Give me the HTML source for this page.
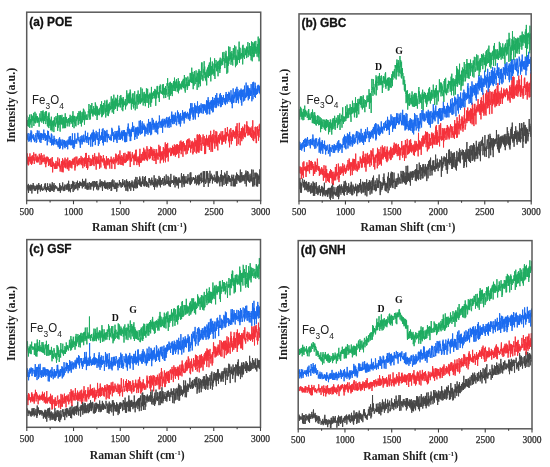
<!DOCTYPE html>
<html><head><meta charset="utf-8"><style>
html,body{margin:0;padding:0;background:#fff;}
body{width:550px;height:467px;overflow:hidden;}
svg{display:block;will-change:transform;}
.cv{filter:blur(0.3px);}
.tk{font-family:"Liberation Serif",serif;font-size:9.5px;fill:#2a2a2a;stroke:#2a2a2a;stroke-width:0.25px;text-anchor:middle;}
.xl{font-family:"Liberation Serif",serif;font-size:11.7px;font-weight:bold;fill:#222;text-anchor:middle;}
.yl{font-family:"Liberation Serif",serif;font-size:12px;font-weight:bold;fill:#222;text-anchor:middle;}
.pl{font-family:"Liberation Sans",sans-serif;font-size:11.9px;font-weight:bold;fill:#111;stroke:#111;stroke-width:0.3px;}
.fe{font-family:"Liberation Sans",sans-serif;font-size:12.1px;fill:#222;}
.dg{font-family:"Liberation Serif",serif;font-size:9.8px;font-weight:bold;fill:#111;}
</style></head><body>
<svg width="550" height="467" viewBox="0 0 550 467">
<clipPath id="cpa"><rect x="26.7" y="12.2" width="234.0" height="188.3"/></clipPath>
<g class="cv"><g clip-path="url(#cpa)" fill="none" stroke-width="1.0" stroke-linejoin="bevel"><path stroke="#474747" d="M26.70 185.0l.18 5.6 .18-4.4 .18 1.3 .18 .3 .18-1.4 .18-1.3 .18 4.3 .18-.6 .18-4.9 .18 9.0 .18-2.9 .18-3.6 .18 3.5 .18-2.9 .18 .9 .18-.3 .18-2.3 .18 3.9 .18 1.8 .18-.2 .18-3.4 .18 2.5 .18-5.3 .18 3.1 .18 1.3 .18-3.8 .18 2.6 .18 3.9 .18 1.8 .18-3.9 .18 .2 .18-3.8 .18-.6 .18-.4 .18 4.2 .18-6.2 .18 3.6 .18-1.2 .18 3.1 .18 .2 .18-1.0 .18 3.0 .18-2.9 .18 .1 .18-2.3 .18 2.7 .18 2.6 .18-2.8 .18 .1 .18 2.3 .18-4.5 .18 3.1 .18 .1 .18 .1 .18-3.0 .18 2.3 .18-4.0 .18 4.0 .18-3.3 .18 2.5 .18 5.8 .18-6.5 .18 .5 .18 0 .18-1.4 .18 3.3 .18-6.5 .18 6.4 .18-4.4 .18 1.0 .18-.4 .18 2.4 .18 1.2 .18-3.5 .18 1.9 .18 3.9 .18-4.2 .18-1.1 .18-.8 .18 2.1 .18-1.0 .18-2.4 .18 5.7 .18-3.0 .18 1.2 .18 .8 .18 2.0 .18-1.2 .18 .5 .18-1.8 .18 .7 .18 .9 .18 .3 .18-1.5 .18 0 .18-1.5 .18-.8 .18-.5 .18 2.9 .18-1.3 .18-3.9 .18 4.1 .18 2.6 .18-4.7 .18-2.2 .18 4.3 .18 2.0 .18-1.3 .18-1.3 .18 5.0 .18-4.7 .18 .4 .18 2.0 .18-.9 .18 .8 .18-6.4 .18 6.5 .18-1.6 .18-1.6 .18-.4 .18 3.1 .18 1.3 .18-1.9 .18-.6 .18 .5 .18-.5 .18 1.1 .18 2.7 .18-8.3 .18 3.5 .18-1.6 .18 6.1 .18-4.0 .18-.2 .18-2.8 .18 4.0 .18-2.0 .18 3.9 .18-.6 .18-3.6 .18 2.6 .18-6.7 .18 4.3 .18 4.3 .18-1.6 .18-.8 .18-1.7 .18-1.9 .18 .2 .18 3.5 .18 3.4 .18-8.8 .18 6.3 .18-.1 .18 .8 .18-4.0 .18 .7 .18 1.3 .18-2.4 .18-.5 .18 .8 .18 1.8 .18 1.0 .18-.9 .18 .3 .18-1.7 .18-.1 .18 .5 .18 1.0 .18-.1 .18 2.3 .18 .7 .18 0 .18-1.9 .18-1.1 .18 .8 .18-.3 .18 2.8 .18-2.5 .18 .8 .18-1.6 .18 3.2 .18-7.8 .18 5.5 .18 .9 .18-4.4 .18 7.5 .18-5.2 .18-.1 .18 .7 .18 1.7 .18-1.5 .18-1.9 .18 1.8 .18 1.1 .18 1.2 .18-2.3 .18-2.7 .18 .9 .18-4.0 .18 3.5 .18 3.4 .18-.7 .18-1.3 .18-.2 .18 4.0 .18-4.6 .18 3.0 .18-1.2 .18-2.4 .18 5.1 .18-6.5 .18 .1 .18 1.7 .18-.7 .18 .4 .18-.1 .18 3.6 .18-2.2 .18 .7 .18-.3 .18-2.5 .18 4.4 .18-5.3 .18 5.4 .18-6.0 .18 4.0 .18-2.7 .18 2.4 .18-3.8 .18 2.7 .18 4.4 .18-9.9 .18 10.7 .18-5.8 .18-1.7 .18 2.9 .18-1.1 .18 5.0 .18-2.1 .18 .7 .18-1.3 .18 4.2 .18-3.9 .18-.6 .18-3.2 .18-.2 .18 2.5 .18 1.8 .18 .3 .18-4.8 .18 3.4 .18-.8 .18-3.1 .18 3.8 .18-6.6 .18 5.9 .18 5.2 .18-8.2 .18 2.4 .18-4.5 .18 2.6 .18-2.0 .18 8.0 .18-4.4 .18-.8 .18 0 .18 1.3 .18 .6 .18 1.8 .18-1.0 .18-3.3 .18 4.6 .18-.4 .18-6.6 .18 5.2 .18 .3 .18 .4 .18-1.1 .18-.2 .18-1.7 .18-4.3 .18 4.5 .18 5.1 .18-3.2 .18 .4 .18-3.2 .18-1.2 .18 4.0 .18-1.4 .18-2.2 .18 .4 .18 4.2 .18-6.6 .18 .7 .18 1.9 .18-1.3 .18 2.2 .18-3.1 .18 3.8 .18-.8 .18 1.2 .18-3.5 .18 3.2 .18-.1 .18-2.1 .18 1.0 .18-.8 .18 4.6 .18-9.5 .18 2.7 .18-.6 .18 3.2 .18-.7 .18 .6 .18 2.7 .18-5.7 .18 1.9 .18 1.5 .18-2.4 .18 3.8 .18-.1 .18-2.5 .18-2.5 .18 8.0 .18-2.7 .18-.1 .18-7.3 .18 6.3 .18 2.0 .18-2.0 .18 2.5 .18-.8 .18 2.8 .18-6.4 .18-.3 .18 5.0 .18-1.3 .18 3.3 .18-6.1 .18-.5 .18 2.8 .18 2.3 .18-1.9 .18-.4 .18 3.6 .18-6.4 .18-1.2 .18 1.2 .18 1.0 .18 2.4 .18 .9 .18-1.5 .18 2.7 .18-5.7 .18 6.6 .18-6.6 .18 3.2 .18-3.5 .18 3.1 .18-.7 .18 1.2 .18 .5 .18-2.3 .18 .3 .18 .8 .18-3.8 .18 1.4 .18-2.2 .18 3.3 .18 6.1 .18-3.6 .18-3.9 .18 .4 .18 4.1 .18-3.6 .18-2.7 .18 1.4 .18-.1 .18 .1 .18 4.2 .18-1.5 .18-3.4 .18 1.9 .18-1.5 .18-.2 .18-.7 .18 8.0 .18-5.1 .18-3.2 .18 6.1 .18-3.0 .18 2.2 .18 0 .18-.8 .18 4.8 .18-4.6 .18 .5 .18 .4 .18 2.8 .18-1.9 .18-3.7 .18-.9 .18-.2 .18 .7 .18 2.6 .18 1.1 .18-7.7 .18 5.6 .18-2.5 .18 4.2 .18 .6 .18-4.2 .18 .8 .18-1.3 .18 3.4 .18-5.0 .18 1.2 .18 1.1 .18 4.8 .18 2.9 .18-6.0 .18-3.1 .18 3.3 .18-2.4 .18 3.3 .18-3.9 .18 1.9 .18 .9 .18 1.3 .18-4.0 .18 5.9 .18-2.9 .18-4.8 .18 5.9 .18-2.1 .18-1.0 .18 5.5 .18-6.3 .18 2.7 .18-2.0 .18 5.2 .18-4.3 .18 1.5 .18-2.6 .18 5.6 .18-6.3 .18 5.0 .18-.8 .18 1.6 .18 1.5 .18-7.5 .18 3.9 .18-.7 .18 .8 .18 1.7 .18-2.5 .18-2.4 .18 1.9 .18 4.1 .18-6.9 .18 3.2 .18-2.7 .18 5.3 .18-5.4 .18 1.7 .18 .6 .18 .6 .18 5.7 .18-2.1 .18-6.5 .18 8.1 .18-8.5 .18-1.7 .18 .9 .18 4.3 .18 .9 .18-7.0 .18 6.7 .18-1.8 .18 2.5 .18-2.8 .18 2.4 .18 0 .18-6.0 .18 8.3 .18-3.2 .18 1.4 .18 1.3 .18 .9 .18-4.3 .18-1.9 .18-.3 .18 6.2 .18-2.9 .18 2.5 .18 .1 .18-3.6 .18-2.0 .18 8.8 .18-1.2 .18-5.8 .18-2.1 .18 1.3 .18 1.8 .18 2.2 .18-.4 .18-3.8 .18 .6 .18 1.1 .18-1.2 .18 .9 .18-.4 .18-.4 .18-4.2 .18 4.0 .18 .1 .18-2.2 .18 4.5 .18-4.3 .18 1.0 .18 1.0 .18 .1 .18-.9 .18 4.3 .18-2.3 .18 .3 .18-.2 .18-2.4 .18-.5 .18 4.4 .18-3.1 .18-3.7 .18-1.1 .18 6.3 .18-2.5 .18 1.7 .18-1.2 .18 .3 .18 .6 .18-2.8 .18 3.2 .18 2.6 .18-.8 .18-6.3 .18 1.0 .18 0 .18 2.8 .18 2.9 .18-1.4 .18 5.3 .18-6.0 .18 1.9 .18-3.3 .18-4.0 .18 3.5 .18 4.7 .18 3.1 .18-9.5 .18 2.5 .18 2.3 .18 5.3 .18-7.6 .18 2.3 .18-.8 .18-1.9 .18-1.1 .18 .8 .18 4.2 .18-6.1 .18 7.4 .18-7.1 .18 1.8 .18 3.4 .18-3.4 .18 1.0 .18-.8 .18 7.4 .18-2.0 .18-1.8 .18-3.5 .18 3.1 .18-4.4 .18 1.4 .18-3.2 .18 .7 .18 .7 .18 5.6 .18-2.7 .18 .8 .18-1.0 .18 .5 .18 .2 .18 5.6 .18-6.4 .18-2.8 .18 .3 .18 5.3 .18 .5 .18-2.3 .18-5.9 .18 8.6 .18-3.4 .18-1.0 .18 .2 .18-7.0 .18 11.6 .18-.2 .18-7.4 .18 2.4 .18 1.3 .18 2.5 .18-9.9 .18 9.0 .18 1.9 .18-5.3 .18 .7 .18-.4 .18 1.5 .18-4.6 .18 .4 .18 .4 .18-1.1 .18 3.8 .18-1.4 .18 1.5 .18 1.8 .18-8.9 .18 7.5 .18-5.6 .18 6.6 .18-1.9 .18 3.4 .18-4.4 .18 2.1 .18-1.2 .18 .2 .18 3.5 .18-5.2 .18 2.2 .18 .1 .18-1.6 .18-4.9 .18 6.8 .18-7.9 .18 2.9 .18 2.8 .18 2.4 .18 1.2 .18-.1 .18-.7 .18-5.5 .18 7.2 .18-4.1 .18 3.8 .18-9.1 .18 3.4 .18 1.1 .18-2.5 .18-3.0 .18 9.2 .18 .5 .18-.6 .18-3.6 .18 5.4 .18-5.5 .18 4.0 .18-2.7 .18 .1 .18-.4 .18 .4 .18 3.1 .18 .9 .18-.1 .18-1.4 .18-.7 .18-.6 .18 3.6 .18-9.4 .18 2.8 .18 1.9 .18-4.7 .18 3.9 .18 .4 .18-2.6 .18 1.2 .18 3.5 .18-2.6 .18 .9 .18 2.6 .18-4.6 .18-1.4 .18 3.0 .18 1.2 .18-6.1 .18 6.9 .18-2.8 .18-.3 .18-1.2 .18 1.8 .18 3.2 .18-1.3 .18 .8 .18-2.7 .18 4.9 .18-.9 .18-3.6 .18-7.1 .18 7.3 .18 7.0 .18-7.4 .18-2.6 .18 7.5 .18-6.4 .18 3.0 .18 .8 .18-6.2 .18 4.4 .18 2.9 .18-4.2 .18 2.7 .18-1.9 .18 2.9 .18 2.3 .18-8.2 .18 2.2 .18 4.8 .18-5.7 .18 .4 .18 .3 .18 .2 .18-1.1 .18 2.8 .18 1.3 .18-8.5 .18 8.1 .18 1.4 .18-7.1 .18 3.5 .18 .8 .18 .9 .18-6.0 .18 9.8 .18-7.8 .18 3.3 .18 1.3 .18 .9 .18-4.9 .18 .4 .18 2.5 .18 .6 .18 .9 .18-2.7 .18-1.8 .18-1.8 .18 3.1 .18-3.3 .18 5.8 .18-1.2 .18 1.4 .18 .5 .18 1.1 .18-4.0 .18 1.3 .18-6.6 .18 5.6 .18-2.7 .18 2.1 .18 3.9 .18-3.2 .18 2.8 .18-4.1 .18-.8 .18 .6 .18-6.0 .18 6.3 .18 .1 .18 3.2 .18-2.5 .18-.3 .18 1.7 .18 .4 .18-2.9 .18 3.5 .18-8.1 .18 4.8 .18 .4 .18 4.1 .18-5.2 .18-2.7 .18 4.7 .18 4.3 .18-5.4 .18 .3 .18-.3 .18 .7 .18 3.5 .18 1.9 .18-4.3 .18-1.6 .18-7.2 .18 9.9 .18-2.3 .18-1.2 .18 .1 .18 1.6 .18-1.5 .18 2.0 .18-.9 .18 1.3 .18-2.7 .18 .5 .18 1.2 .18-.5 .18 .1 .18 3.1 .18-6.5 .18-2.5 .18 7.6 .18-2.7 .18-.3 .18 .7 .18-3.1 .18 9.6 .18-5.2 .18-5.4 .18 2.1 .18 3.8 .18-3.6 .18 3.1 .18 2.2 .18-7.4 .18 3.0 .18 2.4 .18 3.3 .18-2.1 .18-4.0 .18 5.5 .18-5.2 .18 .5 .18 1.6 .18-4.3 .18 10.7 .18-4.1 .18-2.8 .18-2.3 .18-1.7 .18 4.4 .18 .9 .18-3.2 .18 .6 .18 2.2 .18-1.8 .18 2.0 .18 0 .18-1.2 .18 1.4 .18-4.3 .18-4.0 .18-1.4 .18 9.2 .18 4.3 .18 .8 .18-5.9 .18-5.2 .18 3.3 .18 2.2 .18 0 .18-1.0 .18 3.6 .18-6.5 .18-3.7 .18 3.7 .18-.8 .18 9.8 .18-7.0 .18-3.6 .18 6.0 .18 1.0 .18-2.8 .18 .4 .18 2.4 .18-1.5 .18-3.5 .18-2.1 .18 6.8 .18-1.7 .18 1.5 .18-.8 .18 1.4 .18-3.6 .18 2.2 .18-3.4 .18 5.0 .18 .2 .18-9.6 .18 5.7 .18-2.0 .18 .4 .18 2.2 .18-.9 .18 2.1 .18-.7 .18 .1 .18-3.4 .18 1.3 .18 5.3 .18-11.6 .18 12.4 .18-6.8 .18 5.1 .18-11.1 .18 11.6 .18-1.5 .18-2.0 .18 2.5 .18-5.6 .18 .9 .18-.3 .18 3.5 .18-.2 .18-1.7 .18-.5 .18-.1 .18 1.1 .18-3.0 .18 2.6 .18-.3 .18-1.2 .18-.1 .18 1.0 .18-1.1 .18 3.0 .18 2.8 .18-1.8 .18-2.2 .18 3.0 .18-7.3 .18 .6 .18 2.4 .18 .5 .18 .4 .18 5.9 .18-.6 .18-5.2 .18 .9 .18-3.5 .18 3.7 .18-5.0 .18 8.2 .18-6.9 .18 4.3 .18-5.5 .18 8.0 .18-2.3 .18 4.0 .18-5.7 .18-5.0 .18 2.4 .18-1.4 .18 8.5 .18-6.6 .18-.4 .18 4.0 .18-1.0 .18 .7 .18-3.0 .18-4.5 .18 1.9 .18-2.5 .18 10.4 .18-1.1 .18-3.9 .18 3.0 .18 .1 .18-.1 .18-.3 .18 1.0 .18-2.4 .18-6.9 .18-1.2 .18 11.7 .18-2.1 .18-9.4 .18 15.5 .18-10.6 .18 1.0 .18-6.2 .18 10.2 .18-2.6 .18 2.7 .18 .8 .18 .6 .18 1.1 .18-4.1 .18-.2 .18-2.6 .18-6.0 .18 7.2 .18-2.9 .18 7.2 .18-1.5 .18-10.1 .18 2.3 .18 6.1 .18-4.6 .18-1.5 .18 6.2 .18 7.3 .18-5.0 .18 1.2 .18-5.0 .18 2.8 .18-1.2 .18 1.7 .18-.7 .18 2.6 .18-12.4 .18 6.6 .18 3.7 .18-5.8 .18 4.5 .18-.4 .18-2.5 .18-3.2 .18 4.8 .18-1.3 .18 1.5 .18-1.8 .18 2.1 .18-3.4 .18 7.9 .18-5.5 .18 2.3 .18 .7 .18-2.8 .18 1.8 .18-2.1 .18-.6 .18 .6 .18 2.2 .18-5.4 .18 1.1 .18 .3 .18 .7 .18 5.3 .18-3.6 .18-.9 .18 1.4 .18 2.8 .18-.2 .18 .1 .18-10.4 .18 4.5 .18 7.3 .18 .2 .18-4.2 .18-2.8 .18 4.7 .18-9.6 .18 11.9 .18-1.2 .18-1.3 .18-5.0 .18 5.7 .18-3.8 .18 0 .18-.6 .18 1.0 .18 1.9 .18 1.1 .18 0 .18 5.2 .18-8.9 .18 2.5 .18-3.5 .18-1.8 .18 4.4 .18 3.2 .18-3.0 .18-.4 .18-8.7 .18 11.2 .18-4.5 .18 2.8 .18 6.7 .18-8.4 .18 8.4 .18-11.1 .18 5.7 .18-2.3 .18-2.6 .18-.2 .18 3.5 .18-3.2 .18 8.8 .18-7.2 .18 .1 .18 .2 .18-5.4 .18 1.2 .18 3.4 .18 1.0 .18-3.8 .18 9.2 .18-3.9 .18 2.7 .18-.4 .18-4.4 .18 8.4 .18-7.3 .18-6.3 .18-1.5 .18 7.4 .18 2.7 .18-2.5 .18 5.2 .18-6.4 .18 2.8 .18 .5 .18-5.6 .18 4.2 .18 .2 .18 2.3 .18 .4 .18-.7 .18-5.5 .18 4.7 .18 1.0 .18-3.2 .18 2.2 .18 .1 .18 1.3 .18-3.5 .18 1.3 .18 6.4 .18-7.7 .18-2.2 .18 .9 .18-2.5 .18 3.5 .18 2.2 .18-2.8 .18 3.0 .18-2.7 .18-.7 .18 9.1 .18-5.6 .18-1.2 .18-4.7 .18 11.5 .18-5.7 .18-1.6 .18 .1 .18 7.2 .18-6.3 .18-1.4 .18 2.0 .18 5.7 .18-8.6 .18-.6 .18-1.5 .18 2.5 .18-.5 .18 1.0 .18-6.0 .18 11.3 .18-5.9 .18 2.0 .18-5.1 .18-.8 .18 4.2 .18-1.1 .18 3.1 .18-5.0 .18-.2 .18 4.2 .18 1.2 .18 .7 .18-3.0 .18 .9 .18-3.4 .18 6.8 .18-.6 .18-.1 .18-8.7 .18-3.5 .18 6.3 .18 6.6 .18-2.9 .18 2.5 .18-4.5 .18-.5 .18-2.1 .18-2.9 .18 8.0 .18-4.8 .18 5.1 .18-3.4 .18-.6 .18 4.9 .18-.3 .18-6.0 .18 2.7 .18 .5 .18 2.1 .18-4.5 .18 1.0 .18 1.0 .18 2.6 .18 .7 .18-6.6 .18 9.3 .18-4.3 .18-6.2 .18-.1 .18 3.4 .18-6.1 .18 8.3 .18 7.6 .18-4.1 .18-2.5 .18-7.2 .18 4.7 .18 3.1 .18-9.3 .18 4.4 .18 4.7 .18-1.9 .18-6.6 .18 4.8 .18 1.7 .18 3.4 .18-4.9 .18-1.5 .18 3.8 .18 .2 .18 .8 .18 2.8 .18-4.8 .18-4.3 .18 4.6 .18-.1 .18 3.1 .18-.4 .18-5.1 .18 4.9 .18 .7 .18-3.8 .18-8.1 .18 9.2 .18 .1 .18-1.1 .18 3.1 .18 5.7 .18-7.6 .18-4.5 .18-4.7 .18 6.6 .18 2.9 .18-1.5 .18 8.8 .18-5.9 .18-1.5 .18 6.0 .18-7.6 .18 7.4 .18-12.2 .18 6.0 .18-5.6 .18 .1 .18 .3 .18 3.7 .18 .4 .18-5.0 .18 13.7 .18-2.8 .18 .1 .18-8.1 .18-2.2 .18 5.6 .18-.1 .18 7.8 .18-12.3 .18 9.3 .18-7.8 .18 3.4 .18 .8 .18-4.3 .18 1.3 .18 3.0 .18 3.9 .18-7.7 .18 2.4 .18-9.2 .18 5.5 .18 4.7 .18-1.5 .18-.6 .18 6.0"/><path stroke="#f5323c" d="M26.70 160.0l.18 1.8 .18 .4 .18-8.8 .18 5.2 .18 4.9 .18-2.9 .18 3.9 .18-7.3 .18 8.2 .18-2.5 .18 2.1 .18-8.3 .18 4.6 .18-2.4 .18 2.5 .18-2.4 .18-2.7 .18-2.9 .18 4.2 .18 6.1 .18-6.5 .18 3.8 .18-4.2 .18 .5 .18 2.6 .18-2.4 .18 7.4 .18-1.9 .18-7.2 .18 4.8 .18 2.9 .18-8.1 .18 2.4 .18 .3 .18-1.6 .18 4.3 .18-2.2 .18 .8 .18-7.0 .18 6.2 .18-1.4 .18 6.8 .18-3.3 .18-1.6 .18-.4 .18 2.1 .18-6.8 .18 1.7 .18 .2 .18 .4 .18-2.5 .18 6.4 .18-3.0 .18 5.1 .18-4.0 .18-.8 .18 2.4 .18-4.2 .18 2.0 .18 2.6 .18 2.0 .18-5.1 .18 5.2 .18-4.4 .18 3.1 .18-2.7 .18-1.0 .18 2.1 .18-4.3 .18-1.4 .18 4.6 .18-.6 .18-2.6 .18 9.7 .18-6.2 .18-2.9 .18 4.3 .18 .1 .18-2.7 .18-.4 .18-4.0 .18 6.3 .18 5.0 .18-2.1 .18-.3 .18-6.7 .18 6.9 .18-.5 .18-1.7 .18-1.0 .18-.7 .18 3.9 .18-.9 .18-3.2 .18 1.1 .18-4.6 .18 1.6 .18 5.4 .18-.6 .18-3.6 .18 3.6 .18 3.1 .18-6.3 .18 1.7 .18 .3 .18 7.4 .18-3.3 .18-2.2 .18-5.0 .18 6.8 .18-.5 .18-2.2 .18-1.6 .18 1.0 .18-3.5 .18 4.0 .18-.1 .18-1.3 .18 2.6 .18-4.4 .18 8.4 .18-3.9 .18-3.0 .18 6.1 .18-.5 .18-3.2 .18-2.3 .18 3.9 .18 1.7 .18 .6 .18 1.0 .18-.1 .18-7.0 .18 4.9 .18-5.9 .18 8.7 .18-1.6 .18 1.7 .18-2.7 .18 0 .18-1.6 .18-5.7 .18 6.9 .18 8.5 .18-3.8 .18-4.6 .18-2.2 .18 4.4 .18-3.1 .18 1.8 .18 1.1 .18-2.6 .18 3.0 .18 2.4 .18-1.2 .18-1.7 .18-1.4 .18 2.8 .18-3.9 .18-.3 .18 5.9 .18-5.1 .18-3.0 .18 6.8 .18-.4 .18 1.2 .18-3.8 .18 3.9 .18-4.0 .18-2.7 .18 2.6 .18 1.3 .18-8.4 .18 7.0 .18 1.4 .18-2.1 .18 1.5 .18-.3 .18-2.5 .18 3.6 .18 .7 .18-8.0 .18 4.1 .18 4.6 .18-1.1 .18 5.3 .18-6.0 .18 3.6 .18-1.7 .18-.3 .18-2.8 .18 .6 .18-3.8 .18 3.6 .18 7.1 .18-.1 .18-10.0 .18 4.5 .18-8.0 .18 13.4 .18-5.2 .18 5.9 .18-9.0 .18-1.7 .18 3.2 .18-.3 .18-5.0 .18 7.9 .18-4.2 .18-2.3 .18 3.9 .18 1.7 .18-8.9 .18 4.5 .18 5.4 .18-4.7 .18 1.9 .18 3.6 .18-8.1 .18-.9 .18 2.0 .18 .8 .18 1.9 .18 2.9 .18-4.4 .18 6.6 .18-4.6 .18-7.0 .18 6.1 .18 2.4 .18 1.2 .18-5.8 .18 1.9 .18 7.3 .18-6.6 .18-3.4 .18 5.7 .18-4.2 .18 2.5 .18-4.7 .18 7.8 .18-6.7 .18 3.7 .18 .7 .18-2.0 .18-.9 .18 4.8 .18-6.0 .18 4.1 .18-3.9 .18 6.8 .18-5.2 .18 0 .18-3.9 .18 3.5 .18 1.7 .18-2.2 .18-3.8 .18 4.7 .18-1.9 .18 3.5 .18-.4 .18-4.9 .18 2.4 .18-4.4 .18 5.7 .18 2.3 .18 5.0 .18-6.8 .18 2.4 .18 1.3 .18-2.4 .18-8.3 .18 4.5 .18 2.5 .18-.1 .18-.6 .18-3.3 .18-3.1 .18 7.1 .18 2.5 .18-5.3 .18 3.3 .18-3.5 .18 1.2 .18-1.4 .18 4.5 .18-5.6 .18 2.5 .18 3.3 .18-3.0 .18-3.9 .18 5.2 .18-1.9 .18-3.6 .18 3.6 .18-.4 .18 1.1 .18-1.8 .18 1.9 .18 1.6 .18-8.1 .18 9.3 .18-3.2 .18-3.3 .18 3.7 .18 .9 .18-3.6 .18-2.3 .18 5.8 .18 3.7 .18 1.3 .18-6.3 .18-3.2 .18 0 .18 2.0 .18-2.2 .18 4.6 .18 2.7 .18-7.6 .18 8.3 .18-7.8 .18 7.4 .18-8.9 .18 6.8 .18-2.7 .18 .4 .18-8.7 .18 6.6 .18 2.9 .18-9.6 .18 15.0 .18-5.4 .18 2.5 .18-4.5 .18 4.0 .18 1.2 .18 4.1 .18-11.7 .18 10.2 .18-10.3 .18 4.0 .18-1.8 .18 .7 .18-5.7 .18 5.3 .18-2.9 .18 3.2 .18 1.5 .18-.6 .18-.6 .18 5.0 .18-3.5 .18 .8 .18 2.5 .18-7.5 .18 3.4 .18 1.9 .18-3.1 .18 5.0 .18-6.3 .18 1.4 .18 .2 .18-.6 .18 1.0 .18-1.5 .18-4.9 .18 10.2 .18-5.2 .18 3.8 .18-6.0 .18 1.8 .18-2.5 .18 9.1 .18-5.3 .18-1.1 .18-6.5 .18 .4 .18 5.9 .18-.5 .18 0 .18 .3 .18 4.9 .18-4.5 .18-3.5 .18 13.5 .18-12.3 .18 4.8 .18-2.7 .18 .2 .18 2.2 .18-.8 .18 2.4 .18-.1 .18-6.8 .18 1.7 .18 5.8 .18-4.5 .18 3.4 .18-5.1 .18-5.2 .18 .8 .18 5.0 .18 .9 .18 9.3 .18-5.3 .18-.2 .18 .8 .18-8.5 .18 5.6 .18-.6 .18 7.0 .18-9.0 .18-2.5 .18 5.1 .18-.9 .18 1.0 .18 .5 .18-.3 .18-2.7 .18 .6 .18 2.1 .18-2.6 .18 3.8 .18-5.1 .18-2.4 .18 4.7 .18 1.8 .18 3.8 .18-.8 .18-2.8 .18-3.3 .18 9.1 .18-6.3 .18 7.1 .18-4.9 .18 .8 .18-1.0 .18-.5 .18-2.3 .18 8.7 .18-7.0 .18-6.1 .18 6.2 .18-3.3 .18 5.6 .18-3.9 .18 4.6 .18-3.7 .18-3.0 .18 1.5 .18 3.5 .18-4.5 .18-.8 .18 2.2 .18 1.7 .18 3.1 .18-2.7 .18 1.4 .18-3.5 .18 6.9 .18 1.2 .18-9.4 .18 2.7 .18-1.3 .18 1.5 .18-2.1 .18 1.4 .18-4.8 .18 2.6 .18 1.8 .18 3.5 .18 4.3 .18-9.3 .18-.8 .18 3.8 .18-2.4 .18 1.1 .18 1.7 .18 .5 .18-.7 .18 1.4 .18-4.3 .18-2.5 .18 1.2 .18 3.7 .18-2.6 .18-.3 .18 2.2 .18 7.6 .18-8.2 .18-1.5 .18 1.2 .18-.9 .18-6.1 .18 9.7 .18-9.0 .18 4.1 .18 .4 .18 3.0 .18-2.3 .18-.9 .18-.8 .18 3.1 .18-2.0 .18-1.4 .18-2.2 .18 9.7 .18-4.6 .18-6.0 .18 5.9 .18-.2 .18 3.7 .18-6.5 .18-1.0 .18 3.0 .18-1.0 .18-7.8 .18 14.1 .18-.2 .18-4.4 .18-3.4 .18 3.2 .18-1.4 .18 6.6 .18-3.2 .18-3.5 .18-3.2 .18 1.2 .18 1.6 .18-.8 .18 7.8 .18-4.4 .18-3.9 .18 2.3 .18 6.7 .18-7.5 .18 3.2 .18-8.2 .18 4.1 .18 1.3 .18 3.2 .18-2.6 .18 1.2 .18 2.8 .18-10.3 .18 6.4 .18 2.2 .18-1.7 .18 3.2 .18-4.7 .18-.9 .18-1.4 .18 6.1 .18-7.8 .18 3.0 .18 1.4 .18 2.3 .18-3.3 .18-2.3 .18 5.4 .18-6.2 .18 1.5 .18-4.6 .18 7.7 .18-1.0 .18-5.9 .18 7.5 .18 .6 .18-4.4 .18-3.6 .18 5.6 .18 .1 .18-6.5 .18 15.5 .18-9.2 .18 3.5 .18-7.0 .18 7.0 .18-2.2 .18 1.6 .18-2.5 .18 3.2 .18-4.1 .18-1.0 .18-2.2 .18-1.9 .18 5.8 .18-1.5 .18 .9 .18-.7 .18 2.2 .18-1.1 .18-2.3 .18 4.8 .18 4.8 .18-10.7 .18 1.6 .18 3.5 .18-4.6 .18 6.2 .18-6.1 .18-1.9 .18 .9 .18 7.2 .18-11.1 .18 7.7 .18-8.2 .18 10.4 .18-1.2 .18 .9 .18 5.4 .18-8.0 .18 4.5 .18-2.0 .18 1.6 .18-2.1 .18 2.4 .18-5.2 .18 6.5 .18-1.9 .18-3.2 .18 1.9 .18 5.2 .18-6.5 .18 8.3 .18-12.1 .18 5.1 .18-10.8 .18 7.7 .18 .8 .18 2.6 .18 3.1 .18-4.7 .18-.4 .18-3.9 .18 7.0 .18 1.4 .18-5.5 .18-3.0 .18 1.1 .18 2.2 .18 .4 .18 2.8 .18-8.5 .18 5.5 .18 3.0 .18-2.1 .18 1.2 .18-11.7 .18 6.0 .18 1.5 .18-1.3 .18-3.2 .18 9.8 .18-3.0 .18-8.1 .18 5.3 .18 1.8 .18-3.9 .18 6.2 .18-7.1 .18 2.1 .18 3.2 .18 2.8 .18-5.3 .18-.8 .18-7.6 .18 10.4 .18 4.5 .18-3.3 .18 1.9 .18-11.0 .18 2.2 .18-.7 .18 3.1 .18 3.8 .18-2.4 .18 2.8 .18-4.7 .18 6.4 .18-.5 .18-9.7 .18 2.4 .18 1.7 .18 5.3 .18-.2 .18-11.5 .18 2.9 .18 6.4 .18-4.8 .18 2.8 .18 .5 .18-7.3 .18 8.9 .18-2.8 .18-3.2 .18 10.1 .18-8.0 .18 3.4 .18-3.5 .18-3.3 .18 4.1 .18 2.9 .18-5.0 .18 5.6 .18 4.6 .18-2.3 .18-5.4 .18-1.9 .18 6.5 .18-8.8 .18 1.3 .18 10.5 .18-5.1 .18 .4 .18-3.0 .18 10.8 .18 0 .18-10.2 .18 3.7 .18-8.3 .18 6.9 .18 3.3 .18-.2 .18-5.5 .18 2.1 .18-1.9 .18-1.3 .18 7.1 .18-3.3 .18-2.7 .18 2.2 .18-11.1 .18 2.8 .18 2.2 .18 .7 .18 6.2 .18-9.3 .18 8.2 .18-9.4 .18 17.1 .18-11.8 .18 2.8 .18 6.1 .18-7.6 .18 1.1 .18 .2 .18 1.6 .18-4.2 .18 8.7 .18-2.4 .18-3.9 .18 5.0 .18-6.0 .18-1.7 .18 1.6 .18 2.2 .18-7.9 .18 15.4 .18-6.1 .18 4.4 .18-6.6 .18-5.6 .18 5.0 .18-1.1 .18 1.6 .18 2.4 .18-11.6 .18-2.5 .18 19.9 .18-15.5 .18-1.5 .18 .6 .18 11.9 .18-13.7 .18 11.6 .18-7.9 .18 8.4 .18-7.0 .18 7.8 .18-5.2 .18-8.9 .18 8.7 .18-3.1 .18 13.0 .18-6.6 .18-4.3 .18 0 .18-2.2 .18 .3 .18 2.7 .18 1.0 .18-2.6 .18 .6 .18 1.0 .18-3.8 .18 2.8 .18 1.0 .18 4.7 .18-2.2 .18-.8 .18 1.7 .18-6.8 .18 7.5 .18-6.0 .18 .9 .18-1.1 .18 4.2 .18-7.8 .18 7.4 .18-3.8 .18-.6 .18 3.5 .18-5.1 .18 8.2 .18 .1 .18-6.9 .18 6.6 .18-10.7 .18 9.5 .18-3.4 .18 0 .18 .4 .18-4.4 .18 10.1 .18-4.4 .18 .4 .18-7.7 .18 10.1 .18-3.9 .18-5.1 .18 8.2 .18-9.9 .18 3.5 .18 5.8 .18-9.3 .18 8.9 .18-1.4 .18-3.8 .18 .3 .18-3.3 .18 4.9 .18-3.0 .18 11.2 .18-10.6 .18 3.0 .18 2.4 .18-8.6 .18 6.6 .18-6.4 .18-3.1 .18 4.7 .18 2.9 .18-.5 .18 1.7 .18-9.7 .18 13.7 .18-2.3 .18-.7 .18-9.1 .18 8.2 .18-3.9 .18 .9 .18 1.1 .18-6.5 .18 10.7 .18 4.2 .18-5.4 .18-6.0 .18-4.1 .18 5.6 .18-.2 .18-3.6 .18 8.2 .18-4.5 .18-3.1 .18 6.5 .18-2.0 .18 .3 .18-.2 .18 2.3 .18-5.3 .18 .8 .18 8.3 .18-6.7 .18-.1 .18-7.1 .18 8.9 .18 .6 .18-1.5 .18 5.2 .18-14.3 .18 .9 .18 .4 .18 2.3 .18-3.9 .18 11.3 .18-3.9 .18-1.3 .18 1.8 .18-8.6 .18 5.9 .18 3.2 .18-3.3 .18 2.1 .18-6.1 .18 7.0 .18-2.0 .18 2.1 .18 5.3 .18-6.0 .18 1.9 .18-.7 .18-6.2 .18 6.8 .18-2.4 .18 0 .18 1.9 .18-7.1 .18 4.9 .18-.9 .18 9.6 .18-2.9 .18 1.5 .18-10.3 .18 3.4 .18 3.7 .18-7.1 .18-1.1 .18 10.1 .18-4.5 .18 0 .18-9.0 .18 5.2 .18-.2 .18-1.0 .18 4.1 .18-5.1 .18-1.1 .18 12.7 .18-6.0 .18-6.2 .18 12.9 .18-6.4 .18-.9 .18-11.6 .18 16.2 .18-5.4 .18-10.9 .18 17.2 .18-12.3 .18 12.9 .18-4.2 .18-3.0 .18-9.9 .18 17.5 .18-6.8 .18 1.2 .18-13.1 .18 13.0 .18 1.8 .18 1.7 .18-10.0 .18-5.1 .18 6.3 .18-1.6 .18 5.1 .18-1.8 .18 1.5 .18 4.3 .18 1.7 .18-2.8 .18-10.8 .18 6.4 .18-.8 .18 .4 .18-.3 .18 .4 .18-9.0 .18 11.3 .18-.3 .18-.7 .18-2.0 .18 1.2 .18-7.8 .18 6.5 .18 2.7 .18 8.8 .18-11.8 .18 10.1 .18-10.4 .18-3.0 .18 14.8 .18-9.8 .18-5.8 .18 4.3 .18-1.8 .18-5.8 .18 10.5 .18-.1 .18-2.8 .18 .6 .18 2.2 .18-6.4 .18 3.8 .18-4.5 .18 8.8 .18-4.7 .18-5.7 .18 3.2 .18 5.0 .18-1.9 .18-8.0 .18 15.0 .18-7.4 .18 .6 .18-2.9 .18-2.1 .18 .6 .18 3.3 .18-11.2 .18 9.4 .18 11.7 .18-9.4 .18-5.6 .18 2.5 .18 6.2 .18-10.3 .18 14.4 .18-11.1 .18 12.8 .18 .5 .18-17.8 .18 8.4 .18-1.5 .18-3.3 .18 3.0 .18 0 .18-10.9 .18 13.6 .18-1.5 .18-1.0 .18 2.3 .18 5.5 .18-13.7 .18 8.4 .18-4.7 .18-2.9 .18 1.1 .18-5.8 .18 4.5 .18 10.7 .18-11.0 .18 8.3 .18-11.9 .18 8.8 .18-2.3 .18 5.3 .18-3.2 .18 8.5 .18 1.6 .18-13.5 .18 5.1 .18-6.9 .18-.1 .18 3.7 .18 3.9 .18-1.0 .18-3.5 .18 5.4 .18-9.7 .18 1.1 .18-1.3 .18 5.3 .18-3.8 .18 2.8 .18-.9 .18 3.2 .18-8.9 .18 6.5 .18 2.9 .18-3.2 .18-.9 .18 8.2 .18-6.7 .18 5.6 .18-5.8 .18-6.8 .18 9.9 .18-2.9 .18-2.8 .18 6.3 .18 .2 .18-5.9 .18 4.6 .18 1.1 .18-7.0 .18 4.0 .18-1.0 .18 2.3 .18-3.7 .18-8.0 .18 7.3 .18 8.0 .18-8.7 .18 1.3 .18 4.3 .18-4.5 .18-3.7 .18 4.4 .18-.7 .18-2.9 .18 3.0 .18-9.0 .18 2.9 .18 1.8 .18 3.9 .18 .8 .18-2.6 .18 7.2 .18-2.2 .18-2.3 .18 4.6 .18 1.4 .18-3.3 .18 8.1 .18-17.7 .18 11.5 .18-3.3 .18-2.3 .18 1.6 .18 .3 .18-9.3 .18 6.4 .18 1.5 .18 8.3 .18-8.2 .18-3.8 .18 6.9 .18-3.2 .18 5.0 .18-7.3 .18-.1 .18-1.0 .18-2.6 .18 7.2 .18-7.3 .18 6.2 .18-1.2 .18-3.8 .18 3.1 .18-2.4 .18 1.6 .18 2.3 .18 2.3 .18 .8 .18-6.7 .18 5.7 .18-5.6 .18-2.4 .18 .8 .18-4.3 .18 8.6 .18-8.2 .18 8.7 .18 10.5 .18-15.4 .18-7.3 .18 13.3 .18-6.6 .18 4.3 .18 .1 .18 1.0 .18 8.9 .18-8.6 .18-.2 .18-1.6 .18-2.8 .18 .4 .18-8.6 .18 15.1 .18-4.5 .18 3.6 .18 1.7 .18 6.6 .18-11.7 .18 3.1 .18-5.4 .18 7.7 .18-5.9 .18 1.0 .18-6.1 .18 8.3 .18 4.9 .18-11.0 .18 .5 .18 7.0 .18-7.0 .18-4.1 .18 1.7 .18 10.9 .18-6.9 .18-4.0 .18 6.9 .18-.1 .18-2.9 .18 3.5 .18-3.8 .18-7.4 .18 12.4 .18-3.8 .18 1.9 .18 2.3 .18-4.5 .18 2.8 .18-2.9 .18-.9 .18-7.1 .18 2.9 .18 .9 .18 4.7 .18-11.9 .18 7.4 .18 2.1 .18-5.5 .18 5.7 .18 .6 .18 4.1 .18-9.3 .18 8.4 .18-1.2 .18-2.5 .18-4.2 .18 .8 .18 3.8 .18 3.4 .18-3.1 .18-2.9 .18 4.6 .18-5.9 .18 8.1 .18-4.0 .18-2.1 .18 7.2 .18-9.0 .18 4.7 .18 2.0 .18 3.0 .18-4.1 .18 4.7 .18-11.7 .18 4.7 .18 .9 .18 .4 .18-12.1 .18 19.9 .18-10.0 .18 6.2 .18-2.6 .18 7.3 .18-10.2 .18 4.2 .18-.7 .18-2.3 .18 1.6 .18-1.5 .18 6.5 .18-11.7 .18 3.9 .18 6.4 .18-10.6 .18 1.5 .18 6.2 .18 8.7 .18-5.3 .18 5.3 .18-10.4 .18-5.7 .18 1.8 .18 2.9 .18 1.7 .18-7.1 .18 9.0 .18 .5 .18-6.1 .18-.5 .18 11.5 .18-9.8 .18 5.1 .18 1.3 .18-12.7 .18 6.1 .18-1.4 .18 1.1 .18-6.7 .18 5.4 .18 5.9 .18-2.2 .18 2.5"/><path stroke="#1c6cf0" d="M26.70 138.1l.18-2.6 .18 1.7 .18 1.3 .18-4.1 .18 1.7 .18 3.6 .18 .4 .18-7.1 .18 7.2 .18 1.3 .18-1.2 .18-1.2 .18-.9 .18 .7 .18-2.4 .18 4.8 .18-3.6 .18-4.1 .18 5.5 .18 1.0 .18-1.4 .18-5.8 .18 6.4 .18-9.0 .18 11.9 .18-3.2 .18-6.7 .18-.7 .18 7.0 .18-.6 .18-2.7 .18 2.9 .18-1.6 .18 .1 .18 1.4 .18-.1 .18-3.8 .18 3.8 .18 2.2 .18-3.5 .18 3.1 .18-1.2 .18 3.1 .18 .4 .18-3.5 .18 2.4 .18-6.0 .18 .7 .18 1.7 .18-.7 .18-.2 .18-3.5 .18 9.8 .18-4.3 .18 2.2 .18 1.2 .18-5.0 .18 .1 .18-6.7 .18 5.6 .18-.5 .18 1.4 .18-3.2 .18 5.8 .18-6.1 .18 4.3 .18 1.0 .18-7.9 .18 4.1 .18 3.2 .18-3.0 .18 6.4 .18 .8 .18-4.3 .18-5.0 .18 5.5 .18-4.5 .18 5.0 .18 4.1 .18-6.3 .18 2.8 .18-6.3 .18 6.5 .18-1.3 .18-2.1 .18-.3 .18-2.3 .18 2.6 .18 1.6 .18-3.8 .18 .1 .18 5.7 .18-3.8 .18-2.0 .18-4.5 .18 5.9 .18-.5 .18 3.2 .18-4.0 .18-1.2 .18 4.5 .18-.4 .18 3.8 .18-7.2 .18 2.1 .18 4.7 .18-.7 .18-3.8 .18-.7 .18 4.4 .18-2.0 .18-2.2 .18 1.1 .18 8.7 .18-4.3 .18-10.3 .18 5.8 .18 5.2 .18-8.3 .18 4.1 .18-6.5 .18 3.7 .18 2.3 .18-.9 .18 3.1 .18-2.3 .18-1.1 .18 3.4 .18 .4 .18 2.8 .18-4.4 .18 .8 .18-1.1 .18 5.1 .18 .2 .18-5.8 .18-3.7 .18 11.9 .18-11.0 .18 .4 .18 3.6 .18 6.4 .18-1.4 .18-3.9 .18 2.8 .18-2.4 .18 3.8 .18-4.5 .18 6.1 .18-2.9 .18-3.3 .18-3.3 .18 8.5 .18-1.8 .18-4.3 .18 .2 .18 1.3 .18 .5 .18 .5 .18 .6 .18 .1 .18-1.6 .18 4.8 .18-3.9 .18-1.0 .18 3.6 .18-4.2 .18 3.9 .18-.8 .18 2.7 .18-3.1 .18 1.9 .18 1.7 .18-3.9 .18 5.7 .18-3.0 .18-3.4 .18 2.4 .18-4.5 .18 .6 .18 2.9 .18 6.7 .18-11.6 .18 7.2 .18-.7 .18 1.6 .18 2.9 .18-8.7 .18 .8 .18 .5 .18 4.5 .18-2.9 .18 1.5 .18 .9 .18 .7 .18-6.0 .18-.1 .18 3.9 .18 .5 .18 5.4 .18-5.8 .18-3.7 .18 1.7 .18 .5 .18 1.0 .18 1.4 .18-3.0 .18 5.9 .18-7.3 .18 4.6 .18-.4 .18-3.3 .18 7.3 .18-5.8 .18-.6 .18 4.3 .18-2.3 .18-.7 .18-2.3 .18 3.2 .18 1.7 .18 1.3 .18-2.7 .18-.2 .18-3.6 .18 3.8 .18 2.2 .18 2.8 .18-7.5 .18-2.3 .18 .3 .18 3.9 .18 .9 .18-4.2 .18-1.4 .18-2.2 .18 7.7 .18-6.7 .18 6.1 .18-2.3 .18-5.4 .18 2.4 .18 6.3 .18-8.8 .18 5.1 .18 4.3 .18-5.8 .18 2.4 .18 2.9 .18-3.1 .18 3.0 .18-4.9 .18 4.9 .18-11.6 .18 6.7 .18 2.9 .18 5.1 .18-6.3 .18 3.4 .18-.9 .18-4.1 .18 9.0 .18-6.3 .18-1.2 .18 .1 .18 5.4 .18-13.8 .18 6.0 .18 4.5 .18-3.1 .18 1.4 .18-.2 .18-1.6 .18 .7 .18-2.4 .18 2.2 .18 2.3 .18 .7 .18-1.5 .18-2.3 .18-.5 .18 .6 .18-.1 .18-7.2 .18 5.6 .18 1.0 .18 1.2 .18 .2 .18-.4 .18-3.5 .18 2.0 .18 3.4 .18-2.4 .18 1.5 .18-1.1 .18 4.4 .18 .4 .18 2.8 .18-8.9 .18 5.6 .18-8.4 .18 6.0 .18-.8 .18-2.6 .18 2.5 .18-.8 .18-5.2 .18 9.1 .18-4.2 .18 2.1 .18-4.4 .18-.4 .18-1.4 .18 .4 .18 5.4 .18-.5 .18-6.7 .18 0 .18 5.0 .18 1.0 .18-.3 .18-.8 .18 2.7 .18-3.9 .18 1.4 .18-9.0 .18 6.9 .18 1.4 .18-2.1 .18 1.2 .18-2.2 .18 5.4 .18-2.0 .18-1.7 .18 5.3 .18-7.1 .18 2.6 .18-3.8 .18-2.0 .18 7.1 .18-.5 .18-1.8 .18 0 .18 7.4 .18-3.8 .18-2.7 .18-.7 .18-.4 .18 2.1 .18-1.9 .18 1.1 .18-1.7 .18 3.7 .18-1.6 .18-4.3 .18 12.0 .18-7.6 .18-2.3 .18-2.4 .18 4.0 .18-2.1 .18-3.5 .18 6.9 .18-3.5 .18-3.6 .18 13.9 .18-13.7 .18 6.7 .18-1.1 .18-8.7 .18 12.3 .18-10.0 .18 3.1 .18 5.9 .18-8.5 .18 5.0 .18 1.2 .18 1.7 .18-1.8 .18-3.9 .18 10.4 .18-8.2 .18 .2 .18-3.4 .18 5.9 .18-8.8 .18 6.3 .18 .3 .18-3.9 .18 4.7 .18-3.5 .18-.1 .18 5.4 .18-2.1 .18-2.0 .18-3.8 .18 5.3 .18 8.5 .18-7.5 .18 3.0 .18-.2 .18 2.9 .18-4.9 .18-10.4 .18 9.6 .18 .5 .18-.1 .18 2.1 .18-5.1 .18 2.6 .18-.1 .18-1.3 .18-1.6 .18 4.5 .18-3.9 .18-3.7 .18 7.2 .18-6.9 .18 7.1 .18-10.6 .18 8.1 .18 5.8 .18-3.2 .18-11.5 .18 7.5 .18 9.6 .18-9.3 .18 4.0 .18 1.1 .18 .4 .18-1.7 .18-3.0 .18-6.5 .18 4.0 .18 7.4 .18-10.2 .18 6.8 .18 3.3 .18-10.5 .18 6.6 .18-2.4 .18-1.9 .18 2.7 .18-.3 .18-2.4 .18-3.6 .18 12.4 .18-8.7 .18 1.9 .18-.4 .18 .3 .18-1.5 .18 4.2 .18-1.9 .18-1.6 .18-.3 .18 3.6 .18-1.5 .18 1.5 .18 1.5 .18 .3 .18-1.7 .18 2.0 .18-1.5 .18-1.5 .18 1.1 .18 1.4 .18-4.9 .18 6.3 .18-1.6 .18 .6 .18-2.7 .18-9.4 .18 6.7 .18-.1 .18-3.0 .18-1.9 .18 6.5 .18-3.7 .18 1.2 .18-1.0 .18 2.3 .18 7.3 .18-3.8 .18-1.0 .18-3.0 .18 .6 .18 2.5 .18 2.2 .18-4.5 .18-4.1 .18 5.3 .18 1.1 .18-3.7 .18 5.6 .18-5.7 .18 1.6 .18 1.2 .18 4.1 .18-9.4 .18 5.8 .18 6.1 .18-8.6 .18 4.0 .18-5.7 .18-1.8 .18-.3 .18 1.9 .18-1.4 .18 5.4 .18-1.7 .18-9.2 .18 14.4 .18-4.6 .18-6.4 .18-.8 .18 6.5 .18 4.4 .18-5.7 .18 4.3 .18 2.2 .18-3.1 .18-2.6 .18 1.3 .18-3.5 .18 6.7 .18-4.5 .18-3.5 .18 2.0 .18 .7 .18 4.5 .18-5.9 .18 8.4 .18-5.7 .18 .4 .18-5.1 .18 5.2 .18-.5 .18 1.5 .18-5.0 .18 3.2 .18-1.1 .18-3.2 .18 11.5 .18-9.8 .18 10.4 .18-8.4 .18-1.1 .18 9.4 .18-8.6 .18 2.1 .18-3.4 .18 4.9 .18-3.9 .18 8.7 .18-.8 .18-6.6 .18 .9 .18-6.5 .18 2.0 .18-.9 .18-3.2 .18 6.9 .18-10.2 .18 4.5 .18 .5 .18 4.9 .18-1.0 .18 3.6 .18 .5 .18-3.7 .18-4.0 .18 5.9 .18-5.2 .18 11.6 .18-9.0 .18 5.1 .18 3.8 .18-4.7 .18-6.0 .18 4.9 .18 1.2 .18-7.6 .18 2.4 .18-1.8 .18-2.2 .18 4.8 .18-9.6 .18 6.5 .18 2.8 .18-4.5 .18 3.7 .18 1.1 .18-2.3 .18-3.8 .18 2.7 .18 4.0 .18 2.0 .18-.1 .18 5.4 .18-2.7 .18-7.7 .18 5.5 .18-6.9 .18 8.9 .18-2.7 .18-7.1 .18 6.0 .18 1.0 .18-6.4 .18 4.0 .18 1.8 .18 5.2 .18-10.3 .18 3.9 .18-5.6 .18 .6 .18 7.6 .18-2.1 .18-5.4 .18 8.1 .18-4.4 .18-.5 .18-1.7 .18-8.2 .18 9.1 .18 3.3 .18-3.6 .18 2.7 .18-3.0 .18 5.3 .18-14.4 .18 11.1 .18-8.3 .18 7.2 .18 1.6 .18 1.7 .18-1.3 .18 1.4 .18-8.0 .18 4.1 .18-8.4 .18 11.8 .18-4.3 .18-1.7 .18 2.5 .18-1.8 .18-1.3 .18 2.9 .18-2.9 .18-3.0 .18 6.5 .18-4.6 .18 4.8 .18-5.2 .18 11.3 .18 0 .18-5.9 .18 2.2 .18-6.0 .18 2.8 .18-1.4 .18 6.0 .18-3.6 .18-2.1 .18-.6 .18 .3 .18 3.6 .18-3.7 .18-4.2 .18 8.9 .18-1.4 .18-.7 .18 4.2 .18-7.5 .18-3.8 .18-4.4 .18 8.1 .18 1.1 .18 2.6 .18-8.8 .18 10.6 .18-6.3 .18-.3 .18-4.1 .18 4.4 .18 3.1 .18-7.5 .18 13.3 .18-5.9 .18-5.6 .18 2.1 .18-.5 .18 9.0 .18-8.9 .18-.2 .18-7.3 .18 7.0 .18-1.2 .18 2.1 .18 3.9 .18 0 .18-8.8 .18-1.1 .18 7.6 .18-2.8 .18-.6 .18 5.5 .18-2.3 .18-3.6 .18 4.1 .18-1.6 .18-3.4 .18 9.5 .18-7.8 .18 2.9 .18-3.1 .18-.2 .18-3.0 .18-.2 .18 8.9 .18 2.9 .18-9.5 .18 3.9 .18-4.2 .18 1.8 .18 5.8 .18 3.9 .18-7.0 .18-1.1 .18 2.5 .18-5.7 .18-1.3 .18 1.2 .18 .5 .18-.5 .18-7.4 .18 2.1 .18 9.6 .18 .5 .18-.6 .18-3.9 .18-1.7 .18 2.3 .18 1.3 .18-3.1 .18 5.9 .18-3.3 .18-3.9 .18 5.5 .18 .7 .18-7.5 .18 .8 .18 .4 .18 12.2 .18-7.9 .18-6.2 .18 7.1 .18-1.7 .18 2.2 .18-4.2 .18-1.4 .18 3.3 .18 .3 .18 .2 .18-5.6 .18 3.7 .18-.8 .18 5.7 .18-4.4 .18-1.7 .18 1.8 .18-3.4 .18 4.4 .18-6.0 .18 2.3 .18 2.5 .18-6.0 .18 0 .18 2.1 .18 8.4 .18-7.2 .18 1.9 .18 3.5 .18-.6 .18-5.6 .18-2.0 .18 8.7 .18-7.1 .18 4.9 .18 4.0 .18-6.9 .18-4.5 .18 7.3 .18 .3 .18 .5 .18-.5 .18-5.2 .18 3.6 .18 .7 .18 3.9 .18-4.0 .18-1.3 .18-7.2 .18 5.1 .18-8.2 .18 10.8 .18-1.4 .18 1.6 .18-7.4 .18 8.8 .18-6.8 .18 7.0 .18-9.6 .18 3.1 .18 3.3 .18-1.1 .18-1.8 .18-1.8 .18 5.8 .18 1.6 .18-7.5 .18-1.3 .18 5.9 .18-1.8 .18-6.4 .18 2.8 .18 6.4 .18-5.7 .18-.1 .18 8.9 .18-1.7 .18 2.2 .18-6.5 .18-.6 .18-1.1 .18-4.2 .18-2.5 .18 7.7 .18-2.7 .18 5.4 .18 1.2 .18-9.7 .18 .5 .18 6.2 .18 4.5 .18 .6 .18-8.8 .18 2.8 .18 5.3 .18-8.5 .18-1.0 .18 .3 .18 12.2 .18-13.5 .18 10.7 .18-7.9 .18 .1 .18 3.8 .18 0 .18 .7 .18-2.2 .18 .6 .18 0 .18-.6 .18-7.9 .18 7.8 .18 2.6 .18-6.8 .18 3.3 .18 1.9 .18-6.4 .18 3.7 .18 1.9 .18 5.2 .18-11.5 .18 8.5 .18-1.7 .18-4.4 .18 .2 .18-3.0 .18 6.1 .18-4.7 .18 1.3 .18 1.2 .18-1.7 .18 2.9 .18-3.2 .18 5.1 .18-.2 .18-2.4 .18-.3 .18-3.8 .18 .3 .18 4.2 .18-.6 .18-2.0 .18 5.5 .18-4.1 .18-.3 .18-1.0 .18 4.7 .18-5.1 .18 2.0 .18-6.2 .18 11.5 .18-12.2 .18 10.0 .18-9.3 .18-1.6 .18-4.5 .18 10.9 .18 .4 .18-2.7 .18-.5 .18-3.6 .18 5.0 .18-9.6 .18 3.7 .18 3.9 .18 .5 .18-3.2 .18 8.7 .18-9.6 .18 12.7 .18-3.2 .18-6.4 .18 8.2 .18-2.0 .18 .3 .18-4.2 .18-4.7 .18-4.5 .18 9.4 .18-1.7 .18-1.9 .18 10.4 .18-12.6 .18-1.6 .18 5.3 .18 2.5 .18-7.0 .18 5.7 .18-2.3 .18 3.4 .18-.6 .18 1.0 .18-5.8 .18-6.1 .18 6.7 .18 .9 .18 1.7 .18-4.5 .18 10.9 .18-4.3 .18-3.5 .18 .9 .18-3.7 .18 7.0 .18-7.2 .18 4.3 .18-5.6 .18 5.2 .18 2.3 .18-4.5 .18 2.0 .18 .2 .18-3.3 .18-3.5 .18 9.8 .18-4.0 .18-1.6 .18-.2 .18-2.0 .18 1.1 .18-.8 .18-1.4 .18 3.5 .18-2.0 .18 8.0 .18-8.3 .18 7.5 .18-8.6 .18 2.2 .18 1.4 .18-3.7 .18 6.1 .18-5.1 .18-.3 .18 5.3 .18-5.8 .18 5.4 .18 1.7 .18-1.2 .18 2.4 .18-7.3 .18 6.5 .18-7.1 .18-4.6 .18 5.8 .18 8.5 .18-11.9 .18 11.0 .18-12.9 .18 9.3 .18-4.9 .18-.7 .18-7.3 .18 11.7 .18-.2 .18-8.6 .18 8.1 .18-5.6 .18 11.2 .18-4.4 .18-6.8 .18 11.8 .18-8.8 .18 1.7 .18 1.5 .18-6.9 .18-.2 .18 2.8 .18-4.0 .18 4.4 .18 5.6 .18-10.2 .18 4.9 .18-2.7 .18 5.5 .18-8.1 .18 .1 .18-3.0 .18 15.4 .18-12.1 .18 11.5 .18-11.8 .18 6.8 .18 .8 .18-4.1 .18 1.2 .18-6.8 .18 7.2 .18-2.3 .18-2.0 .18 6.5 .18 .2 .18-6.3 .18 2.8 .18-8.9 .18 3.5 .18 9.5 .18-10.0 .18 .8 .18 8.2 .18-14.0 .18 10.7 .18 1.6 .18-5.0 .18-1.8 .18-.8 .18 5.1 .18-4.8 .18 5.0 .18-1.9 .18 .6 .18 4.4 .18-6.5 .18-2.0 .18 3.8 .18 1.0 .18-1.8 .18-6.3 .18 9.6 .18-9.9 .18-1.1 .18 11.9 .18 2.3 .18-7.4 .18-2.3 .18 9.0 .18-11.1 .18 5.2 .18-2.3 .18 3.8 .18-.3 .18-4.5 .18 7.7 .18-1.6 .18-3.0 .18-1.3 .18 .8 .18-4.9 .18 4.2 .18-.2 .18 3.3 .18-3.2 .18-.9 .18 2.6 .18 2.9 .18-1.7 .18-2.9 .18-1.3 .18 7.3 .18-5.6 .18-5.1 .18 3.5 .18-5.9 .18 5.0 .18 4.8 .18-3.4 .18-.7 .18 4.3 .18 1.7 .18-8.8 .18-.8 .18 1.7 .18-1.8 .18 6.6 .18 1.0 .18-3.5 .18-4.1 .18-2.2 .18 5.8 .18-2.6 .18 5.0 .18-7.2 .18 2.9 .18 4.1 .18 2.4 .18-1.1 .18-1.3 .18-1.2 .18 1.9 .18-10.3 .18 11.1 .18-4.8 .18 7.2 .18-2.5 .18 1.2 .18-7.8 .18 13.6 .18-8.4 .18-1.3 .18-3.6 .18 3.8 .18-10.3 .18 14.3 .18-3.6 .18-2.3 .18 5.9 .18-3.5 .18-.4 .18-4.0 .18 3.4 .18-6.3 .18 .2 .18 5.2 .18-3.2 .18-3.1 .18 4.7 .18-6.9 .18 14.1 .18-1.7 .18-8.6 .18 10.1 .18-10.2 .18-5.7 .18 9.2 .18-1.2 .18 5.4 .18-4.6 .18-6.6 .18 7.2 .18-1.6 .18 6.3 .18 2.4 .18-11.7 .18 1.0 .18 2.9 .18-1.9 .18 2.6 .18 .2 .18-6.1 .18 5.8 .18 2.5 .18-8.5 .18 10.0 .18-1.9 .18-.9 .18-8.7 .18 13.7 .18 .6 .18-12.5 .18 15.2 .18-13.7 .18 4.4 .18-6.4 .18 5.1 .18 1.9 .18-3.4 .18 2.1 .18-6.1 .18 12.0 .18-1.1 .18-7.9 .18-1.4 .18-1.3 .18 2.4 .18-6.6 .18 15.0 .18-5.1 .18-2.9 .18 1.1 .18 4.4 .18-.8 .18-2.4 .18 2.5 .18-14.8 .18 14.5 .18-4.7 .18-2.3 .18-1.2 .18 4.6 .18-7.7 .18 8.7 .18-4.8 .18 6.4 .18-10.7 .18 9.1 .18 5.8 .18-12.6 .18 10.3 .18-.7 .18-8.8 .18 2.7 .18 7.5 .18-9.0 .18-.1 .18-1.4 .18 .7 .18 5.7 .18 1.4 .18-5.6 .18 3.9 .18 .1 .18-10.3 .18 9.6 .18-2.7 .18 5.3 .18 5.0 .18-4.0 .18-7.6 .18 .2 .18-4.2 .18-3.4 .18 17.0 .18-6.1 .18-8.8 .18 10.6 .18-13.2 .18 8.1 .18 1.4 .18-3.4 .18 .5 .18 5.6 .18 3.0 .18-1.5 .18-12.8 .18 5.9 .18 9.3 .18-12.0 .18 3.5 .18 1.0 .18 0 .18-1.3 .18 5.6 .18-2.2 .18-1.5 .18-2.7 .18 2.6 .18 3.1 .18-8.0 .18 2.0 .18-3.1 .18 4.9 .18 .7 .18-3.2 .18-2.4 .18 1.4 .18 6.3 .18-5.5 .18 6.2 .18-6.4 .18-.7 .18 6.8 .18-7.0 .18 8.5 .18-12.2 .18 7.1"/><path stroke="#20ad62" d="M26.70 116.8l.18-1.1 .18 6.6 .18-1.2 .18 4.9 .18-5.9 .18 1.1 .18 1.3 .18-2.2 .18 6.3 .18-4.1 .18-3.8 .18 2.9 .18-4.6 .18 9.4 .18-9.2 .18-2.5 .18 13.2 .18-7.2 .18 3.9 .18-4.2 .18-1.3 .18 3.4 .18-1.5 .18-2.5 .18-4.3 .18 7.4 .18-6.1 .18 8.4 .18 3.8 .18-2.5 .18-9.5 .18 3.0 .18 1.9 .18-.1 .18-3.0 .18 1.7 .18 1.5 .18-.1 .18-7.7 .18 13.1 .18-5.4 .18-2.9 .18 4.9 .18-2.6 .18-2.7 .18-5.5 .18 8.7 .18 1.6 .18 1.2 .18-6.9 .18 3.0 .18-5.8 .18 6.4 .18 .3 .18-3.9 .18 4.6 .18 1.6 .18 .1 .18-6.7 .18 3.1 .18 3.4 .18-4.2 .18-.8 .18 3.4 .18 .9 .18-3.9 .18 4.4 .18-1.5 .18 5.9 .18-6.7 .18 .1 .18-.6 .18-6.0 .18 1.3 .18 5.2 .18-1.8 .18 3.1 .18-2.7 .18 1.8 .18-9.4 .18 8.2 .18 .9 .18-1.0 .18 3.5 .18-4.9 .18 2.5 .18-9.0 .18 9.4 .18-8.3 .18 2.6 .18-4.5 .18 4.2 .18 3.3 .18 5.9 .18-9.7 .18 5.7 .18 .7 .18 .6 .18-4.9 .18 4.8 .18-7.0 .18-1.9 .18 6.6 .18-2.6 .18-4.7 .18 12.7 .18-1.8 .18-.4 .18-5.2 .18-5.4 .18 3.4 .18 5.6 .18-1.1 .18 1.4 .18 5.5 .18-6.8 .18 1.3 .18-4.5 .18 11.0 .18-1.0 .18-12.4 .18 .4 .18 14.0 .18-15.7 .18 12.6 .18-5.7 .18-1.2 .18 5.0 .18 2.9 .18-3.1 .18-3.2 .18 3.0 .18-2.5 .18 10.1 .18-8.2 .18-1.1 .18-4.3 .18 13.1 .18-6.9 .18 2.7 .18 5.8 .18-.8 .18-6.9 .18-2.3 .18 3.9 .18-4.7 .18 4.0 .18 .3 .18 1.6 .18-6.2 .18 11.8 .18-7.8 .18-5.1 .18-1.8 .18 6.3 .18 1.4 .18 .6 .18-3.1 .18 .5 .18 1.8 .18 1.9 .18-10.0 .18-.8 .18 4.2 .18-2.3 .18 4.1 .18 1.4 .18-3.7 .18 4.9 .18-7.3 .18-4.1 .18 17.6 .18-14.9 .18 8.0 .18 3.9 .18-6.7 .18 3.5 .18 .5 .18-5.9 .18-4.2 .18 6.7 .18-3.9 .18 7.0 .18-8.5 .18 14.2 .18 1.1 .18-11.8 .18-4.8 .18 8.8 .18-3.2 .18 1.5 .18-5.5 .18 .4 .18 7.4 .18-7.0 .18-2.6 .18 9.5 .18 .3 .18-3.5 .18-2.8 .18 10.1 .18-7.5 .18 3.8 .18-7.6 .18 6.6 .18-.8 .18 5.0 .18-10.6 .18 10.9 .18-7.7 .18 6.8 .18-5.5 .18 3.9 .18-12.4 .18 11.3 .18 3.5 .18-11.3 .18 6.1 .18-1.7 .18-4.1 .18 5.1 .18 .4 .18-2.4 .18-1.2 .18 7.4 .18-3.8 .18-1.4 .18 1.3 .18-2.9 .18 2.7 .18 .9 .18-5.1 .18 4.0 .18-1.1 .18 .8 .18 4.7 .18-5.4 .18-1.9 .18-1.6 .18 6.7 .18-9.5 .18 3.0 .18 4.3 .18-4.7 .18-.3 .18 .2 .18-1.3 .18 .2 .18 6.3 .18-3.3 .18 4.6 .18-1.5 .18-.4 .18-6.7 .18 11.8 .18-7.6 .18-8.2 .18 7.8 .18-.4 .18 3.5 .18-6.2 .18 4.4 .18 7.9 .18-3.8 .18-5.9 .18-2.6 .18 7.5 .18-7.1 .18 4.3 .18-1.2 .18 6.2 .18-4.0 .18 3.6 .18 1.2 .18-9.4 .18 1.9 .18 .6 .18 1.7 .18-4.9 .18 1.6 .18-.6 .18 2.1 .18-4.0 .18 1.4 .18-3.8 .18 12.1 .18-4.8 .18 2.8 .18-7.8 .18-4.2 .18 .4 .18 5.7 .18 2.5 .18 1.1 .18-5.4 .18-3.0 .18 11.5 .18-13.1 .18 11.8 .18-6.7 .18 .4 .18-.1 .18 1.9 .18 8.3 .18-5.4 .18-3.3 .18-5.5 .18 10.0 .18 .2 .18-8.6 .18 4.4 .18-5.6 .18-.9 .18 8.4 .18-11.4 .18 9.4 .18 1.8 .18-10.3 .18 5.2 .18 6.4 .18 3.5 .18-9.3 .18 4.8 .18-8.6 .18 .6 .18 4.4 .18 1.2 .18-2.3 .18 3.8 .18-1.3 .18 2.0 .18-2.2 .18-2.9 .18 .4 .18-1.0 .18 .9 .18 3.8 .18-.4 .18 1.3 .18-1.7 .18-.2 .18-7.0 .18 1.8 .18-.6 .18-1.2 .18-7.0 .18 12.6 .18-7.3 .18 1.2 .18 5.6 .18 3.6 .18-4.7 .18 4.2 .18-6.2 .18 3.2 .18-11.0 .18 7.1 .18 1.1 .18-7.6 .18 2.5 .18 4.6 .18-9.9 .18 10.3 .18-.4 .18-3.5 .18 5.8 .18-1.3 .18 2.6 .18-5.1 .18 2.9 .18-1.3 .18-6.9 .18 5.3 .18-.5 .18 .8 .18-.3 .18 3.1 .18-3.6 .18-2.8 .18 5.1 .18-10.8 .18 2.6 .18 10.6 .18-10.9 .18 7.0 .18-5.6 .18 7.0 .18-1.4 .18 2.7 .18-2.0 .18 7.6 .18-13.6 .18 9.8 .18-8.0 .18 3.4 .18-2.5 .18 5.3 .18-2.9 .18 3.1 .18-2.5 .18-2.6 .18 .1 .18 5.7 .18-3.5 .18-1.9 .18-2.1 .18 6.4 .18-1.9 .18-3.4 .18-4.5 .18 2.2 .18 1.7 .18 2.1 .18 .9 .18 1.4 .18-11.4 .18 15.9 .18-6.2 .18-.4 .18-5.4 .18 11.0 .18-10.8 .18 8.4 .18-4.6 .18 5.6 .18-4.4 .18-5.7 .18-1.7 .18 10.6 .18-2.3 .18-.8 .18-.3 .18 0 .18-9.8 .18 7.7 .18 3.8 .18-3.6 .18 2.6 .18 6.6 .18-11.4 .18-1.4 .18 2.6 .18 4.6 .18-10.7 .18 10.1 .18-11.5 .18 15.8 .18-8.8 .18 1.2 .18-2.5 .18 5.7 .18-6.8 .18 8.5 .18 3.2 .18-6.4 .18-6.0 .18 9.8 .18-9.4 .18 1.6 .18 2.1 .18 3.5 .18-9.0 .18 7.4 .18-.9 .18-2.6 .18 3.3 .18-2.6 .18-1.9 .18-6.7 .18-2.0 .18 10.2 .18 2.6 .18-7.1 .18 2.9 .18 7.6 .18-3.1 .18-10.7 .18 9.8 .18-3.9 .18 3.2 .18-1.9 .18-4.3 .18 12.3 .18-19.2 .18 6.1 .18 9.0 .18-5.3 .18 1.6 .18-5.5 .18 7.2 .18-5.4 .18-3.0 .18-.1 .18 9.5 .18-11.1 .18 5.1 .18 2.8 .18-2.5 .18-4.2 .18 6.1 .18 1.4 .18-7.5 .18 2.2 .18 9.9 .18-16.1 .18 9.9 .18 1.1 .18-2.8 .18 1.3 .18-.3 .18 2.3 .18 .3 .18 .5 .18-7.2 .18 5.2 .18-2.2 .18-4.5 .18 6.4 .18-8.9 .18 2.2 .18 9.2 .18-1.8 .18-10.6 .18 9.3 .18-1.1 .18-1.7 .18-3.7 .18 3.5 .18 4.3 .18 4.5 .18-4.0 .18-7.3 .18 6.5 .18 5.9 .18-10.1 .18-4.1 .18 9.8 .18-7.1 .18 2.7 .18 1.2 .18-2.3 .18 .7 .18 2.8 .18 .3 .18-1.8 .18 1.9 .18-1.9 .18-4.2 .18 10.3 .18-6.1 .18 .7 .18 2.3 .18-5.1 .18-5.3 .18-1.5 .18-4.0 .18 14.8 .18-2.0 .18 .7 .18-4.5 .18-4.1 .18 4.9 .18-6.8 .18 4.0 .18 5.8 .18-5.1 .18-3.4 .18 8.1 .18-.2 .18-1.5 .18-8.4 .18 10.7 .18-4.3 .18 3.4 .18-12.9 .18 12.6 .18-10.5 .18 11.4 .18-4.8 .18-.6 .18 10.7 .18 1.2 .18-10.5 .18 .8 .18 2.4 .18 1.5 .18-10.0 .18 10.1 .18-2.6 .18 .1 .18-8.2 .18 13.5 .18-7.5 .18 9.2 .18-1.0 .18-9.0 .18 6.4 .18 .1 .18-5.6 .18-8.1 .18 8.1 .18 2.7 .18 8.3 .18-4.1 .18-1.5 .18-3.0 .18 2.8 .18-7.7 .18-1.4 .18-.7 .18 .6 .18 4.3 .18 9.2 .18-14.7 .18 7.2 .18-1.1 .18 1.7 .18-2.7 .18-8.7 .18 14.1 .18-1.2 .18-7.2 .18 1.5 .18-.6 .18-.7 .18 6.1 .18-8.2 .18 3.3 .18-3.7 .18 10.2 .18-4.5 .18 4.0 .18-8.4 .18-7.8 .18 13.8 .18-1.0 .18 2.2 .18-4.0 .18 3.0 .18 .8 .18-10.4 .18-3.1 .18 12.4 .18-2.2 .18-2.8 .18-3.6 .18 13.0 .18-6.9 .18-.2 .18 1.7 .18-5.6 .18 4.2 .18-6.8 .18 11.0 .18-3.4 .18 3.6 .18-.6 .18-8.6 .18 12.3 .18-9.2 .18-2.0 .18 6.3 .18-7.4 .18 3.3 .18-8.9 .18 1.1 .18 11.5 .18 2.0 .18-4.0 .18-6.1 .18 5.1 .18-9.1 .18 6.7 .18 7.4 .18-5.5 .18-2.7 .18 13.1 .18-9.8 .18 6.6 .18-7.7 .18 1.2 .18-4.2 .18 4.6 .18-.5 .18-5.3 .18 1.0 .18 1.0 .18 6.2 .18 5.9 .18-12.8 .18 6.7 .18-5.8 .18-8.0 .18 15.8 .18-7.0 .18-2.8 .18 3.7 .18 .8 .18-4.6 .18 6.3 .18-2.1 .18 .8 .18-1.6 .18-3.8 .18 3.3 .18-4.6 .18 1.5 .18 1.4 .18 2.2 .18-5.0 .18 7.2 .18-9.5 .18 7.3 .18-6.4 .18 3.1 .18-.1 .18 13.0 .18-14.3 .18 7.1 .18-2.8 .18-5.2 .18 7.3 .18-4.3 .18-7.1 .18-.6 .18 8.4 .18-3.2 .18-4.7 .18 7.3 .18-1.8 .18 3.5 .18 2.4 .18-4.4 .18-.9 .18 3.0 .18 2.1 .18 4.4 .18-16.0 .18 7.8 .18-5.3 .18-1.1 .18-2.9 .18 5.2 .18 2.6 .18-1.4 .18 2.1 .18-.3 .18 1.2 .18-2.0 .18 1.1 .18-.7 .18-2.9 .18-4.0 .18-.8 .18 10.0 .18-8.0 .18 7.6 .18-5.5 .18-4.7 .18 9.3 .18-2.1 .18 7.0 .18-9.7 .18-.5 .18 3.9 .18 2.8 .18-5.0 .18-1.9 .18 4.7 .18-1.0 .18-5.4 .18 11.9 .18-5.1 .18-2.5 .18 4.4 .18-5.9 .18 2.9 .18-3.1 .18-3.7 .18-1.9 .18 2.1 .18 .7 .18-7.7 .18 8.7 .18 9.7 .18-4.0 .18 1.4 .18-5.4 .18-2.4 .18 2.1 .18-5.2 .18 16.5 .18-5.8 .18-5.1 .18 1.6 .18-7.9 .18 6.6 .18-7.2 .18 13.8 .18-6.7 .18-5.2 .18 .1 .18 10.2 .18-10.7 .18 3.7 .18 1.0 .18-4.6 .18 11.3 .18 1.4 .18-10.8 .18 3.3 .18 2.4 .18-.6 .18 .4 .18-8.5 .18 5.3 .18-6.6 .18 5.8 .18 2.8 .18 1.4 .18-13.4 .18 10.6 .18-7.6 .18 8.6 .18-7.3 .18 5.8 .18 3.5 .18-3.2 .18-4.8 .18 1.9 .18 3.1 .18-9.2 .18 6.3 .18 2.7 .18-6.5 .18 10.3 .18-.6 .18-2.7 .18-2.9 .18-1.2 .18 4.2 .18-10.4 .18 15.1 .18-10.8 .18 5.9 .18 2.2 .18-9.5 .18 4.9 .18-.6 .18-1.1 .18 5.2 .18-5.3 .18 4.0 .18-1.4 .18 1.4 .18-4.6 .18 1.3 .18 2.6 .18-2.8 .18 3.5 .18 1.2 .18-7.7 .18 5.7 .18-6.2 .18 2.2 .18 3.6 .18-6.6 .18 4.3 .18 1.4 .18-7.3 .18 9.2 .18-4.5 .18-1.2 .18 .9 .18 5.3 .18-13.5 .18 8.5 .18-2.4 .18 9.3 .18-.7 .18 2.9 .18-8.2 .18 3.3 .18-3.3 .18-7.1 .18 3.8 .18-3.1 .18 8.3 .18-1.2 .18-2.1 .18-.8 .18 7.7 .18-5.8 .18 4.0 .18-11.6 .18 1.5 .18 .1 .18 6.8 .18-4.9 .18 6.1 .18-4.1 .18 3.8 .18-6.0 .18 5.5 .18-5.5 .18 1.0 .18-4.2 .18-3.7 .18 2.8 .18 6.4 .18-.2 .18-8.6 .18 1.9 .18 6.7 .18 1.0 .18-6.6 .18-8.6 .18 14.4 .18-4.8 .18 4.9 .18 1.0 .18-6.1 .18-5.2 .18 6.3 .18 11.0 .18-14.8 .18 10.9 .18-9.1 .18-1.5 .18 10.9 .18-8.7 .18-5.9 .18 1.6 .18 2.1 .18 1.2 .18 8.2 .18-1.5 .18-4.4 .18 1.9 .18-4.2 .18-5.5 .18 7.6 .18-1.2 .18 5.1 .18-2.8 .18 3.7 .18 7.1 .18-16.3 .18 1.6 .18-1.9 .18 8.7 .18-4.3 .18-6.3 .18 2.6 .18 11.4 .18 1.9 .18-18.1 .18 7.8 .18 6.7 .18-3.6 .18-9.3 .18 9.1 .18-8.9 .18 3.9 .18 11.3 .18-8.0 .18-1.6 .18 2.7 .18-5.9 .18 3.1 .18-13.8 .18 6.2 .18 3.9 .18-10.4 .18 17.2 .18-1.9 .18-2.3 .18 1.5 .18 4.2 .18-.8 .18-1.6 .18-5.6 .18-3.9 .18 .5 .18-3.4 .18-5.1 .18 10.1 .18 3.2 .18-8.0 .18 11.7 .18-2.5 .18-2.6 .18 7.3 .18-1.6 .18-6.9 .18 .4 .18 7.3 .18 2.0 .18-6.5 .18 10.3 .18-15.1 .18 7.0 .18-8.4 .18 2.0 .18-3.3 .18 2.5 .18 6.5 .18-1.5 .18-8.4 .18 11.0 .18-12.8 .18 11.1 .18-.4 .18-10.4 .18-2.7 .18 13.5 .18-1.8 .18-2.1 .18-4.9 .18 5.4 .18-15.0 .18 16.7 .18 7.1 .18-12.2 .18 6.0 .18-9.1 .18 5.5 .18-2.6 .18 4.9 .18-5.6 .18-6.8 .18 8.8 .18-6.4 .18 10.6 .18-11.1 .18 9.4 .18-2.1 .18-1.3 .18 3.9 .18-3.6 .18 6.3 .18-4.5 .18 2.5 .18-15.7 .18 16.2 .18 4.5 .18-12.4 .18 .1 .18-2.7 .18 1.9 .18 1.7 .18-7.6 .18 5.1 .18 2.5 .18 3.3 .18-6.7 .18-.9 .18 8.2 .18-3.2 .18-6.7 .18 7.7 .18-1.3 .18 8.3 .18-6.3 .18-.5 .18-4.4 .18-4.3 .18 4.0 .18-.9 .18-.2 .18 6.7 .18-10.6 .18 13.2 .18-1.6 .18-13.7 .18 11.2 .18-5.8 .18-2.4 .18 5.3 .18-4.5 .18 2.9 .18-2.6 .18 2.4 .18-4.8 .18-.9 .18 3.7 .18 1.3 .18-11.1 .18 12.7 .18-5.3 .18 1.6 .18-.8 .18-1.2 .18-2.2 .18-2.1 .18-3.2 .18 8.7 .18-.7 .18-1.3 .18 8.0 .18 1.5 .18-5.4 .18-5.7 .18-3.3 .18-.3 .18 9.5 .18-12.1 .18 1.1 .18 5.1 .18 5.8 .18-6.5 .18 17.5 .18-15.0 .18-.4 .18 8.5 .18-5.1 .18 10.8 .18-16.1 .18 6.6 .18 2.6 .18-8.1 .18-11.2 .18 17.6 .18-8.7 .18 5.4 .18-.9 .18-2.0 .18-3.8 .18-7.1 .18 10.5 .18-5.3 .18 7.2 .18-4.0 .18 .5 .18 9.0 .18-3.7 .18-8.1 .18 8.7 .18-6.0 .18-4.7 .18 11.2 .18-4.9 .18 4.6 .18 .2 .18 3.4 .18-11.9 .18 3.0 .18-8.5 .18 10.2 .18-2.7 .18 4.3 .18-.4 .18-.9 .18-10.1 .18-3.2 .18 9.1 .18 2.8 .18-1.8 .18 7.4 .18 4.4 .18-11.0 .18-9.7 .18 6.9 .18 12.3 .18-10.1 .18 3.2 .18 .9 .18 .7 .18-3.1 .18 7.2 .18-6.6 .18-1.9 .18-6.3 .18 3.5 .18 1.4 .18 5.4 .18-8.1 .18 3.9 .18-2.2 .18-12.0 .18 16.9 .18 4.4 .18-15.8 .18 12.8 .18-11.9 .18 3.9 .18 1.6 .18 5.1 .18-4.8 .18 .1 .18 4.5 .18 .3 .18-5.7 .18 3.1 .18-1.7 .18 1.7 .18-7.6 .18 0 .18-2.8 .18 18.7 .18-10.2 .18-9.4 .18 12.6 .18-2.2 .18 1.3 .18-4.4 .18-1.4 .18-2.8 .18 9.3 .18 1.8 .18-4.8 .18-.7 .18-.4 .18-3.6 .18 .8 .18 4.7 .18-4.9 .18 4.1 .18-6.0 .18 7.6 .18-9.2 .18 11.5 .18-7.3 .18 2.4 .18-5.2 .18 3.0 .18-3.5 .18 4.6 .18-10.0 .18 15.0 .18-4.9 .18 2.5 .18-4.2 .18 3.1 .18-6.3 .18-1.0 .18 2.3 .18-5.5 .18 11.6 .18 .8 .18-6.1 .18-3.3 .18 7.0 .18 2.7 .18-7.2 .18 7.3 .18 4.4 .18-9.0 .18-9.9 .18 4.0 .18 10.8 .18-.7 .18 5.8 .18-14.5 .18 7.2 .18-11.9 .18 3.4 .18-1.3 .18 1.2 .18 6.0 .18 5.8 .18-10.9 .18-3.1 .18 13.4 .18-5.1 .18-10.0 .18 5.4 .18 2.9 .18 3.7 .18-7.3 .18 .5 .18 4.8 .18-10.6 .18 8.6 .18 4.3 .18-2.4 .18-2.7 .18-1.8 .18-.1 .18 9.9 .18-6.3 .18-.6 .18-5.8 .18 5.9 .18 2.8 .18-16.1 .18 20.8 .18-4.5 .18-5.4 .18-8.6 .18 22.4 .18-9.3 .18-6.3 .18-5.1 .18 13.1 .18-15.3 .18 9.6 .18-1.7 .18-4.8 .18 13.5"/></g></g>
<rect x="26.7" y="12.2" width="234.0" height="188.3" fill="none" stroke="#5a5a5a" stroke-width="1.5"/>
<path d="M26.70 200.50V204.20M50.10 200.50V202.50M73.50 200.50V204.20M96.90 200.50V202.50M120.30 200.50V204.20M143.70 200.50V202.50M167.10 200.50V204.20M190.50 200.50V202.50M213.90 200.50V204.20M237.30 200.50V202.50M260.70 200.50V204.20" stroke="#404040" stroke-width="1.1" fill="none"/>
<text x="26.70" y="214.70" class="tk">500</text>
<text x="73.50" y="214.70" class="tk">1000</text>
<text x="120.30" y="214.70" class="tk">1500</text>
<text x="167.10" y="214.70" class="tk">2000</text>
<text x="213.90" y="214.70" class="tk">2500</text>
<text x="260.70" y="214.70" class="tk">3000</text>
<text x="139.40" y="230.80" class="xl">Raman Shift (cm<tspan dy="-4" font-size="7">-1</tspan><tspan dy="4">)</tspan></text>
<text transform="translate(15.20 105.30) rotate(-90)" class="yl">Intensity (a.u.)</text>
<text x="29.20" y="25.50" class="pl">(a) POE</text>
<clipPath id="cpb"><rect x="299.0" y="13.9" width="232.20000000000005" height="186.9"/></clipPath>
<g class="cv"><g clip-path="url(#cpb)" fill="none" stroke-width="1.0" stroke-linejoin="bevel"><path stroke="#474747" d="M299.00 182.2l.18-2.6 .18 5.6 .18 1.8 .18 2.2 .18-11.3 .18 5.7 .18-1.3 .18 10.3 .18-1.8 .18-7.0 .18 2.3 .18-3.3 .18 1.2 .18 8.7 .18-8.2 .18 .2 .18 .8 .18-4.6 .18-.8 .18-1.5 .18 1.3 .18 3.1 .18 .6 .18 3.9 .18-5.6 .18 2.2 .18-1.1 .18 4.0 .18-2.1 .18-5.0 .18 4.2 .18 6.1 .18-3.2 .18-2.1 .18-2.5 .18-.4 .18 2.8 .18 4.8 .18-2.6 .18-5.6 .18 0 .18 3.7 .18 5.3 .18-2.7 .18-1.6 .18 3.1 .18-5.4 .18 3.8 .18-2.4 .18 6.9 .18-8.7 .18-1.4 .18 4.3 .18 3.7 .18-7.8 .18 8.8 .18 .4 .18-1.9 .18-3.6 .18 .1 .18 0 .18 1.0 .18-1.5 .18 2.6 .18 5.5 .18-8.1 .18 7.3 .18-9.4 .18 .8 .18 1.5 .18 1.3 .18 .9 .18 5.1 .18-3.7 .18 2.4 .18-5.8 .18 3.3 .18-7.7 .18 2.1 .18 12.3 .18-8.6 .18-4.8 .18 8.2 .18-.5 .18-7.2 .18 5.4 .18 7.4 .18-12.6 .18 3.3 .18 1.6 .18-1.8 .18 2.4 .18-.2 .18-.4 .18 5.9 .18-11.9 .18 7.8 .18-.8 .18 1.2 .18 2.2 .18-4.7 .18 5.0 .18-4.6 .18 4.1 .18 2.8 .18-8.9 .18 7.4 .18-2.7 .18-1.2 .18-.7 .18 .6 .18-2.8 .18-1.6 .18 4.2 .18 3.1 .18-3.3 .18 3.2 .18-2.3 .18 5.7 .18-4.9 .18-1.8 .18 1.2 .18 1.1 .18-4.3 .18 4.6 .18-5.8 .18 6.7 .18-2.7 .18-3.2 .18 6.9 .18-2.8 .18 5.6 .18-7.7 .18-1.1 .18 5.0 .18-4.2 .18 6.0 .18-3.1 .18 3.4 .18-5.4 .18-6.6 .18 7.2 .18 2.0 .18 2.9 .18 1.0 .18 .4 .18-2.4 .18-1.4 .18-2.1 .18 3.4 .18-3.4 .18 2.6 .18-2.2 .18 3.9 .18-3.9 .18-.9 .18 6.2 .18 .6 .18-6.3 .18 6.3 .18-8.1 .18 4.7 .18-2.2 .18-3.1 .18 4.0 .18 1.8 .18 .7 .18-3.3 .18-2.8 .18 1.2 .18 1.1 .18 8.1 .18-11.0 .18 4.0 .18 8.4 .18-12.1 .18 10.0 .18-.8 .18-2.1 .18-1.2 .18-8.1 .18 5.8 .18-.5 .18 5.3 .18-.2 .18-8.6 .18-4.6 .18 6.0 .18 9.9 .18-6.6 .18-.4 .18 2.5 .18-3.6 .18-3.9 .18 .9 .18 1.1 .18 4.8 .18-1.2 .18 1.8 .18-2.3 .18 3.2 .18-2.0 .18-.3 .18 2.7 .18-3.6 .18-4.7 .18 1.1 .18 2.2 .18 4.7 .18-5.9 .18 1.0 .18 5.7 .18 .8 .18-10.7 .18 .9 .18 3.6 .18 1.0 .18 0 .18-6.0 .18 13.5 .18-6.7 .18 4.0 .18-2.4 .18-.7 .18-8.7 .18 7.7 .18-.7 .18-.1 .18-3.3 .18-1.9 .18 4.8 .18 2.2 .18 1.3 .18-3.1 .18-7.2 .18 5.0 .18-.5 .18-.8 .18-1.9 .18 6.7 .18-4.9 .18 2.9 .18 1.7 .18-5.1 .18 1.8 .18-1.4 .18 6.7 .18-7.1 .18-3.0 .18 9.3 .18-12.6 .18 14.4 .18-3.6 .18-6.9 .18 6.8 .18-1.3 .18 1.3 .18-11.1 .18 8.0 .18-3.3 .18-2.8 .18 2.4 .18 3.3 .18 2.1 .18-4.0 .18-.5 .18 9.0 .18-3.1 .18-5.7 .18 0 .18 3.6 .18 2.7 .18-5.3 .18 1.6 .18 3.8 .18-9.3 .18 6.3 .18-1.4 .18 1.4 .18 .1 .18 2.2 .18-4.2 .18-.9 .18 7.0 .18-4.3 .18-4.0 .18 4.4 .18 1.6 .18-3.4 .18-6.3 .18 4.8 .18-3.6 .18 11.6 .18-8.8 .18 9.6 .18-6.6 .18 .1 .18 .7 .18 5.1 .18-10.1 .18 2.4 .18 .4 .18 1.2 .18-2.3 .18 2.7 .18 2.7 .18-4.8 .18 6.4 .18-5.0 .18-.5 .18 3.0 .18-3.7 .18 2.9 .18-4.0 .18-2.3 .18 5.7 .18 1.5 .18-3.0 .18 3.5 .18-4.9 .18 9.7 .18-9.2 .18 3.0 .18-2.2 .18-.4 .18-2.8 .18 8.6 .18-5.9 .18-1.8 .18 6.7 .18-.3 .18-6.6 .18 5.1 .18 1.8 .18-3.5 .18-5.6 .18 4.5 .18-2.5 .18-2.0 .18 5.5 .18 1.7 .18-11.2 .18 7.1 .18-1.8 .18 8.2 .18-7.3 .18 8.3 .18-.7 .18-6.1 .18 5.8 .18-4.4 .18-4.3 .18-2.0 .18-.2 .18 4.5 .18 1.6 .18 4.6 .18-9.8 .18 4.9 .18 2.6 .18 2.4 .18-1.6 .18-1.4 .18 .3 .18-7.7 .18 5.4 .18-5.2 .18 13.0 .18-4.4 .18-4.4 .18-.7 .18 1.5 .18 2.0 .18-3.5 .18 .6 .18-7.1 .18 17.1 .18-6.9 .18-6.6 .18 6.8 .18-3.5 .18 4.1 .18 .4 .18-5.9 .18 4.3 .18 1.9 .18-9.0 .18 4.8 .18 .6 .18 1.6 .18-9.0 .18 10.0 .18-4.8 .18 3.9 .18 5.5 .18-8.2 .18-3.8 .18-.7 .18 7.3 .18-8.0 .18-.7 .18 4.9 .18 6.0 .18-3.9 .18 6.1 .18-7.7 .18 3.4 .18-1.3 .18-10.2 .18 10.1 .18 2.3 .18-3.6 .18-6.5 .18-4.5 .18 6.1 .18 4.2 .18 .6 .18-1.7 .18 1.9 .18 3.5 .18-8.2 .18-.2 .18-1.4 .18 .3 .18 3.1 .18 7.5 .18-7.3 .18 1.2 .18 1.0 .18 4.4 .18-3.5 .18-.7 .18-8.2 .18 3.5 .18 1.8 .18-1.8 .18 6.1 .18-5.1 .18-2.5 .18 4.3 .18 3.5 .18-5.6 .18-1.9 .18 .8 .18-6.8 .18 8.3 .18-.9 .18-.4 .18 2.6 .18 9.4 .18 1.6 .18-1.0 .18-12.6 .18 10.3 .18-7.5 .18-1.7 .18-.3 .18 2.2 .18 2.0 .18 3.4 .18 0 .18-6.6 .18 0 .18 4.9 .18-1.0 .18-4.7 .18 2.1 .18-7.6 .18 3.4 .18-1.0 .18 6.1 .18-12.0 .18 10.7 .18-5.1 .18 2.7 .18 2.6 .18-3.2 .18 9.3 .18-2.7 .18-4.6 .18 7.6 .18-7.2 .18 1.0 .18 6.4 .18 .5 .18-7.7 .18 2.6 .18-3.2 .18 4.5 .18-5.2 .18 5.8 .18-11.6 .18 8.3 .18 3.3 .18 4.8 .18-16.7 .18-4.0 .18 6.2 .18 2.5 .18 2.3 .18 6.9 .18-8.1 .18-4.2 .18 8.1 .18-4.6 .18-1.6 .18 1.6 .18-.2 .18 6.4 .18-14.3 .18 5.2 .18 6.6 .18-13.5 .18 9.7 .18-7.6 .18 11.6 .18-6.0 .18 8.0 .18-15.4 .18 10.9 .18 .8 .18 4.4 .18-6.4 .18 1.3 .18-.8 .18-2.5 .18 2.0 .18-9.1 .18 8.4 .18 .6 .18 .1 .18-.8 .18 7.6 .18 .6 .18-3.7 .18-4.1 .18 5.5 .18-5.3 .18-2.9 .18-.1 .18 1.8 .18 6.7 .18-.8 .18 .4 .18-2.7 .18-5.8 .18 3.7 .18-1.5 .18-2.5 .18 6.9 .18-11.1 .18 .8 .18 .7 .18 2.6 .18 5.7 .18-.2 .18 .4 .18-5.6 .18-.6 .18 2.7 .18-1.4 .18 2.9 .18 .8 .18 1.1 .18-2.2 .18-1.6 .18-8.8 .18 6.4 .18-3.3 .18 2.0 .18 1.9 .18 5.7 .18-.2 .18-7.9 .18 5.8 .18 .3 .18-10.7 .18 10.8 .18-3.0 .18-7.5 .18 8.7 .18 1.9 .18 .3 .18-5.4 .18 5.3 .18 1.2 .18-1.8 .18-8.9 .18 9.8 .18-6.2 .18-.1 .18 7.7 .18 .8 .18 .3 .18-18.9 .18 18.1 .18-5.3 .18 1.6 .18-7.9 .18 2.3 .18 7.4 .18-.5 .18-5.6 .18-10.3 .18 8.7 .18 .1 .18 2.5 .18 3.9 .18-7.6 .18 6.7 .18-7.2 .18 1.1 .18 4.3 .18 1.6 .18 2.4 .18-8.3 .18 5.3 .18-7.7 .18 14.1 .18-6.5 .18-2.6 .18-4.3 .18 1.2 .18 4.1 .18-4.8 .18 3.4 .18-4.5 .18 .8 .18 7.6 .18-8.7 .18 2.3 .18-2.4 .18 6.5 .18-6.8 .18 2.7 .18 1.6 .18-1.7 .18 3.8 .18-1.4 .18-.5 .18-3.2 .18 1.3 .18-2.8 .18 .4 .18-1.2 .18 10.8 .18-2.6 .18-8.9 .18 4.4 .18 4.1 .18-4.5 .18 8.0 .18-12.7 .18 5.7 .18-10.1 .18 14.9 .18-8.5 .18 3.8 .18 3.5 .18-5.0 .18-1.6 .18-1.1 .18 9.3 .18 .7 .18-9.3 .18 8.2 .18-8.8 .18-7.6 .18 7.0 .18-.7 .18 4.8 .18-4.7 .18-1.1 .18 .6 .18-3.4 .18 14.7 .18-5.6 .18 1.7 .18-4.2 .18-4.1 .18 2.9 .18-3.0 .18 .7 .18 10.2 .18-6.1 .18-4.5 .18 5.8 .18-9.3 .18 14.0 .18-6.1 .18-.6 .18 .4 .18-8.0 .18 8.8 .18-.3 .18-2.1 .18 2.2 .18-3.0 .18 6.8 .18-9.8 .18 5.1 .18 2.1 .18-9.5 .18 3.4 .18 3.4 .18 4.2 .18-4.1 .18-4.4 .18 2.5 .18 11.8 .18-11.2 .18-1.1 .18-.8 .18 1.4 .18 .4 .18-5.5 .18 14.1 .18-14.5 .18 5.4 .18-.5 .18-7.7 .18 6.1 .18-3.3 .18-1.9 .18-2.1 .18 7.8 .18 4.6 .18 3.4 .18-2.2 .18-3.9 .18-12.0 .18 11.5 .18-4.1 .18 5.4 .18 .3 .18-3.1 .18-1.4 .18-.1 .18 9.3 .18-9.9 .18 3.3 .18 2.2 .18-.9 .18-9.6 .18 7.0 .18-6.1 .18 3.7 .18 4.9 .18-9.7 .18 7.0 .18-1.3 .18 4.4 .18-3.9 .18 .9 .18 4.4 .18-.4 .18-1.9 .18-2.0 .18-12.9 .18 14.5 .18-6.1 .18 5.8 .18-1.3 .18 1.0 .18-4.4 .18 2.6 .18-1.8 .18-6.2 .18 8.6 .18-5.4 .18 3.8 .18 4.1 .18 1.3 .18-3.5 .18-1.2 .18-1.4 .18-2.5 .18 4.7 .18-.7 .18 1.1 .18-.4 .18-7.7 .18 7.0 .18-4.8 .18-.9 .18 0 .18 1.4 .18-2.1 .18 4.6 .18 .3 .18 11.8 .18-20.4 .18 5.9 .18 5.5 .18 3.1 .18-6.8 .18 4.2 .18-6.1 .18 5.3 .18-6.2 .18-3.5 .18 6.5 .18-1.8 .18 1.0 .18-2.2 .18-4.9 .18 5.0 .18-1.0 .18-3.0 .18 1.6 .18 3.4 .18 3.7 .18-.1 .18-8.5 .18 1.8 .18-.5 .18 2.4 .18 8.7 .18-9.4 .18-7.2 .18 8.2 .18 .2 .18 2.4 .18 9.6 .18-14.3 .18 10.0 .18-8.1 .18 .1 .18-1.8 .18 3.6 .18-3.1 .18-10.3 .18 10.6 .18-3.3 .18 7.6 .18-15.2 .18 5.4 .18 3.9 .18 4.1 .18-.8 .18-5.0 .18 5.8 .18-2.0 .18 .9 .18-10.4 .18 14.2 .18-4.7 .18-1.2 .18 9.2 .18-4.2 .18-11.7 .18 15.9 .18-11.7 .18 8.3 .18-11.2 .18 12.7 .18-7.3 .18 2.7 .18 2.2 .18-11.9 .18 5.5 .18 9.2 .18-9.2 .18-5.7 .18 5.4 .18 .1 .18-.6 .18 1.6 .18 2.6 .18 6.6 .18-4.5 .18-3.8 .18 9.9 .18-10.3 .18 11.0 .18-11.2 .18-8.4 .18 14.8 .18-7.7 .18-.6 .18 .7 .18 1.1 .18 2.4 .18-3.5 .18-5.8 .18 7.9 .18 .6 .18-4.2 .18 3.2 .18 1.4 .18-11.8 .18-1.0 .18 5.5 .18 8.2 .18-12.0 .18 13.1 .18-7.8 .18 4.2 .18-4.7 .18-.5 .18 1.0 .18-2.3 .18-1.2 .18 1.1 .18 1.8 .18-.1 .18-5.2 .18 4.5 .18 1.0 .18 4.4 .18-.2 .18-.5 .18-1.5 .18-7.0 .18 3.3 .18 14.5 .18-10.2 .18-5.5 .18 13.9 .18-1.5 .18-12.1 .18-.1 .18 1.3 .18 8.2 .18-5.0 .18-3.1 .18-4.3 .18 5.1 .18-1.0 .18 7.5 .18 6.0 .18-19.3 .18-5.9 .18 16.9 .18-.8 .18-6.5 .18 4.6 .18 .1 .18-7.4 .18 9.0 .18 .4 .18-3.0 .18 5.4 .18-11.6 .18 9.2 .18-.5 .18 4.0 .18-12.2 .18 6.0 .18-9.6 .18 7.4 .18 7.0 .18 2.6 .18-6.3 .18-8.5 .18-3.1 .18 10.0 .18-5.2 .18 5.3 .18-2.0 .18-.2 .18 8.0 .18-15.5 .18 6.2 .18 5.0 .18 3.7 .18-13.3 .18 4.2 .18-1.8 .18-6.4 .18 14.2 .18 1.8 .18-11.8 .18-2.5 .18 4.5 .18 12.2 .18-14.3 .18 4.1 .18 4.5 .18-1.0 .18-2.7 .18 5.0 .18 2.0 .18-5.5 .18-12.8 .18 14.7 .18-6.5 .18 6.4 .18-8.2 .18-.5 .18 .2 .18 .7 .18 11.1 .18-11.6 .18 .3 .18 3.2 .18-6.8 .18 2.9 .18-2.4 .18 9.9 .18-12.4 .18 6.7 .18 1.6 .18 5.3 .18-2.2 .18-2.8 .18-1.1 .18 11.9 .18-16.6 .18 6.5 .18-10.0 .18 4.8 .18-3.4 .18-.4 .18 1.6 .18-3.9 .18 1.0 .18 3.9 .18 1.0 .18-8.8 .18 8.6 .18 9.7 .18-9.4 .18 0 .18-2.1 .18-.3 .18 7.4 .18 .1 .18-1.4 .18-2.9 .18 9.9 .18-11.3 .18-10.1 .18 14.0 .18 1.9 .18-3.4 .18 1.8 .18-.7 .18-.6 .18 8.9 .18-3.0 .18-7.5 .18 .7 .18-3.4 .18-3.7 .18-.8 .18 .3 .18 4.8 .18-.2 .18 4.9 .18-2.9 .18-11.4 .18 1.4 .18 5.4 .18 16.6 .18-4.4 .18-5.9 .18-1.6 .18-4.1 .18 6.3 .18-14.7 .18 5.4 .18-3.1 .18 10.2 .18 9.0 .18-13.5 .18 5.7 .18-9.5 .18 5.8 .18-1.1 .18 2.9 .18-5.5 .18-.4 .18 9.8 .18 .6 .18-3.1 .18-8.5 .18 11.4 .18 7.2 .18-19.0 .18 9.5 .18-4.9 .18 2.7 .18-.9 .18 1.8 .18-6.7 .18 3.1 .18-3.2 .18 4.8 .18-1.4 .18-4.2 .18 3.2 .18-2.3 .18 4.2 .18-.5 .18 .3 .18-13.6 .18 10.7 .18-2.6 .18 .4 .18 8.0 .18-1.0 .18-3.7 .18 7.4 .18-8.8 .18-5.8 .18 12.0 .18 4.2 .18-15.1 .18-1.1 .18 17.9 .18-4.4 .18 4.6 .18-5.1 .18-10.2 .18 11.4 .18-.7 .18-.1 .18-6.3 .18-5.2 .18 10.9 .18-4.3 .18-3.7 .18 6.0 .18-3.0 .18-6.0 .18 3.3 .18 1.5 .18-5.6 .18 6.8 .18-3.2 .18 1.1 .18-3.4 .18 6.9 .18-3.5 .18-1.8 .18 5.8 .18-8.0 .18-1.0 .18 9.9 .18-10.8 .18 12.5 .18-2.3 .18-7.2 .18-1.8 .18 14.6 .18-10.7 .18-2.3 .18-1.5 .18-1.8 .18 11.6 .18-3.0 .18-2.9 .18-3.3 .18 .7 .18 6.9 .18-16.7 .18 8.0 .18-1.0 .18-3.1 .18 12.1 .18-7.5 .18 9.5 .18-.2 .18-11.6 .18 11.2 .18-4.2 .18-2.8 .18 10.0 .18-11.1 .18 3.1 .18 9.9 .18-5.9 .18-6.4 .18 7.9 .18-7.9 .18-8.3 .18 10.2 .18-8.3 .18-3.9 .18 11.2 .18-1.4 .18-.2 .18-4.9 .18-9.0 .18 18.5 .18-3.8 .18 .9 .18 4.5 .18-8.7 .18 1.4 .18 5.4 .18-2.2 .18-.9 .18 9.1 .18-7.2 .18 1.3 .18-9.3 .18 7.5 .18-8.1 .18 1.9 .18 5.8 .18-3.8 .18-8.6 .18 4.1 .18 2.5 .18 6.3 .18-6.1 .18 8.6 .18-5.2 .18-6.1 .18 14.3 .18-9.5 .18-2.0 .18-1.1 .18 3.2 .18-2.1 .18 3.7 .18 2.9 .18-3.6 .18-4.6 .18 10.2 .18-7.8 .18 3.6 .18-14.5 .18 18.1 .18-9.7 .18 8.3 .18-11.3 .18 5.4 .18 8.5 .18-1.0 .18-4.9 .18 2.4 .18-15.6 .18 7.7 .18-1.1 .18-6.6 .18 8.1 .18 4.1 .18-7.7 .18 5.2 .18 8.1 .18 6.8 .18-14.4 .18 4.3 .18-.2 .18 4.0 .18-19.4 .18 13.8 .18-10.7 .18 1.3 .18 .2 .18 4.5 .18 4.5 .18-5.8 .18-5.1 .18 18.5 .18-2.9 .18-12.8 .18 13.7 .18-1.7 .18 3.7 .18-14.6 .18-1.2 .18 12.4 .18-3.5 .18-4.1 .18 1.5 .18-4.9 .18 2.6 .18 9.7 .18-5.5 .18-.5 .18 1.0 .18-3.2 .18 .9 .18-8.1 .18-6.9 .18 12.5 .18-2.3 .18-.8 .18-4.6 .18 6.0 .18 .1 .18-3.5 .18 .7 .18 9.8 .18-9.1 .18 7.4"/><path stroke="#f5323c" d="M299.00 167.0l.18 6.3 .18-2.9 .18 .4 .18 .3 .18-4.8 .18 2.3 .18-1.3 .18 .9 .18 4.0 .18 1.4 .18-1.6 .18 1.0 .18 6.1 .18-9.9 .18-1.9 .18 5.1 .18-2.6 .18 1.4 .18-.7 .18 4.8 .18-8.6 .18-4.3 .18 3.2 .18 12.4 .18-6.7 .18-2.5 .18-7.5 .18 4.4 .18 3.7 .18-.6 .18-1.8 .18 3.4 .18-2.5 .18 .5 .18 2.2 .18-.3 .18-3.8 .18 .6 .18 9.9 .18-8.4 .18 3.2 .18-5.4 .18 3.9 .18-8.0 .18 4.8 .18 1.2 .18 2.8 .18-5.7 .18 1.8 .18-1.7 .18 .9 .18 .7 .18-.5 .18-1.8 .18 6.5 .18-7.1 .18-4.2 .18 12.6 .18 .9 .18-10.6 .18 2.6 .18 4.5 .18-3.5 .18-1.3 .18-1.4 .18-2.8 .18 6.2 .18-.7 .18-5.6 .18 7.7 .18 1.5 .18-2.8 .18 .8 .18-6.1 .18 6.5 .18-2.6 .18-.8 .18-1.1 .18 3.4 .18 8.5 .18-9.9 .18 .9 .18-.4 .18 .1 .18 6.0 .18-2.6 .18 4.0 .18-1.0 .18-11.5 .18 9.6 .18-4.0 .18-5.0 .18 .7 .18 4.0 .18 5.2 .18-4.6 .18 1.0 .18-3.4 .18 2.5 .18 1.6 .18 .8 .18-11.3 .18 3.2 .18 3.3 .18 3.2 .18 0 .18 2.7 .18 0 .18-4.8 .18 4.2 .18-3.8 .18-.3 .18 9.5 .18-2.7 .18-4.9 .18 1.9 .18-.7 .18 .5 .18-.2 .18 4.8 .18-3.0 .18-.6 .18 1.5 .18-2.3 .18-1.9 .18-1.0 .18 7.0 .18-4.5 .18-1.1 .18 6.1 .18-4.5 .18 4.8 .18 .2 .18-6.1 .18 11.2 .18 .5 .18-8.2 .18-.2 .18-7.2 .18 5.3 .18 6.6 .18 .5 .18-4.8 .18-1.7 .18 3.2 .18-.8 .18 .8 .18 3.0 .18-11.6 .18 17.0 .18-13.5 .18 8.1 .18-5.3 .18-2.7 .18 7.3 .18 1.5 .18-5.1 .18 8.1 .18-7.1 .18-.1 .18 2.1 .18-.8 .18-1.6 .18 8.2 .18-1.6 .18-2.0 .18-4.0 .18-.6 .18 9.1 .18-10.9 .18 3.0 .18-3.6 .18 5.0 .18 1.2 .18-8.2 .18 8.7 .18-5.4 .18 1.5 .18-2.2 .18 6.7 .18-8.2 .18 1.4 .18 4.9 .18 6.9 .18-4.0 .18 .6 .18-8.2 .18 8.2 .18-5.0 .18-.6 .18 10.5 .18-3.7 .18-4.7 .18-4.9 .18 4.7 .18 2.6 .18-2.6 .18 4.0 .18-6.8 .18 3.9 .18 1.6 .18-12.1 .18 6.2 .18 7.1 .18-4.7 .18 .9 .18-4.7 .18-7.7 .18 11.9 .18 0 .18-1.2 .18 .4 .18-1.8 .18 1.6 .18-2.4 .18-.5 .18 7.5 .18-16.0 .18 0 .18 9.4 .18-1.8 .18 10.9 .18-6.0 .18 1.9 .18-8.2 .18 1.0 .18-4.1 .18 3.1 .18 4.9 .18-6.0 .18 6.2 .18-2.4 .18-6.2 .18 1.1 .18 2.3 .18 3.7 .18-5.7 .18-.3 .18 2.2 .18 .7 .18 .3 .18 2.1 .18-9.4 .18 4.4 .18 4.0 .18 4.0 .18-3.7 .18-3.0 .18 1.1 .18-4.2 .18 5.6 .18-6.9 .18 .4 .18 .9 .18 3.0 .18 3.4 .18-4.4 .18 6.1 .18-3.4 .18 2.6 .18-2.4 .18-1.4 .18-1.5 .18 3.5 .18-3.1 .18-2.7 .18 4.8 .18-6.1 .18 2.3 .18-2.3 .18 2.4 .18-6.7 .18 1.3 .18 4.4 .18 4.9 .18-1.3 .18-3.7 .18 1.2 .18-8.3 .18 7.4 .18-4.2 .18 7.7 .18-4.2 .18 2.7 .18-3.7 .18 11.4 .18-13.3 .18 8.5 .18-3.3 .18-2.2 .18 1.1 .18-4.0 .18 3.6 .18-2.3 .18 10.1 .18 1.3 .18-4.7 .18-10.0 .18-.5 .18-1.2 .18 12.1 .18-3.2 .18-8.5 .18 9.1 .18-4.4 .18-3.4 .18 .9 .18-2.3 .18 10.4 .18-7.0 .18-.1 .18 8.1 .18-2.9 .18-3.0 .18-10.9 .18 9.0 .18 .1 .18 6.0 .18 0 .18-4.3 .18 4.1 .18 2.7 .18-5.0 .18 .9 .18 4.3 .18-4.4 .18-4.1 .18-1.5 .18-.4 .18 3.8 .18-1.5 .18 6.3 .18-7.9 .18 6.4 .18-3.0 .18-.7 .18 3.1 .18-3.7 .18-.6 .18-6.6 .18 5.6 .18-4.1 .18 5.3 .18-.9 .18-.6 .18-3.2 .18 1.6 .18 7.3 .18-1.6 .18-4.9 .18 6.4 .18-6.1 .18-5.8 .18 5.3 .18 .4 .18 .6 .18-10.6 .18 11.7 .18-4.7 .18 3.0 .18 1.9 .18-5.6 .18 2.0 .18-2.3 .18 6.2 .18 3.9 .18-3.5 .18-10.2 .18 11.2 .18-7.5 .18 4.2 .18 10.0 .18-3.0 .18-6.4 .18-3.4 .18 2.9 .18-5.5 .18-2.5 .18 10.5 .18-3.5 .18-7.8 .18 8.4 .18 1.5 .18-4.1 .18-3.3 .18 1.4 .18 3.5 .18 3.2 .18-2.7 .18 2.5 .18-7.9 .18-.9 .18 10.7 .18 1.7 .18-8.8 .18 2.0 .18-.4 .18 2.9 .18-.8 .18-11.6 .18 8.9 .18-7.9 .18 14.1 .18-11.4 .18 1.3 .18-3.6 .18 4.5 .18-1.9 .18 2.1 .18-1.9 .18-6.1 .18 11.2 .18-3.5 .18 6.6 .18-8.0 .18 12.4 .18-8.5 .18 .7 .18-1.7 .18 3.1 .18 8.9 .18-10.1 .18-.4 .18-2.5 .18-1.2 .18 6.4 .18 1.0 .18-8.1 .18 2.3 .18-.8 .18-1.2 .18 2.7 .18-3.4 .18-.7 .18 14.8 .18-20.5 .18 7.9 .18 3.4 .18 6.8 .18-14.2 .18 6.3 .18 .9 .18 2.2 .18-11.9 .18 7.0 .18 3.7 .18 4.6 .18-4.0 .18-8.4 .18 5.2 .18 6.9 .18-5.8 .18 1.4 .18 3.3 .18-16.3 .18 13.3 .18-5.0 .18 10.5 .18-9.6 .18-2.3 .18 5.3 .18-.8 .18-12.8 .18 10.6 .18 .4 .18 2.0 .18 1.1 .18-4.6 .18 3.1 .18-10.4 .18 7.3 .18-1.9 .18-4.8 .18 .1 .18 5.1 .18 3.3 .18-10.4 .18 7.5 .18 3.3 .18-5.1 .18 6.6 .18-5.9 .18 4.7 .18-1.3 .18 4.6 .18 .4 .18-11.4 .18 6.6 .18 5.9 .18-15.6 .18 12.9 .18-2.4 .18-6.4 .18 9.9 .18-3.9 .18-4.5 .18 .8 .18 .5 .18 1.0 .18-.2 .18-1.0 .18-2.8 .18 1.3 .18 4.8 .18 2.0 .18-6.6 .18-1.2 .18-3.0 .18 12.3 .18-13.3 .18 1.3 .18 11.5 .18-6.3 .18-3.8 .18 6.3 .18-1.2 .18-1.7 .18-4.8 .18 9.2 .18 .2 .18-1.8 .18-1.8 .18-1.7 .18 2.5 .18-9.1 .18 8.2 .18-1.0 .18 2.1 .18-12.3 .18 11.1 .18 .4 .18-5.0 .18 4.5 .18-5.1 .18 4.5 .18-8.8 .18 8.2 .18-.1 .18-2.1 .18-6.7 .18 8.8 .18-7.5 .18 5.7 .18 3.5 .18-1.0 .18 3.2 .18-6.4 .18 2.4 .18 1.9 .18-9.0 .18 6.4 .18-7.5 .18 7.1 .18 4.7 .18-3.2 .18-1.2 .18-1.1 .18 4.0 .18-7.4 .18 13.2 .18-6.6 .18 0 .18-3.9 .18-1.4 .18 7.1 .18-2.0 .18-4.7 .18 1.0 .18-.5 .18-2.9 .18-5.2 .18 8.2 .18 2.3 .18 4.4 .18-4.0 .18 5.8 .18-12.0 .18 4.2 .18-1.5 .18 0 .18 6.3 .18-8.9 .18 4.6 .18-5.5 .18 3.9 .18 12.1 .18-9.1 .18-3.9 .18 7.1 .18-5.3 .18-9.6 .18 6.3 .18-3.0 .18 14.8 .18-7.2 .18-3.7 .18-3.3 .18 2.0 .18 .7 .18 1.0 .18-8.8 .18 6.6 .18 9.1 .18-3.1 .18-.4 .18-.8 .18-4.8 .18 8.6 .18-8.1 .18 2.9 .18 .3 .18-.6 .18-8.3 .18 12.9 .18-9.1 .18 5.4 .18-5.2 .18 3.3 .18 3.3 .18-11.6 .18 .8 .18 11.7 .18-8.8 .18 .3 .18 9.2 .18-2.6 .18-2.5 .18 3.9 .18-6.4 .18 5.4 .18-.2 .18-.3 .18-3.9 .18 5.7 .18 1.4 .18 1.9 .18-10.2 .18-.2 .18 6.7 .18-4.7 .18 9.3 .18-7.9 .18-1.5 .18-5.6 .18 8.0 .18-4.9 .18 8.2 .18-6.2 .18 3.1 .18-4.4 .18-3.4 .18 4.9 .18-3.1 .18 7.0 .18-6.3 .18 7.4 .18-5.6 .18-.7 .18 1.7 .18-2.1 .18 2.8 .18 9.2 .18-11.5 .18-12.1 .18 16.7 .18-4.6 .18 4.4 .18-8.9 .18 7.4 .18-6.9 .18 8.5 .18-3.8 .18 2.2 .18-3.3 .18 3.3 .18-6.3 .18 7.9 .18-5.1 .18 10.6 .18-13.6 .18-.1 .18-2.0 .18-1.0 .18 4.6 .18 1.0 .18 1.9 .18-.4 .18-9.6 .18 11.0 .18-8.8 .18-2.1 .18 5.3 .18 3.1 .18-2.4 .18-3.0 .18-.2 .18 4.9 .18-2.9 .18-4.5 .18-1.4 .18 5.2 .18 0 .18-8.5 .18 9.3 .18 3.6 .18 2.9 .18-1.9 .18-6.8 .18-6.1 .18 10.9 .18-7.2 .18-4.2 .18 19.5 .18-18.8 .18 8.0 .18-7.3 .18 9.5 .18 6.6 .18-7.6 .18 1.5 .18-.7 .18 4.0 .18 1.9 .18-14.6 .18 2.2 .18 9.8 .18-1.4 .18-2.2 .18-1.7 .18 3.0 .18-5.4 .18 7.6 .18-3.8 .18 2.9 .18-10.5 .18-.8 .18 4.8 .18-6.0 .18 .5 .18 3.4 .18-1.1 .18 13.0 .18-13.9 .18 5.4 .18-1.4 .18-5.0 .18 6.4 .18 3.8 .18 1.0 .18-7.5 .18 7.1 .18-3.6 .18-3.6 .18 5.3 .18-7.0 .18 9.6 .18-13.0 .18 .5 .18-5.7 .18 12.4 .18-5.5 .18 .8 .18-9.2 .18 19.1 .18-7.2 .18-7.0 .18 15.0 .18-13.1 .18 11.3 .18-3.5 .18 2.6 .18-4.9 .18 4.9 .18-1.9 .18-1.9 .18-2.1 .18 1.6 .18-5.4 .18-7.7 .18 13.4 .18 8.1 .18-10.6 .18 .8 .18 3.1 .18-10.5 .18 5.1 .18-11.1 .18 5.3 .18 10.3 .18-.1 .18-2.4 .18 4.3 .18-2.2 .18-3.2 .18-4.3 .18-2.8 .18 1.5 .18 10.5 .18-3.7 .18 2.6 .18-5.0 .18-2.4 .18 15.9 .18-18.1 .18 11.9 .18-13.3 .18 10.1 .18-3.9 .18-5.4 .18 3.9 .18 .2 .18-1.4 .18 2.5 .18-2.3 .18 3.8 .18 4.4 .18-9.1 .18-2.7 .18 4.8 .18-4.8 .18 4.7 .18 6.7 .18-11.4 .18-3.1 .18 6.5 .18-3.2 .18 7.3 .18-9.0 .18 10.9 .18-2.9 .18-.6 .18-1.9 .18-4.4 .18 11.7 .18-10.7 .18 3.0 .18 .2 .18 5.9 .18-1.2 .18-9.9 .18 .7 .18-3.0 .18 5.4 .18 1.4 .18 1.1 .18-4.9 .18-.2 .18-1.1 .18 11.0 .18 .8 .18-11.2 .18 2.1 .18 6.2 .18-.6 .18 .3 .18-3.5 .18 1.3 .18 4.4 .18-3.2 .18-.6 .18 5.0 .18-11.9 .18 2.0 .18 10.6 .18-18.7 .18 10.7 .18-2.6 .18-4.7 .18 7.2 .18 3.7 .18-10.0 .18 5.9 .18-2.3 .18 .7 .18-5.0 .18 14.2 .18-8.3 .18-12.4 .18 11.3 .18 8.9 .18-2.0 .18-4.6 .18-9.8 .18 8.1 .18-3.4 .18-2.2 .18 3.1 .18 .1 .18 7.7 .18-9.7 .18-10.0 .18 8.6 .18 4.4 .18-3.1 .18 4.4 .18-1.9 .18-3.2 .18 5.2 .18 1.1 .18 .3 .18-11.7 .18 5.5 .18 .2 .18 .9 .18-9.0 .18 3.1 .18 6.5 .18 2.8 .18-6.0 .18-5.3 .18 14.2 .18-6.1 .18 2.3 .18-7.0 .18 .9 .18 1.0 .18 1.0 .18-8.7 .18 5.0 .18-12.5 .18 15.0 .18-3.7 .18 10.8 .18-4.5 .18 .7 .18 .3 .18-2.0 .18-5.6 .18 .7 .18 1.6 .18-4.7 .18-5.8 .18 12.7 .18-12.3 .18 9.6 .18-6.9 .18-5.8 .18-.2 .18 5.5 .18 8.1 .18-4.7 .18-4.9 .18 5.8 .18-.8 .18 4.6 .18-1.1 .18-2.9 .18-6.5 .18-.3 .18 5.2 .18-2.3 .18 9.6 .18-.4 .18-14.1 .18 15.0 .18-13.7 .18 6.2 .18 3.5 .18-10.2 .18 6.4 .18-1.9 .18 10.8 .18-21.6 .18 7.9 .18 8.0 .18-10.9 .18 11.2 .18-5.9 .18 10.8 .18-3.6 .18-4.1 .18 9.9 .18-12.2 .18-9.9 .18 7.5 .18 4.2 .18-11.9 .18 3.5 .18 5.7 .18-2.6 .18 4.9 .18-5.9 .18 15.0 .18-10.9 .18-.7 .18-6.0 .18 5.2 .18 .5 .18-4.8 .18-2.8 .18 6.5 .18-1.9 .18 .5 .18-6.0 .18-4.9 .18 6.2 .18 5.5 .18 0 .18 .7 .18-6.7 .18 7.6 .18-.6 .18-4.0 .18-3.8 .18 10.9 .18-6.8 .18-2.1 .18 4.6 .18 4.5 .18-15.0 .18 19.3 .18-16.5 .18-5.5 .18 10.7 .18 3.8 .18-6.9 .18-4.0 .18 4.0 .18 1.8 .18 4.2 .18-6.6 .18 3.5 .18 5.0 .18-19.9 .18 18.6 .18-9.2 .18 13.4 .18-.3 .18-12.0 .18 1.0 .18 4.9 .18-3.0 .18 7.6 .18 .3 .18-17.1 .18-3.6 .18 16.7 .18 3.6 .18 1.7 .18-2.2 .18-7.6 .18-4.7 .18-10.7 .18 3.6 .18 5.6 .18 8.8 .18-8.3 .18 2.5 .18-7.8 .18 13.1 .18-16.5 .18 14.4 .18-2.6 .18-.7 .18-13.7 .18 13.1 .18-2.5 .18 14.5 .18 .3 .18-10.8 .18-12.3 .18 6.8 .18 7.0 .18-1.5 .18 0 .18-4.0 .18-1.2 .18-2.2 .18-4.1 .18 11.8 .18 .3 .18 9.8 .18-9.3 .18-5.4 .18 6.8 .18-.8 .18-13.4 .18 9.4 .18 2.3 .18-9.5 .18 2.4 .18 .5 .18 7.6 .18-8.8 .18 6.1 .18-11.8 .18 10.0 .18 4.1 .18 3.3 .18-8.6 .18-2.6 .18-7.2 .18 14.2 .18 2.7 .18-7.4 .18-.8 .18-4.8 .18 13.3 .18-11.1 .18 6.6 .18-15.6 .18 12.4 .18 0 .18 5.7 .18-21.1 .18 9.8 .18-.4 .18 7.6 .18 2.7 .18-4.5 .18-6.8 .18 14.5 .18-12.9 .18 1.6 .18-.1 .18 4.4 .18-.6 .18-4.7 .18 2.3 .18 8.0 .18-6.7 .18-2.2 .18-4.4 .18 7.8 .18-10.7 .18 4.8 .18 1.7 .18 2.7 .18 5.7 .18 1.4 .18-10.2 .18 5.4 .18-2.0 .18-4.2 .18 4.1 .18 .7 .18-8.5 .18-.8 .18 7.7 .18-6.4 .18 5.7 .18-1.1 .18-2.8 .18 4.1 .18-3.9 .18 5.4 .18-3.1 .18 2.2 .18-6.7 .18 1.2 .18-.3 .18-.3 .18 2.3 .18-4.3 .18 6.6 .18-1.6 .18-.9 .18-2.6 .18 10.1 .18 .7 .18-2.0 .18-7.0 .18 2.1 .18 4.8 .18-.2 .18-1.3 .18 .6 .18 2.9 .18-7.1 .18-7.7 .18 9.3 .18-1.1 .18 8.9 .18-10.5 .18 .6 .18 1.9 .18-7.5 .18 8.1 .18-10.5 .18 8.7 .18 3.0 .18 1.5 .18-17.8 .18 12.4 .18 4.8 .18-3.6 .18 3.8 .18-20.8 .18 22.3 .18-13.6 .18-8.9 .18 20.3 .18-3.8 .18-12.0 .18-4.0 .18 14.8 .18 6.5 .18-1.6 .18-10.2 .18 .8 .18 8.0 .18-6.4 .18-2.2 .18 3.2 .18-4.5 .18-.3 .18 4.2 .18-5.2 .18 11.6 .18-1.9 .18-8.6 .18-5.0 .18 5.8 .18 3.0 .18-4.0 .18 11.6 .18-11.6 .18 8.2 .18-1.4 .18-8.7 .18-7.7 .18 11.6 .18-1.3 .18 3.8 .18-5.6 .18-4.5 .18 12.0 .18-5.7 .18 9.2 .18 1.6 .18-11.2 .18 11.4 .18-10.4 .18 1.3 .18 5.1 .18-17.7 .18 15.3 .18-.2 .18 1.9 .18 3.2 .18-5.1 .18-1.5 .18 4.4 .18-1.5 .18 7.1 .18-12.6 .18 7.9 .18 .4 .18 1.3 .18-7.3 .18-.4 .18-9.5 .18 9.4 .18-10.3 .18 8.2 .18-1.2 .18 .9 .18 0 .18 4.2 .18 5.3 .18-3.6 .18-7.4 .18-.3 .18 3.9 .18 4.1 .18-9.6 .18 8.9 .18 8.6 .18-11.4 .18-6.5 .18 14.7 .18-4.3 .18-4.8 .18-.4 .18 3.5 .18 1.3 .18-8.2 .18 6.8 .18 7.2 .18-11.3 .18-3.4 .18 3.7 .18 5.2 .18 5.3 .18-3.7 .18-13.0 .18-8.0 .18 17.0 .18-8.3 .18 6.1"/><path stroke="#1c6cf0" d="M299.00 140.6l.18 3.1 .18 6.2 .18-4.6 .18-.9 .18-2.4 .18 4.2 .18-.2 .18-1.5 .18 5.4 .18-3.5 .18-.5 .18 .1 .18-2.4 .18 1.0 .18 6.0 .18-5.5 .18 3.7 .18-5.7 .18 .6 .18-1.2 .18 2.3 .18 3.0 .18-4.5 .18 .2 .18-3.4 .18 4.1 .18 2.4 .18-1.9 .18 2.9 .18 4.1 .18-8.2 .18-4.6 .18 3.8 .18-1.7 .18 3.8 .18 1.7 .18-2.9 .18-5.2 .18 8.6 .18-1.1 .18 .3 .18-6.6 .18 2.6 .18-.8 .18 1.1 .18 3.4 .18-8.9 .18 1.7 .18 2.4 .18 0 .18-.9 .18 1.5 .18-.2 .18 1.8 .18-.7 .18 3.0 .18-4.0 .18-1.8 .18 1.5 .18 .6 .18-.1 .18 2.6 .18 3.9 .18-9.3 .18 4.2 .18 .6 .18-4.3 .18 1.8 .18 .2 .18 .6 .18 2.5 .18-3.2 .18 3.7 .18-6.8 .18 6.0 .18 .8 .18-10.6 .18 2.6 .18 .9 .18 3.4 .18-1.1 .18-.4 .18 6.4 .18-6.6 .18 5.4 .18 1.6 .18 .4 .18 1.8 .18-3.7 .18 1.4 .18-8.1 .18 3.7 .18-.6 .18 6.7 .18-2.9 .18-2.2 .18-1.3 .18-3.6 .18 3.9 .18 1.9 .18 1.0 .18-.2 .18-1.1 .18 2.5 .18-3.6 .18-.9 .18 0 .18 2.6 .18-.6 .18-.8 .18-4.1 .18 13.8 .18-11.9 .18 5.2 .18-8.4 .18 13.1 .18-9.1 .18 8.7 .18-3.2 .18 6.5 .18-5.0 .18-5.5 .18 .5 .18 6.9 .18-8.1 .18 7.0 .18-6.6 .18 1.7 .18-4.5 .18 7.0 .18-5.6 .18 12.4 .18-7.7 .18-.2 .18 2.0 .18-3.7 .18 1.2 .18 1.5 .18 .8 .18 1.4 .18-2.0 .18-6.4 .18 5.5 .18-1.3 .18 1.6 .18 3.6 .18-2.8 .18 7.2 .18-7.7 .18-1.5 .18 2.8 .18 .5 .18 2.4 .18-4.8 .18 4.2 .18-.6 .18-.6 .18-.1 .18 .3 .18-4.7 .18 2.2 .18 2.7 .18 4.2 .18-1.9 .18-1.9 .18 0 .18 .1 .18 .8 .18 1.2 .18-7.8 .18 3.9 .18 8.2 .18-4.5 .18-3.4 .18-1.1 .18 2.0 .18 1.0 .18-2.9 .18 4.3 .18 .2 .18-1.9 .18-.4 .18-1.5 .18-3.1 .18 1.0 .18 1.1 .18 1.4 .18-3.1 .18 .1 .18 7.4 .18-5.1 .18 3.7 .18-3.1 .18-2.6 .18 1.5 .18-3.3 .18 7.1 .18 1.6 .18-2.1 .18-1.8 .18-2.5 .18-1.1 .18 5.0 .18-3.1 .18-1.0 .18 0 .18 1.3 .18-2.1 .18 1.9 .18 2.5 .18 .4 .18-7.3 .18 5.1 .18-1.9 .18-3.0 .18-1.7 .18 6.9 .18 4.3 .18-4.4 .18 2.6 .18-10.7 .18 10.9 .18-6.2 .18 1.9 .18-2.4 .18-.5 .18 4.6 .18-5.1 .18 6.1 .18-5.5 .18 .9 .18 2.3 .18-2.7 .18 3.1 .18-2.4 .18 0 .18 1.8 .18-.9 .18 6.9 .18-8.5 .18 .9 .18 .4 .18 2.0 .18-4.0 .18-5.2 .18 3.6 .18 2.7 .18-1.7 .18-6.3 .18 7.4 .18-4.0 .18 2.2 .18-7.7 .18 13.0 .18-.1 .18-5.8 .18-5.5 .18 6.5 .18 5.7 .18-3.0 .18 3.8 .18-13.0 .18 5.6 .18-2.1 .18-.2 .18 3.7 .18-2.1 .18-4.3 .18-3.5 .18 5.8 .18-1.5 .18 10.8 .18-11.3 .18 7.8 .18-6.9 .18-3.6 .18 8.3 .18 2.3 .18-3.7 .18 1.6 .18-10.7 .18-.4 .18 13.4 .18 1.0 .18-4.7 .18 2.3 .18-7.8 .18 3.2 .18-2.0 .18 4.1 .18 .7 .18-2.0 .18 1.6 .18 2.8 .18-2.8 .18 5.0 .18-11.2 .18 5.3 .18 4.5 .18-11.2 .18 4.1 .18 1.2 .18 3.8 .18-4.5 .18-3.9 .18 1.8 .18 .8 .18 4.5 .18 2.0 .18-5.5 .18 1.1 .18 .2 .18 .7 .18 2.0 .18-6.0 .18-2.5 .18 .3 .18-1.2 .18-1.6 .18 6.5 .18-.5 .18-6.3 .18 7.5 .18 4.6 .18-2.7 .18 3.8 .18-3.4 .18-9.1 .18 5.6 .18 2.2 .18-4.0 .18 2.1 .18-.9 .18-.7 .18 5.1 .18-8.5 .18 6.7 .18 3.3 .18-3.3 .18-6.0 .18 4.5 .18 1.0 .18 .3 .18 2.6 .18-13.0 .18 12.6 .18-2.9 .18-1.4 .18-1.9 .18 3.7 .18 2.3 .18-2.6 .18-5.3 .18 3.4 .18 6.2 .18-7.4 .18 7.4 .18-3.5 .18 5.5 .18-9.1 .18 5.9 .18-2.1 .18-7.8 .18 6.7 .18 .9 .18 1.1 .18-5.2 .18 .4 .18 6.1 .18-12.8 .18 2.4 .18 .2 .18 6.1 .18-.1 .18-2.5 .18 3.3 .18-6.0 .18-.7 .18 1.8 .18-6.1 .18 1.9 .18 5.6 .18-1.6 .18-2.0 .18 6.5 .18-2.0 .18-1.8 .18-.2 .18 3.9 .18 4.4 .18-6.1 .18-3.1 .18-1.5 .18 3.3 .18 2.7 .18-4.8 .18 6.3 .18-6.8 .18 4.7 .18-2.1 .18 .8 .18-5.0 .18 1.7 .18 .8 .18 4.3 .18-2.1 .18-2.8 .18-1.4 .18 4.1 .18-6.1 .18 2.4 .18 7.0 .18-11.1 .18 2.8 .18 .1 .18 1.3 .18-4.7 .18 1.1 .18 6.0 .18-1.5 .18-8.0 .18 9.9 .18-.8 .18-3.1 .18-7.2 .18 13.5 .18 3.7 .18-11.6 .18-5.2 .18 15.3 .18-7.5 .18 2.6 .18-1.8 .18 .3 .18-3.4 .18-.6 .18 2.7 .18-2.7 .18-4.2 .18 5.1 .18 5.4 .18-9.7 .18 4.9 .18 .4 .18-3.9 .18 4.7 .18-2.3 .18 6.7 .18-1.5 .18-4.3 .18-2.5 .18 1.9 .18 4.8 .18-3.8 .18-2.1 .18 1.7 .18-8.4 .18 11.0 .18-6.3 .18 2.7 .18 .9 .18 2.3 .18-5.1 .18 2.3 .18 4.4 .18-6.2 .18 2.0 .18-1.8 .18-1.5 .18 1.4 .18-4.4 .18 3.8 .18 .4 .18 3.1 .18-1.3 .18-3.4 .18-.2 .18-3.3 .18 5.8 .18-1.9 .18-5.2 .18 6.4 .18-1.2 .18 1.4 .18-3.1 .18-.5 .18 7.1 .18-5.2 .18-2.4 .18-3.5 .18 9.5 .18-12.6 .18 9.9 .18-4.3 .18 7.2 .18-4.8 .18-1.7 .18 6.6 .18-9.9 .18 8.3 .18-.4 .18 7.3 .18-14.3 .18 .1 .18 1.7 .18 .4 .18-1.2 .18 4.7 .18-4.4 .18-4.1 .18-3.5 .18 4.6 .18 1.5 .18-.6 .18 5.3 .18-2.6 .18-6.3 .18 3.1 .18 1.3 .18 11.2 .18-7.0 .18-4.0 .18 2.9 .18 2.2 .18-8.6 .18 11.2 .18-10.5 .18 6.6 .18 3.4 .18-6.3 .18 2.1 .18-6.8 .18 9.2 .18-1.7 .18 4.3 .18-4.3 .18 1.4 .18-8.9 .18-.3 .18 .4 .18 7.9 .18-11.6 .18 1.8 .18 5.6 .18-7.7 .18 2.0 .18 7.8 .18-5.7 .18 2.3 .18-1.8 .18 3.0 .18 2.4 .18-2.3 .18 2.1 .18 1.7 .18-11.1 .18 6.1 .18 1.0 .18 2.9 .18-4.2 .18-3.9 .18 3.2 .18 2.2 .18-4.2 .18-2.0 .18-1.9 .18 2.4 .18 6.5 .18-.7 .18 4.2 .18-4.0 .18-.6 .18 3.4 .18 .6 .18-5.9 .18-8.9 .18 9.4 .18-2.3 .18 8.5 .18-6.3 .18-1.5 .18-2.6 .18 6.2 .18 4.2 .18-10.5 .18 7.7 .18-4.0 .18 4.0 .18 7.9 .18-14.0 .18 7.8 .18 5.4 .18-7.5 .18-4.5 .18-4.6 .18 13.5 .18-2.1 .18-5.3 .18 10.0 .18-15.3 .18 12.0 .18 0 .18-1.8 .18 2.7 .18-1.0 .18-4.7 .18 1.4 .18 7.9 .18-4.8 .18 3.9 .18-3.2 .18 3.7 .18-2.8 .18-3.6 .18-3.4 .18 9.3 .18-6.3 .18-5.0 .18 12.4 .18-4.2 .18-.5 .18-6.0 .18 8.1 .18-3.5 .18-5.0 .18 2.7 .18-2.3 .18 11.2 .18-8.4 .18 3.5 .18 3.3 .18 3.2 .18-10.7 .18-2.3 .18 8.4 .18-.7 .18 7.0 .18-11.9 .18 8.2 .18-2.3 .18-4.0 .18-11.2 .18 11.4 .18-2.6 .18-7.6 .18 11.9 .18-6.6 .18-1.4 .18 3.2 .18 5.7 .18 3.3 .18-3.9 .18-2.4 .18-1.1 .18-8.1 .18 2.3 .18 3.7 .18 .2 .18-2.8 .18 9.9 .18-1.6 .18-8.8 .18 7.5 .18-3.8 .18 9.8 .18-5.7 .18-4.1 .18 1.6 .18 1.8 .18-4.1 .18 7.6 .18-8.4 .18-6.6 .18 6.5 .18 3.4 .18-7.6 .18-2.8 .18 5.8 .18 6.4 .18-2.4 .18 4.7 .18-5.2 .18-12.3 .18 5.9 .18 3.6 .18-2.0 .18-4.1 .18 4.6 .18-8.5 .18 11.7 .18-.9 .18-.4 .18-5.3 .18-1.4 .18 4.8 .18-.7 .18-3.0 .18 7.2 .18-.7 .18-7.1 .18 4.7 .18 1.4 .18-.9 .18 1.4 .18-2.5 .18-1.4 .18-4.7 .18 2.1 .18 3.9 .18-.1 .18-5.9 .18 4.6 .18 3.0 .18 3.4 .18-3.3 .18-5.9 .18 6.9 .18-10.6 .18 8.0 .18-4.7 .18 11.2 .18-12.8 .18 7.8 .18 5.6 .18-10.7 .18-.9 .18 2.7 .18-1.3 .18-3.0 .18 15.9 .18-8.4 .18-.8 .18-6.9 .18-.5 .18 5.2 .18 1.1 .18-1.5 .18 .2 .18 8.0 .18-3.6 .18-2.0 .18-5.7 .18 10.0 .18-8.1 .18 1.7 .18-12.0 .18 14.7 .18-11.3 .18 4.5 .18 7.4 .18-5.9 .18-2.4 .18 7.4 .18 .6 .18-3.6 .18 5.6 .18-11.4 .18 5.2 .18-2.8 .18-6.8 .18 9.9 .18-3.5 .18 .5 .18 1.8 .18-1.3 .18 4.4 .18-6.0 .18 3.5 .18-3.7 .18 4.6 .18-2.3 .18 3.5 .18 7.0 .18-10.3 .18 2.7 .18-7.3 .18 2.1 .18 3.4 .18 3.8 .18-10.3 .18 4.1 .18 6.4 .18-8.9 .18 5.3 .18-3.3 .18 9.3 .18-9.4 .18-3.4 .18 9.6 .18 1.4 .18-4.6 .18 6.2 .18-10.1 .18 2.2 .18-3.9 .18-.9 .18 5.3 .18-2.9 .18 9.3 .18-11.2 .18 4.9 .18-11.8 .18 10.5 .18-3.2 .18-.2 .18 3.2 .18-2.1 .18-3.9 .18 7.9 .18-2.6 .18 5.2 .18 .9 .18-7.1 .18 4.0 .18 0 .18-5.6 .18 3.0 .18 1.4 .18-6.9 .18 2.1 .18 9.4 .18-7.4 .18 6.9 .18-4.0 .18-10.2 .18 5.8 .18 4.0 .18-3.1 .18 1.4 .18-.5 .18-4.8 .18 7.4 .18 4.3 .18-10.7 .18 .7 .18 2.1 .18 2.9 .18-5.2 .18 5.8 .18-6.1 .18 2.1 .18-9.6 .18 10.5 .18 2.1 .18-7.8 .18 3.9 .18-4.0 .18-.4 .18 10.8 .18-2.7 .18-13.7 .18 12.7 .18-.4 .18 4.5 .18-6.8 .18-.6 .18-4.9 .18 2.7 .18-.7 .18 9.1 .18-4.4 .18-6.0 .18 2.9 .18-7.3 .18-2.3 .18 6.4 .18-1.9 .18 .5 .18-3.0 .18 6.0 .18-7.0 .18 18.7 .18-15.4 .18-.1 .18 1.4 .18 .7 .18 1.4 .18-5.2 .18 .6 .18 2.0 .18-2.3 .18 11.1 .18-16.3 .18 2.8 .18 8.9 .18 7.6 .18-6.7 .18 0 .18-10.0 .18 .1 .18 10.6 .18-.1 .18-2.0 .18-1.0 .18 .1 .18-7.4 .18 12.6 .18-17.2 .18 10.7 .18 3.4 .18-5.4 .18-2.6 .18 3.0 .18 6.4 .18-3.6 .18 .7 .18-5.8 .18 2.5 .18 4.5 .18-.1 .18-13.5 .18 6.9 .18-1.2 .18 .7 .18 8.1 .18-17.5 .18 11.2 .18-2.0 .18 2.0 .18-6.7 .18-2.2 .18 15.3 .18-4.8 .18-5.9 .18-3.0 .18 3.9 .18-.9 .18-1.9 .18 5.4 .18-2.4 .18-2.2 .18 1.8 .18-4.3 .18 5.6 .18-1.4 .18-11.0 .18 12.3 .18-5.4 .18-9.9 .18 14.8 .18-3.3 .18 1.9 .18-8.4 .18 11.6 .18 4.0 .18-4.2 .18-4.8 .18 .2 .18 4.2 .18-1.9 .18-3.5 .18-7.6 .18 16.8 .18-9.4 .18-2.0 .18 4.6 .18-9.4 .18 8.5 .18-3.7 .18 13.0 .18-23.2 .18 15.3 .18-3.7 .18-4.9 .18 8.0 .18-7.0 .18-4.4 .18 .6 .18 7.3 .18-4.2 .18 1.5 .18-2.2 .18 4.5 .18 1.1 .18-8.1 .18 10.0 .18-10.1 .18 7.6 .18 .5 .18-4.5 .18-2.4 .18-2.8 .18 14.3 .18-14.2 .18 17.0 .18-13.1 .18 5.6 .18-1.9 .18-4.8 .18-2.5 .18-.5 .18 2.5 .18-3.0 .18 11.5 .18-9.4 .18-4.3 .18 7.9 .18-4.7 .18-8.9 .18 8.7 .18 3.1 .18-9.3 .18 6.6 .18 6.3 .18-7.8 .18-3.9 .18 1.3 .18 7.8 .18-7.4 .18 5.5 .18-10.5 .18 12.6 .18-.3 .18 4.0 .18-14.0 .18 6.7 .18-6.0 .18 5.6 .18-.8 .18 7.2 .18 4.4 .18-11.1 .18-1.7 .18 4.6 .18-7.8 .18-.1 .18 6.1 .18 2.1 .18-3.9 .18 1.3 .18-13.6 .18 6.0 .18 3.9 .18 4.0 .18-8.9 .18 7.4 .18-2.6 .18 2.5 .18-3.8 .18 6.4 .18-8.5 .18 10.5 .18-9.5 .18 4.6 .18-8.2 .18 2.0 .18 5.1 .18-12.8 .18 .7 .18 10.3 .18 12.3 .18-12.6 .18 8.6 .18-8.9 .18-2.5 .18 8.8 .18-3.6 .18 5.6 .18-14.1 .18-1.4 .18 12.6 .18 .9 .18-9.5 .18 2.7 .18 6.0 .18-5.5 .18-3.0 .18 2.4 .18-8.4 .18 12.9 .18-.2 .18-5.9 .18-6.0 .18 9.5 .18 3.9 .18-17.3 .18 7.5 .18 .8 .18 10.2 .18 .5 .18-14.7 .18 3.3 .18 1.0 .18 2.1 .18 1.3 .18 4.5 .18-15.8 .18 .7 .18 9.6 .18 .3 .18-5.0 .18 5.1 .18 .7 .18-3.3 .18 9.3 .18-4.3 .18-1.8 .18-3.5 .18-5.3 .18 4.3 .18-2.0 .18-9.4 .18 12.2 .18-8.4 .18 8.6 .18-7.9 .18 .3 .18 10.0 .18-6.2 .18-1.0 .18-3.2 .18 4.2 .18 11.4 .18 1.8 .18-5.7 .18-2.3 .18-5.0 .18 2.6 .18-5.2 .18 9.8 .18-3.8 .18-5.6 .18-.5 .18 13.8 .18-12.2 .18-2.2 .18 3.9 .18 11.6 .18-8.4 .18-2.3 .18 4.4 .18-4.0 .18 1.7 .18 6.9 .18-15.3 .18 .9 .18 5.9 .18-6.0 .18 1.7 .18 3.9 .18-5.9 .18 .5 .18 7.0 .18-2.5 .18-9.3 .18 10.3 .18 5.5 .18-8.2 .18-7.2 .18 7.2 .18-4.5 .18 .2 .18 5.2 .18 1.4 .18-11.1 .18 13.3 .18-3.2 .18 1.2 .18 2.0 .18 .4 .18-7.9 .18 3.0 .18-5.4 .18 3.4 .18 2.9 .18-3.7 .18 11.7 .18-16.4 .18 18.7 .18-12.1 .18 8.5 .18-7.4 .18-6.7 .18 3.2 .18-2.1 .18 6.5 .18-2.4 .18-7.8 .18 18.3 .18-6.9 .18-14.1 .18 4.0 .18 2.2 .18 2.6 .18 .2 .18-3.2 .18 11.0 .18-16.8 .18 13.2 .18-4.8 .18 5.9 .18-9.0 .18 1.5 .18 3.7 .18-1.9 .18-1.7 .18-.9 .18-1.1 .18-5.1 .18-.1 .18 4.3 .18 2.6 .18 4.3 .18-6.5 .18-.2 .18 4.6 .18-5.7 .18 2.9 .18 6.1 .18-10.5 .18-2.3 .18 3.7 .18 2.8 .18-5.5 .18 9.1 .18 7.1 .18-5.4 .18 2.0 .18 .9 .18-3.9 .18-3.6 .18 .2 .18-9.3 .18 1.2 .18 3.3 .18-2.4 .18 1.7 .18 6.3 .18-3.0 .18-1.1 .18 12.0 .18-13.1 .18 1.9 .18 5.9 .18-6.7 .18 7.3 .18-10.1 .18 11.7 .18-5.7 .18-11.2 .18 8.2 .18 3.7 .18-5.1 .18 4.3 .18-4.6 .18 5.3 .18-4.2 .18 7.1 .18-3.0 .18 2.6 .18-.6 .18-7.2 .18 1.0 .18 3.3 .18 4.3 .18-3.5 .18-9.6 .18 13.2 .18-4.5 .18 4.8 .18 5.2 .18-14.8 .18-.8 .18-3.0 .18 13.9 .18-8.8 .18-3.2 .18-3.0 .18 3.6 .18 7.6 .18-11.8 .18 11.2 .18-5.4 .18 2.7 .18-10.4 .18-1.3 .18 9.7 .18 2.5 .18-2.4 .18 1.9 .18-4.2 .18 1.2 .18 2.3 .18-2.7 .18-.6 .18 1.2 .18 10.2 .18-14.0 .18 16.8 .18-16.2"/><path stroke="#20ad62" d="M299.00 120.1l.18-2.9 .18-7.9 .18 9.7 .18 .5 .18-4.2 .18-.2 .18-5.0 .18 0 .18-3.3 .18 9.9 .18-1.9 .18-6.5 .18 8.2 .18-5.2 .18 2.3 .18 5.8 .18-5.6 .18-1.9 .18 5.0 .18-3.9 .18 4.1 .18 3.2 .18-7.7 .18-3.7 .18 4.9 .18 4.7 .18 1.4 .18-1.5 .18-6.0 .18 4.1 .18-6.1 .18-4.8 .18 8.3 .18-2.7 .18 1.0 .18-2.3 .18 6.8 .18-2.2 .18-3.8 .18 3.1 .18-1.7 .18 .4 .18 2.8 .18-2.4 .18 3.7 .18 1.4 .18-2.5 .18 1.0 .18-2.2 .18-1.0 .18-2.7 .18 9.5 .18-2.6 .18-8.5 .18 7.8 .18-1.0 .18 3.8 .18-1.9 .18-1.2 .18-1.5 .18-1.5 .18 6.5 .18-2.2 .18 1.0 .18-1.2 .18 .7 .18-3.4 .18-.5 .18-2.2 .18 5.4 .18 .2 .18-1.8 .18 1.2 .18 5.9 .18-13.6 .18 3.6 .18 8.0 .18-8.6 .18 10.8 .18 0 .18-7.8 .18 1.8 .18 2.1 .18-3.3 .18 6.1 .18 1.7 .18-11.7 .18 1.7 .18 9.1 .18-7.6 .18 4.1 .18-.8 .18 5.9 .18-8.5 .18 5.2 .18 4.3 .18-5.6 .18 .9 .18-.5 .18 .5 .18-.2 .18 3.0 .18-5.5 .18-3.0 .18 8.5 .18-2.7 .18 1.9 .18 .6 .18 1.8 .18-9.4 .18 2.8 .18 3.5 .18 .6 .18-2.7 .18 4.8 .18-7.6 .18-.3 .18 2.0 .18 4.5 .18 8.7 .18-10.6 .18 3.0 .18-6.4 .18 10.6 .18-7.8 .18 6.8 .18 1.1 .18-9.6 .18 .3 .18 6.1 .18-.9 .18-2.6 .18 4.8 .18-4.9 .18-.5 .18-1.9 .18 0 .18 1.8 .18 6.3 .18-2.7 .18 4.4 .18-6.6 .18-3.2 .18 5.3 .18 .9 .18 3.2 .18-8.4 .18 10.0 .18-4.9 .18 .1 .18-.4 .18-6.4 .18 8.9 .18-.8 .18-5.0 .18-1.2 .18 5.9 .18-2.5 .18-4.5 .18 4.2 .18 1.1 .18-4.9 .18 6.4 .18 7.6 .18-10.3 .18 1.9 .18 3.5 .18-7.1 .18 7.7 .18-8.0 .18 10.1 .18-8.3 .18 .2 .18-4.6 .18 3.6 .18 5.0 .18-2.4 .18 1.3 .18 2.7 .18-5.9 .18 2.7 .18 8.2 .18-12.0 .18 7.0 .18-9.9 .18 5.9 .18 3.5 .18-9.6 .18 3.8 .18-5.3 .18 7.2 .18 1.1 .18-.4 .18 2.9 .18-2.7 .18-5.4 .18 5.6 .18-10.5 .18 6.5 .18-2.2 .18 9.8 .18-3.4 .18-4.8 .18-1.5 .18 1.8 .18-2.6 .18-1.7 .18 4.1 .18 .2 .18 .8 .18-1.1 .18-2.3 .18 8.7 .18-4.5 .18 2.9 .18-11.3 .18 4.0 .18-.2 .18 5.6 .18-5.8 .18-1.4 .18 1.3 .18-3.6 .18 2.2 .18 3.0 .18 3.4 .18-10.3 .18 16.6 .18-10.6 .18 2.4 .18-.5 .18-2.3 .18 .5 .18 1.3 .18-4.0 .18-1.6 .18 1.9 .18 2.9 .18 7.7 .18-13.7 .18 .2 .18-1.4 .18-5.5 .18 14.4 .18-5.6 .18 1.5 .18 6.2 .18-3.7 .18-.3 .18-2.7 .18 1.1 .18-1.1 .18 2.7 .18 1.9 .18-5.3 .18-.1 .18 1.6 .18-.2 .18-11.5 .18 14.8 .18-5.4 .18-.6 .18-2.7 .18 1.0 .18 5.2 .18-1.3 .18-12.6 .18 10.1 .18-2.5 .18-2.3 .18 8.2 .18-7.5 .18-2.4 .18 5.9 .18-1.1 .18 4.6 .18-6.5 .18-1.9 .18 1.7 .18-3.0 .18 3.4 .18 3.2 .18-4.4 .18-5.9 .18 3.8 .18 7.1 .18 1.3 .18-.2 .18 5.7 .18-14.9 .18 4.2 .18 3.0 .18-2.1 .18-4.9 .18 5.4 .18 .6 .18-12.5 .18 4.7 .18 8.0 .18-1.6 .18-1.2 .18 1.7 .18-3.8 .18-.8 .18 4.2 .18-8.9 .18 10.0 .18 4.3 .18-9.7 .18 5.4 .18-.6 .18-.6 .18-2.2 .18-12.3 .18 14.8 .18-1.1 .18-7.5 .18 8.2 .18 6.1 .18-14.8 .18 5.4 .18 9.0 .18-13.2 .18 6.8 .18-1.6 .18-6.8 .18-3.5 .18 6.6 .18-2.8 .18-.7 .18 .1 .18 12.0 .18-7.7 .18-7.9 .18 5.4 .18-.4 .18-4.2 .18 2.8 .18 1.2 .18-2.2 .18-4.7 .18 7.6 .18 .8 .18-1.2 .18-7.8 .18 11.6 .18-9.4 .18 6.1 .18-3.1 .18-4.5 .18 7.8 .18 4.9 .18-2.7 .18 .5 .18-3.9 .18 .6 .18-8.6 .18 12.3 .18-.8 .18-6.1 .18 1.0 .18-2.4 .18 4.5 .18 1.0 .18 4.1 .18 3.3 .18-10.2 .18 2.0 .18-4.0 .18 .6 .18 1.3 .18 5.2 .18-.5 .18-4.5 .18 3.3 .18-3.4 .18-3.6 .18-2.9 .18 6.8 .18-1.7 .18-.4 .18-2.1 .18-.5 .18-2.2 .18 6.6 .18-3.5 .18 .7 .18 .5 .18-10.5 .18 10.3 .18 9.4 .18-15.6 .18 9.8 .18-7.5 .18 7.5 .18-7.4 .18 .1 .18-2.7 .18 9.0 .18-3.9 .18 14.8 .18-19.8 .18-2.5 .18-2.4 .18-9.4 .18 9.0 .18 1.6 .18-.2 .18-2.2 .18 .4 .18 8.4 .18-16.8 .18 .7 .18 1.5 .18 4.1 .18 7.0 .18-4.4 .18-.5 .18 2.0 .18 .1 .18 4.8 .18-9.1 .18-1.2 .18 1.7 .18 0 .18-5.1 .18 6.5 .18-11.9 .18 20.1 .18-6.7 .18-9.3 .18-2.2 .18 12.9 .18-3.6 .18-3.0 .18-1.4 .18 .7 .18-4.7 .18-1.6 .18-.6 .18 2.9 .18-2.0 .18 8.7 .18-5.2 .18 4.8 .18-6.3 .18-5.7 .18 6.4 .18 3.4 .18-6.9 .18 9.2 .18-2.3 .18 .9 .18-5.5 .18 3.2 .18 .3 .18 3.0 .18-9.3 .18 8.7 .18-.2 .18 1.6 .18 .8 .18 6.6 .18-9.4 .18-2.8 .18 6.9 .18-8.1 .18-3.1 .18 3.0 .18-3.4 .18 6.6 .18-6.1 .18 3.2 .18 4.0 .18-5.4 .18 0 .18-.6 .18 4.1 .18-8.4 .18 13.5 .18-14.7 .18 4.7 .18 11.8 .18-8.8 .18 5.4 .18-.2 .18-4.4 .18 4.8 .18-4.8 .18-1.9 .18 6.2 .18-6.7 .18 1.2 .18 6.1 .18-8.0 .18 12.9 .18-12.7 .18 1.7 .18 6.1 .18 4.6 .18-13.0 .18 7.8 .18-4.2 .18 4.2 .18 2.5 .18-4.3 .18 2.4 .18-7.5 .18 2.7 .18 6.2 .18-1.3 .18 2.1 .18-2.8 .18-8.5 .18 6.3 .18-8.7 .18 5.0 .18-2.4 .18 9.4 .18-14.7 .18 8.0 .18 .3 .18-8.0 .18-.4 .18 .2 .18 2.7 .18 2.6 .18-2.9 .18-3.6 .18-1.1 .18-.2 .18 7.6 .18 1.6 .18-13.1 .18 1.2 .18-1.4 .18 2.6 .18-1.6 .18 11.0 .18 2.5 .18-8.8 .18-7.8 .18 13.4 .18-16.8 .18 10.6 .18-6.4 .18 4.1 .18-4.2 .18 3.6 .18 5.1 .18-12.3 .18 8.0 .18-6.2 .18-.1 .18 14.7 .18-7.7 .18-2.5 .18 4.0 .18 2.6 .18-4.7 .18-12.1 .18 10.7 .18-3.3 .18 1.2 .18-4.6 .18 13.8 .18-4.3 .18 8.0 .18-14.9 .18-.9 .18 16.8 .18-9.0 .18 4.0 .18-5.4 .18 3.1 .18 4.7 .18-2.9 .18 6.1 .18 5.5 .18-6.3 .18 3.0 .18-4.7 .18-.5 .18 6.5 .18 7.6 .18 .3 .18-10.6 .18 6.1 .18 5.6 .18-7.5 .18 3.1 .18 3.1 .18 3.4 .18-.8 .18 10.3 .18-8.6 .18 2.3 .18-6.2 .18 11.1 .18-1.1 .18-9.0 .18 5.3 .18-6.7 .18 19.3 .18-13.3 .18 3.9 .18-6.0 .18 4.5 .18-1.2 .18 7.9 .18-1.0 .18-1.8 .18-.2 .18 3.5 .18-12.5 .18 9.7 .18-2.2 .18-2.0 .18 1.4 .18-2.2 .18 2.0 .18 4.4 .18-6.3 .18-3.1 .18 5.9 .18 2.9 .18-2.8 .18-9.7 .18 2.8 .18 12.1 .18-5.0 .18-.9 .18-3.6 .18 6.8 .18 3.2 .18-5.6 .18 .5 .18-7.2 .18 8.8 .18-.9 .18 4.5 .18-13.9 .18 4.4 .18-.4 .18-4.1 .18 7.5 .18 5.7 .18-10.9 .18 6.5 .18 2.1 .18-10.5 .18 5.4 .18-2.5 .18 9.7 .18-6.6 .18 2.7 .18 2.8 .18 3.8 .18-9.5 .18 0 .18-1.4 .18-1.1 .18 .5 .18-6.3 .18 1.5 .18-5.3 .18 17.1 .18-8.0 .18-4.6 .18 6.5 .18 3.9 .18-3.7 .18-.8 .18-2.8 .18 5.6 .18 2.5 .18-7.3 .18-.8 .18 4.6 .18 4.1 .18-6.0 .18 4.1 .18 7.5 .18-16.3 .18 1.8 .18 3.6 .18-8.3 .18 10.1 .18-5.4 .18 15.8 .18-13.7 .18-1.8 .18 3.6 .18-4.5 .18 5.2 .18-7.1 .18 5.3 .18-3.5 .18 3.0 .18-.1 .18-1.6 .18 7.2 .18-9.3 .18 1.5 .18 5.5 .18 3.6 .18-8.5 .18 2.2 .18 9.7 .18-10.2 .18 7.7 .18-3.5 .18-2.9 .18-4.9 .18 .7 .18 7.7 .18-9.1 .18 4.0 .18 3.3 .18-3.8 .18-7.2 .18 12.1 .18-4.1 .18 3.5 .18-12.8 .18-.2 .18 6.4 .18-1.7 .18 8.6 .18 3.0 .18-10.2 .18 4.6 .18-1.0 .18-.7 .18 4.4 .18-10.6 .18 8.2 .18-1.9 .18-6.4 .18 6.8 .18-2.4 .18-.7 .18 3.4 .18 1.8 .18-.9 .18-13.3 .18 6.7 .18-.8 .18 1.8 .18 4.5 .18-4.9 .18 6.0 .18-6.6 .18 13.6 .18-15.0 .18 1.6 .18 3.8 .18-7.1 .18 9.4 .18-1.7 .18-6.1 .18 6.7 .18-11.3 .18 6.3 .18 2.9 .18 10.4 .18-7.1 .18-1.7 .18-5.2 .18 3.7 .18-3.8 .18 .7 .18-.8 .18 10.7 .18-7.2 .18-1.3 .18 .2 .18-1.9 .18-1.8 .18-10.0 .18 11.5 .18 .4 .18 .8 .18-9.6 .18 1.7 .18 4.3 .18-3.4 .18-1.8 .18 13.2 .18-13.8 .18 10.8 .18-10.2 .18 5.4 .18-4.3 .18 .9 .18 4.6 .18-3.2 .18 4.9 .18 4.6 .18-2.3 .18 .8 .18-4.3 .18 6.1 .18-3.4 .18 8.9 .18-20.9 .18 11.4 .18-4.1 .18-9.2 .18 1.9 .18 8.3 .18 2.5 .18 1.0 .18 0 .18-15.0 .18 10.9 .18 2.4 .18 3.2 .18-4.1 .18 5.0 .18-6.7 .18 2.1 .18-2.0 .18-3.3 .18-1.0 .18 2.8 .18 5.7 .18-8.7 .18 4.6 .18-8.0 .18 7.3 .18-4.0 .18-2.2 .18 3.0 .18-.8 .18-1.4 .18-1.3 .18 4.6 .18 1.4 .18 4.4 .18-10.6 .18 2.7 .18 5.3 .18-6.6 .18-5.9 .18 9.8 .18 8.8 .18-15.3 .18-6.2 .18 12.6 .18-5.0 .18-2.5 .18 3.4 .18 1.4 .18 7.2 .18-2.7 .18-9.8 .18 6.7 .18 4.2 .18 6.4 .18-11.7 .18-3.1 .18 5.4 .18-.8 .18-3.8 .18-2.5 .18-.2 .18 15.7 .18-.1 .18-15.1 .18 .3 .18-.1 .18-4.5 .18 8.9 .18-2.5 .18-15.4 .18 14.7 .18 5.6 .18-1.5 .18-16.3 .18 18.0 .18-4.5 .18-8.8 .18 10.1 .18-5.3 .18 .3 .18 2.1 .18-10.9 .18 8.4 .18-6.1 .18 12.9 .18-21.1 .18 12.0 .18-1.6 .18 4.2 .18 1.8 .18-4.2 .18-.9 .18 3.5 .18 12.1 .18-10.2 .18 4.1 .18-13.8 .18 15.5 .18-10.7 .18 5.7 .18-3.7 .18-10.0 .18 1.0 .18 8.3 .18 8.9 .18-15.3 .18 1.6 .18-2.7 .18 3.8 .18 8.4 .18-9.2 .18-10.3 .18 8.3 .18-3.2 .18 9.1 .18 1.4 .18-7.6 .18 1.6 .18 9.7 .18-2.7 .18-2.2 .18-12.3 .18 9.8 .18 .2 .18-5.2 .18-4.9 .18-5.0 .18 19.1 .18-15.3 .18 .3 .18 9.6 .18 1.5 .18-1.2 .18 2.8 .18-3.7 .18 6.1 .18-15.1 .18 6.0 .18 9.7 .18-15.5 .18 2.5 .18-1.8 .18 5.0 .18-.2 .18-6.0 .18 13.0 .18-16.2 .18 10.8 .18 .8 .18-2.9 .18-.8 .18-.7 .18 1.4 .18-5.1 .18 1.1 .18 8.1 .18-6.3 .18 10.4 .18-6.7 .18-4.6 .18 3.6 .18-8.3 .18 7.3 .18-6.5 .18 11.3 .18 5.0 .18-9.7 .18-11.0 .18 4.5 .18 4.2 .18 3.3 .18 1.3 .18 1.9 .18-2.4 .18 .9 .18-3.7 .18-9.6 .18 7.1 .18 1.1 .18-2.0 .18-9.0 .18 4.6 .18 11.6 .18-9.1 .18 8.2 .18-3.2 .18 .8 .18-12.0 .18 14.9 .18-8.9 .18 2.7 .18 .8 .18 5.2 .18 1.4 .18 4.6 .18-7.1 .18 .7 .18-10.0 .18 12.6 .18-.4 .18-13.8 .18 11.9 .18-4.8 .18-5.5 .18 6.4 .18-1.0 .18-1.9 .18-8.9 .18 2.8 .18-2.4 .18 4.8 .18 2.6 .18-6.9 .18 2.7 .18 11.4 .18-3.8 .18-1.7 .18-10.2 .18 6.1 .18-1.4 .18 3.3 .18-.7 .18 4.3 .18-.4 .18-7.3 .18 .8 .18 6.2 .18-9.5 .18 10.7 .18 6.1 .18-14.3 .18 8.9 .18-14.9 .18 14.4 .18-10.9 .18-3.1 .18-1.7 .18 2.8 .18 .4 .18 10.3 .18-3.5 .18-2.8 .18-5.0 .18-3.6 .18 10.2 .18 2.7 .18 1.4 .18-7.3 .18-10.1 .18 9.4 .18 7.3 .18-10.2 .18 6.4 .18 8.4 .18-7.6 .18 1.1 .18 0 .18-.6 .18-6.8 .18 15.4 .18-15.9 .18 9.6 .18-4.6 .18 7.0 .18-9.3 .18 4.8 .18-5.5 .18-1.0 .18-1.2 .18 3.9 .18-5.4 .18 1.7 .18-1.2 .18 7.0 .18 7.7 .18-20.2 .18 8.1 .18 1.8 .18 0 .18-12.7 .18 15.3 .18 1.2 .18-10.4 .18 1.5 .18 15.1 .18-.8 .18-5.5 .18-9.6 .18 .1 .18 6.2 .18-1.6 .18 4.2 .18-3.4 .18 3.0 .18-9.1 .18 7.3 .18 1.3 .18-8.2 .18 9.7 .18-5.8 .18-.3 .18 6.7 .18-5.8 .18-1.1 .18-1.8 .18 6.9 .18-16.3 .18 13.2 .18-1.3 .18-10.0 .18-.7 .18 7.7 .18 6.0 .18-10.5 .18 9.3 .18-5.8 .18 10.0 .18-6.4 .18 2.8 .18-8.7 .18 5.6 .18-4.9 .18 2.9 .18 4.8 .18 2.6 .18-15.0 .18 8.3 .18-.7 .18 4.6 .18 .3 .18-7.8 .18-.5 .18 2.8 .18 8.6 .18-7.0 .18 2.1 .18-7.3 .18 16.9 .18-19.1 .18 6.0 .18-2.9 .18-4.4 .18 8.9 .18 .3 .18-5.6 .18 5.0 .18-4.7 .18 8.3 .18-6.5 .18-9.3 .18 14.5 .18-11.0 .18 7.6 .18-6.5 .18-.2 .18 5.2 .18-9.7 .18 .4 .18-.3 .18 22.2 .18-29.1 .18 9.9 .18 3.5 .18-1.5 .18-6.5 .18 3.5 .18 2.3 .18 17.3 .18-13.8 .18 1.4 .18 1.2 .18 9.5 .18-14.1 .18 9.3 .18-2.3 .18-5.5 .18-7.9 .18 8.5 .18 2.9 .18-19.5 .18 17.7 .18-4.3 .18 1.0 .18 5.0 .18-9.9 .18 3.8 .18 15.7 .18-15.5 .18-7.7 .18 6.5 .18 .2 .18 6.2 .18-4.6 .18 4.2 .18-8.5 .18 16.4 .18-11.4 .18-7.8 .18 .7 .18 13.7 .18 .7 .18-8.3 .18-5.4 .18-.3 .18 4.9 .18 9.6 .18-14.9 .18 12.0 .18-2.7 .18-10.4 .18 7.0 .18 4.6 .18-4.4 .18-.8 .18-6.0 .18 14.2 .18 .2 .18 1.5 .18-11.2 .18 6.4 .18-4.9 .18-8.5 .18 6.0 .18-4.0 .18-2.1 .18 5.4 .18 5.3 .18 .6 .18-3.2 .18-1.5 .18-6.9 .18 14.4 .18-7.6 .18-10.5 .18 9.2 .18 2.1 .18-5.9 .18 8.8 .18-9.8 .18-1.3 .18-.4 .18 7.3 .18 .9 .18-2.0 .18-.5 .18-.1 .18-4.7 .18 3.2 .18 4.9 .18-3.4 .18-8.3 .18 16.4 .18-11.5 .18 7.0 .18-14.3 .18 7.4 .18-11.7 .18 31.8 .18-12.5 .18-8.7 .18 5.3 .18 .1 .18-7.2 .18 14.9 .18-8.1 .18 .4 .18-7.9 .18 .8 .18 3.6 .18-4.7 .18 3.0 .18 8.5 .18-2.3 .18-3.7 .18-4.2 .18 19.3 .18-27.6 .18 9.1 .18 3.9 .18 .7 .18-5.9 .18 6.0 .18 10.6 .18-13.4"/></g></g>
<rect x="299.0" y="13.9" width="232.20000000000005" height="186.9" fill="none" stroke="#5a5a5a" stroke-width="1.5"/>
<path d="M299.00 200.80V204.50M322.22 200.80V202.80M345.44 200.80V204.50M368.66 200.80V202.80M391.88 200.80V204.50M415.10 200.80V202.80M438.32 200.80V204.50M461.54 200.80V202.80M484.76 200.80V204.50M507.98 200.80V202.80M531.20 200.80V204.50" stroke="#404040" stroke-width="1.1" fill="none"/>
<text x="299.00" y="215.00" class="tk">500</text>
<text x="345.44" y="215.00" class="tk">1000</text>
<text x="391.88" y="215.00" class="tk">1500</text>
<text x="438.32" y="215.00" class="tk">2000</text>
<text x="484.76" y="215.00" class="tk">2500</text>
<text x="531.20" y="215.00" class="tk">3000</text>
<text x="408.00" y="231.20" class="xl">Raman Shift (cm<tspan dy="-4" font-size="7">-1</tspan><tspan dy="4">)</tspan></text>
<text transform="translate(287.50 106.30) rotate(-90)" class="yl">Intensity (a.u.)</text>
<text x="301.50" y="27.20" class="pl">(b) GBC</text>
<clipPath id="cpc"><rect x="26.8" y="239.6" width="233.7" height="187.70000000000002"/></clipPath>
<g class="cv"><g clip-path="url(#cpc)" fill="none" stroke-width="1.0" stroke-linejoin="bevel"><path stroke="#474747" d="M26.80 412.3l.18 .6 .18-1.9 .18 0 .18-2.4 .18 1.8 .18 5.6 .18 0 .18-1.3 .18-1.0 .18-2.3 .18 .8 .18-1.9 .18 3.3 .18-.8 .18 .3 .18-1.3 .18-.8 .18 3.9 .18 .7 .18-1.1 .18-2.6 .18 3.8 .18-1.7 .18 2.6 .18-5.2 .18 3.5 .18-1.3 .18-1.4 .18-3.8 .18 3.6 .18-.9 .18 4.4 .18-2.5 .18-4.6 .18 3.5 .18 2.1 .18-5.2 .18 2.5 .18 3.6 .18-6.9 .18 8.4 .18-1.4 .18-2.7 .18 .2 .18-.6 .18-1.4 .18 2.5 .18 2.0 .18-.2 .18-1.1 .18-4.8 .18 1.8 .18 5.4 .18-2.2 .18 .5 .18 3.5 .18-8.4 .18-4.0 .18 10.2 .18-5.7 .18-2.6 .18 2.1 .18 3.1 .18-5.0 .18 .6 .18 3.9 .18-1.7 .18 3.3 .18-3.4 .18 1.8 .18 3.0 .18-4.6 .18 2.3 .18 .8 .18 .8 .18-2.4 .18-1.7 .18 .9 .18 2.7 .18-3.6 .18 2.6 .18-.3 .18 1.4 .18 1.2 .18 .5 .18-4.9 .18 2.1 .18 1.3 .18-1.9 .18 1.4 .18-1.1 .18 6.0 .18-5.3 .18 3.9 .18-4.2 .18 2.6 .18-.3 .18 1.9 .18-6.1 .18 4.0 .18-5.4 .18 1.5 .18-.9 .18 3.5 .18 4.9 .18-8.7 .18 7.7 .18-3.3 .18-1.8 .18-.8 .18 9.9 .18-6.6 .18 1.6 .18-3.3 .18-4.7 .18 .1 .18 6.8 .18-3.9 .18 3.3 .18 .3 .18-2.4 .18-4.8 .18 9.8 .18-9.5 .18 4.2 .18 3.7 .18-8.6 .18 7.5 .18 2.3 .18 2.9 .18-6.7 .18 3.7 .18-5.1 .18 6.2 .18-3.4 .18-3.7 .18 2.5 .18 2.7 .18-1.7 .18 5.0 .18-5.4 .18-.8 .18 4.7 .18-3.7 .18-2.2 .18 7.2 .18-5.6 .18 3.6 .18-2.2 .18 2.9 .18-3.4 .18 .9 .18 0 .18-2.2 .18 7.0 .18-12.7 .18 7.1 .18 2.8 .18 3.2 .18-5.7 .18-3.8 .18 8.5 .18-3.5 .18-3.7 .18 3.1 .18 1.3 .18-3.0 .18-3.9 .18 3.7 .18 .5 .18 2.3 .18-4.8 .18-1.9 .18 3.4 .18-1.4 .18 5.6 .18 3.0 .18-9.2 .18-.5 .18-.1 .18 5.3 .18-3.5 .18 9.3 .18-6.9 .18 1.3 .18-2.4 .18 1.3 .18 4.6 .18-9.8 .18 5.3 .18 2.9 .18-3.3 .18-.4 .18 2.3 .18-1.7 .18 .4 .18-4.6 .18 .9 .18-2.2 .18 1.9 .18-2.6 .18 4.3 .18 1.0 .18-2.6 .18 5.0 .18-2.6 .18-.5 .18-1.5 .18 1.6 .18 1.0 .18 5.3 .18-6.7 .18-3.2 .18-1.4 .18 6.6 .18-2.0 .18 .2 .18-1.2 .18-.7 .18-3.2 .18 2.8 .18 6.0 .18-9.1 .18 4.9 .18-2.7 .18 .6 .18 2.7 .18-5.2 .18 2.8 .18 2.4 .18 2.0 .18 .1 .18-5.1 .18 3.8 .18-4.3 .18 1.5 .18 4.1 .18-3.4 .18-4.3 .18 1.3 .18-2.6 .18 4.7 .18 6.5 .18-5.6 .18-1.6 .18-.6 .18 5.2 .18-2.3 .18 5.2 .18-9.7 .18-3.7 .18 9.5 .18-3.7 .18-2.0 .18 4.1 .18-.4 .18-3.6 .18 .7 .18 4.0 .18 1.2 .18-7.2 .18 5.0 .18-5.7 .18 8.7 .18-2.7 .18-2.4 .18-1.3 .18-1.5 .18-1.3 .18 4.8 .18-1.7 .18 1.7 .18 2.7 .18-4.7 .18 1.2 .18-4.4 .18 8.9 .18-3.2 .18 .4 .18-.4 .18-6.5 .18 3.1 .18-6.7 .18 9.6 .18-3.5 .18 2.9 .18-.3 .18 5.3 .18-4.7 .18-2.0 .18 .3 .18 .5 .18 .9 .18 .3 .18 0 .18-4.0 .18 .9 .18-1.1 .18 10.0 .18-6.5 .18-3.2 .18-2.0 .18 3.6 .18 2.0 .18-4.2 .18 3.2 .18-2.8 .18-1.7 .18 4.7 .18-7.9 .18 12.9 .18-10.5 .18 4.3 .18 1.5 .18 .2 .18-1.0 .18-3.3 .18 7.3 .18-10.4 .18 8.4 .18-1.9 .18 3.9 .18-3.1 .18 2.3 .18-9.2 .18 2.7 .18 6.2 .18-6.6 .18 1.0 .18 6.7 .18-5.1 .18 .9 .18 .3 .18 3.6 .18-7.9 .18 5.8 .18-5.0 .18 .4 .18-1.3 .18-1.2 .18 8.3 .18 1.2 .18-3.8 .18-.3 .18-4.9 .18 7.0 .18-.9 .18 1.8 .18-8.9 .18 3.0 .18 1.9 .18-2.8 .18 2.8 .18-7.8 .18 3.6 .18 6.8 .18-1.0 .18-4.0 .18 5.4 .18-8.5 .18 5.4 .18 1.5 .18-5.2 .18 3.4 .18-2.4 .18-3.4 .18 3.4 .18 3.2 .18 2.7 .18 2.1 .18-2.8 .18-.2 .18 0 .18-6.8 .18 10.1 .18-8.1 .18 .4 .18 6.0 .18-1.1 .18-3.1 .18 5.3 .18-6.5 .18-3.6 .18 0 .18 8.6 .18-3.8 .18 2.2 .18-7.1 .18 .2 .18 6.1 .18-3.7 .18 .9 .18-2.3 .18 3.3 .18-1.2 .18 1.8 .18-3.9 .18 2.8 .18-.2 .18 5.3 .18-1.1 .18-5.8 .18 4.9 .18-8.1 .18-1.3 .18 3.9 .18 2.9 .18 4.9 .18-5.8 .18 4.5 .18-1.2 .18-5.6 .18 5.9 .18 1.6 .18-.5 .18-5.5 .18 1.8 .18-.2 .18-3.9 .18-2.4 .18 4.4 .18 4.1 .18-6.6 .18 7.0 .18-6.2 .18 6.1 .18-5.4 .18 4.2 .18-4.0 .18 3.3 .18-.5 .18-1.7 .18 0 .18 2.0 .18 1.5 .18-2.8 .18 2.5 .18-1.5 .18 1.3 .18-7.8 .18 4.3 .18 .7 .18-1.2 .18-.7 .18 .7 .18 2.3 .18 5.9 .18-6.5 .18 1.6 .18-2.0 .18-2.4 .18 6.2 .18 3.3 .18-2.8 .18-5.3 .18 .8 .18 8.1 .18-12.2 .18 9.1 .18-2.7 .18-3.4 .18-1.5 .18 8.1 .18-6.5 .18 3.4 .18-2.1 .18-1.2 .18 2.3 .18-2.1 .18 1.4 .18-1.9 .18 7.8 .18-1.6 .18-4.7 .18-5.4 .18 .6 .18 5.3 .18-.7 .18-5.7 .18 8.7 .18 6.8 .18-10.0 .18-3.1 .18 8.9 .18-1.6 .18-6.9 .18 .8 .18 3.0 .18-1.4 .18 3.4 .18-3.8 .18 3.0 .18 3.3 .18-2.7 .18 .8 .18-2.3 .18 4.7 .18-1.3 .18-8.2 .18 8.5 .18-6.9 .18 7.7 .18-7.6 .18 1.8 .18-.3 .18 .3 .18 9.4 .18-5.8 .18-3.1 .18 6.6 .18-3.6 .18-4.8 .18 5.2 .18 3.9 .18-10.3 .18-.6 .18 6.3 .18-3.6 .18 2.3 .18-4.2 .18 5.6 .18-6.8 .18 1.7 .18 1.3 .18 .4 .18-2.0 .18 1.4 .18-1.2 .18 3.7 .18-4.2 .18 3.2 .18 4.6 .18-2.7 .18 1.6 .18-6.5 .18-3.5 .18 4.1 .18-1.3 .18 1.4 .18 3.4 .18 2.2 .18-8.1 .18 2.4 .18 3.0 .18-3.2 .18-6.3 .18 5.7 .18 9.4 .18-9.5 .18 6.6 .18-4.3 .18 .1 .18-3.1 .18 10.3 .18-10.6 .18 1.7 .18 1.3 .18-3.7 .18 5.4 .18-.1 .18-2.5 .18-.9 .18 4.4 .18 3.5 .18-3.0 .18-4.3 .18-8.5 .18 9.5 .18-5.2 .18 11.4 .18-8.3 .18 3.6 .18-4.0 .18-1.0 .18 10.2 .18-4.2 .18-6.4 .18 3.1 .18-1.5 .18-2.8 .18 6.9 .18-.8 .18-5.9 .18 6.0 .18-4.4 .18 .6 .18 3.8 .18-1.5 .18 4.0 .18 .6 .18-5.9 .18-1.2 .18 2.4 .18-2.3 .18 5.5 .18 .1 .18-12.3 .18 8.5 .18-1.6 .18 5.2 .18 .6 .18 4.1 .18-3.7 .18-2.5 .18-2.9 .18-1.0 .18 5.4 .18-6.3 .18-.1 .18 4.2 .18-2.9 .18 2.7 .18-1.6 .18-3.6 .18 2.5 .18-2.8 .18 9.4 .18-9.8 .18 4.8 .18-5.6 .18 7.7 .18-1.9 .18-6.2 .18 3.3 .18 9.8 .18-6.0 .18-7.1 .18 9.3 .18-9.7 .18 1.9 .18 .9 .18-2.6 .18-2.4 .18 3.5 .18 3.5 .18 8.3 .18-8.2 .18 .1 .18 .5 .18 1.2 .18-11.3 .18 7.3 .18 5.8 .18-13.7 .18 7.9 .18 1.9 .18 3.0 .18 4.6 .18-14.8 .18 7.7 .18-2.0 .18-2.1 .18 6.2 .18-9.9 .18 7.2 .18 3.0 .18 4.8 .18-8.3 .18 1.6 .18-.5 .18 3.8 .18-10.8 .18 4.4 .18-3.3 .18 1.3 .18-.8 .18 5.3 .18-.3 .18-7.8 .18-.1 .18 4.0 .18 2.6 .18-4.9 .18 4.1 .18-1.6 .18 .7 .18 2.1 .18-4.7 .18 4.6 .18-3.6 .18-2.4 .18 .5 .18 3.5 .18-.4 .18-1.2 .18 4.0 .18-3.1 .18-7.0 .18 4.2 .18 2.7 .18 1.9 .18-5.2 .18 .5 .18 8.5 .18-3.8 .18-10.8 .18 7.5 .18-.4 .18 1.5 .18 4.0 .18-1.2 .18 3.7 .18-6.3 .18 1.5 .18 0 .18 2.0 .18-3.3 .18-2.2 .18-.7 .18 10.1 .18-11.8 .18-1.5 .18 11.6 .18-3.5 .18-.1 .18 1.6 .18-6.1 .18-6.5 .18 10.2 .18-2.5 .18 1.8 .18 1.0 .18-2.6 .18 3.2 .18-8.6 .18 6.7 .18 2.0 .18-2.2 .18-1.6 .18 2.5 .18-3.0 .18 1.2 .18-1.1 .18 8.6 .18-12.7 .18 3.6 .18-.4 .18 3.1 .18-7.2 .18 3.7 .18 9.8 .18-8.3 .18-5.5 .18 1.9 .18 9.1 .18-1.8 .18-3.1 .18 5.8 .18-2.5 .18-9.1 .18-4.4 .18 11.3 .18-.1 .18-7.4 .18 11.0 .18 1.3 .18-12.0 .18 3.9 .18 1.4 .18 4.5 .18-3.8 .18-2.7 .18 2.2 .18 2.1 .18-2.8 .18 .6 .18-3.2 .18-1.5 .18 3.4 .18 3.4 .18-2.2 .18 1.8 .18 2.6 .18-4.4 .18 2.3 .18-1.7 .18-3.8 .18 8.2 .18-1.3 .18-9.0 .18 4.2 .18 1.5 .18-6.2 .18 2.3 .18 3.4 .18-1.2 .18-4.7 .18 3.4 .18-1.6 .18 4.5 .18-.7 .18-1.4 .18-.3 .18 6.5 .18-8.7 .18 .9 .18-.7 .18 .8 .18-.8 .18 4.7 .18-2.5 .18-6.2 .18 5.2 .18-1.0 .18 1.8 .18-1.2 .18 1.3 .18-3.7 .18 4.5 .18 4.4 .18 3.3 .18-8.8 .18-1.2 .18-1.3 .18 2.9 .18-6.4 .18 1.0 .18 11.6 .18 2.5 .18-9.0 .18-1.1 .18 .3 .18 6.9 .18-11.8 .18 2.2 .18 7.4 .18 1.5 .18-1.2 .18-5.6 .18-.6 .18-.6 .18-.4 .18 1.8 .18-5.3 .18 11.8 .18-10.8 .18 5.8 .18-4.9 .18 3.3 .18 3.3 .18-3.4 .18-6.7 .18 3.1 .18-5.8 .18 17.1 .18-6.0 .18 .7 .18-10.0 .18 15.1 .18-12.3 .18-2.9 .18 10.6 .18-6.0 .18 2.6 .18-.8 .18-2.1 .18-3.2 .18 4.0 .18 4.0 .18-5.0 .18 5.6 .18-4.5 .18 2.9 .18-3.6 .18 6.5 .18-2.5 .18 .5 .18-2.2 .18-2.1 .18 3.6 .18-7.7 .18-5.6 .18 12.1 .18-3.3 .18-1.1 .18-1.6 .18 6.2 .18-3.2 .18-4.2 .18 12.0 .18-3.2 .18-13.4 .18 3.9 .18 5.3 .18 .8 .18-4.9 .18 11.6 .18-3.4 .18-3.9 .18 .4 .18-2.0 .18-1.4 .18 2.6 .18-6.1 .18 8.5 .18-1.3 .18-.4 .18-.2 .18-4.9 .18 1.5 .18-2.4 .18 3.2 .18-3.1 .18 1.5 .18-1.0 .18-7.1 .18 5.2 .18 1.4 .18 4.4 .18-3.3 .18 2.6 .18-3.1 .18 1.6 .18 .7 .18-3.9 .18-1.7 .18 3.5 .18 .1 .18 3.7 .18-1.0 .18-7.7 .18 2.9 .18 5.1 .18-4.0 .18-.6 .18 3.9 .18-3.2 .18 2.1 .18-6.0 .18 1.0 .18-2.6 .18 5.0 .18 1.4 .18-.9 .18-1.1 .18-.1 .18-3.5 .18 6.0 .18 1.5 .18-10.1 .18 8.0 .18-6.7 .18 5.9 .18-2.3 .18-5.1 .18 16.8 .18-6.1 .18-3.4 .18 6.1 .18-7.4 .18 6.0 .18-7.8 .18-2.2 .18 .6 .18 2.9 .18-2.7 .18-1.4 .18 14.4 .18-10.9 .18 7.0 .18-5.9 .18 4.8 .18-1.5 .18-7.1 .18 0 .18 5.9 .18-1.7 .18 3.0 .18 5.9 .18-8.8 .18-2.9 .18 .8 .18 7.5 .18-6.6 .18-2.9 .18 1.8 .18 1.7 .18-.6 .18 1.3 .18 2.7 .18-9.8 .18 8.5 .18-2.1 .18-3.1 .18 6.8 .18 2.3 .18-4.5 .18-8.2 .18 8.9 .18-1.8 .18-.7 .18-2.9 .18 10.2 .18-9.3 .18 8.6 .18-.6 .18-14.5 .18 10.8 .18-4.9 .18 .9 .18-1.9 .18 .5 .18 6.6 .18-9.3 .18 5.0 .18 8.1 .18-4.7 .18-7.5 .18 1.9 .18 3.5 .18 2.6 .18-2.0 .18-4.2 .18 .8 .18-2.3 .18 2.1 .18 .8 .18-5.8 .18 4.0 .18 9.7 .18-3.9 .18-3.0 .18 3.9 .18-6.1 .18-6.6 .18 7.5 .18-.4 .18-8.6 .18 8.8 .18 .7 .18 8.7 .18-9.2 .18 5.2 .18 1.0 .18-2.5 .18-5.7 .18 4.4 .18-1.3 .18-7.8 .18 5.5 .18-7.2 .18 8.3 .18-3.0 .18-1.1 .18 .7 .18 1.4 .18 1.6 .18-6.8 .18 4.3 .18 4.8 .18 .5 .18 1.5 .18 1.9 .18-13.4 .18 8.1 .18-4.4 .18-2.2 .18 2.1 .18 .9 .18-8.1 .18 6.7 .18 4.9 .18-10.3 .18-1.1 .18 14.6 .18-10.1 .18 2.5 .18 2.3 .18-5.4 .18 3.5 .18-1.5 .18-1.8 .18 1.1 .18-.1 .18 3.9 .18-2.4 .18-.4 .18 6.1 .18-.1 .18-4.9 .18-4.1 .18 8.6 .18-3.8 .18-1.1 .18-5.2 .18 4.6 .18 3.2 .18 0 .18-6.2 .18 4.9 .18 4.2 .18-10.7 .18 6.1 .18 .5 .18-1.4 .18-5.0 .18-2.8 .18 1.5 .18 .1 .18 3.6 .18-6.0 .18 .9 .18 7.0 .18 9.3 .18-13.6 .18 3.6 .18 1.3 .18-4.1 .18-1.8 .18 2.2 .18-1.4 .18-3.2 .18 12.1 .18-2.0 .18-.8 .18-2.2 .18-1.4 .18-2.3 .18 5.2 .18-5.2 .18 .1 .18-7.7 .18 8.8 .18-2.1 .18-2.2 .18 4.7 .18-8.5 .18 9.0 .18 3.0 .18 6.7 .18-13.0 .18 2.2 .18-1.3 .18 1.4 .18-5.8 .18 5.6 .18 1.7 .18-.9 .18-4.5 .18 5.8 .18-3.8 .18 .8 .18-.1 .18 7.7 .18-6.5 .18-7.9 .18 10.7 .18-5.5 .18 3.2 .18-4.8 .18-.2 .18 3.6 .18-1.0 .18-3.2 .18 3.9 .18 .1 .18 1.7 .18 9.3 .18-9.8 .18 3.7 .18-11.8 .18 7.6 .18 1.4 .18-8.6 .18 3.2 .18 .4 .18-2.8 .18 9.6 .18 .5 .18-3.0 .18-10.7 .18 4.7 .18 7.6 .18-2.6 .18-12.3 .18 16.8 .18-4.5 .18-4.5 .18 1.1 .18-2.0 .18 3.3 .18 1.7 .18 2.1 .18-1.9 .18 2.9 .18-8.0 .18 12.7 .18-6.9 .18 2.4 .18-5.9 .18 4.3 .18-8.1 .18 6.2 .18-8.5 .18 12.6 .18 2.0 .18-11.9 .18 9.0 .18-6.2 .18-3.1 .18 9.5 .18-9.2 .18-3.2 .18 12.1 .18-1.7 .18-9.8 .18 3.6 .18 .3 .18-.2 .18 2.2 .18-.9 .18-.6 .18-2.7 .18 2.6 .18 4.1 .18-4.2 .18 2.6 .18-8.4 .18 9.4 .18-8.6 .18 8.6 .18 2.5 .18-8.0 .18-2.2 .18 7.8 .18-7.5 .18 2.3 .18 3.6 .18-3.9 .18 4.7 .18-4.1 .18 5.3 .18-1.9 .18-2.0 .18-.2 .18 4.5 .18-4.7 .18-10.9 .18 15.2 .18-6.9 .18-2.6 .18 1.6 .18 7.7 .18 .2 .18-2.3 .18 1.2 .18-7.0 .18 5.4 .18-.7 .18-1.3 .18 2.7 .18-1.8 .18-5.8 .18-3.4 .18 4.4 .18 6.1 .18 .3 .18-.6 .18-4.7 .18 .9 .18-4.2 .18 4.5 .18-2.2 .18 5.7 .18-5.5 .18 2.6 .18-1.6 .18 1.6 .18-2.6 .18-4.2 .18 10.2 .18-1.9 .18 2.7 .18-1.7 .18 1.9 .18-.8 .18-3.6 .18 6.2 .18-6.7 .18-6.3 .18 1.1 .18 6.2 .18 1.8 .18-5.5 .18-2.2 .18 3.5 .18 4.0 .18-4.9 .18-2.0 .18 6.1 .18 .1 .18 2.2 .18-8.9 .18 9.1 .18-.1 .18-.6 .18-4.1 .18 .7"/><path stroke="#f5323c" d="M26.80 397.7l.18-2.9 .18 5.5 .18-.1 .18-2.4 .18 1.2 .18 6.1 .18-6.0 .18-2.6 .18 3.8 .18-7.3 .18 6.9 .18-5.7 .18 .9 .18-.3 .18 3.7 .18 1.3 .18-2.7 .18 3.1 .18 .2 .18-3.0 .18 5.0 .18-.1 .18-3.2 .18 2.1 .18-.7 .18-7.3 .18 5.5 .18-6.4 .18 7.0 .18 .2 .18-2.5 .18 4.2 .18-7.0 .18 7.5 .18-5.2 .18 0 .18 2.0 .18 2.4 .18-1.8 .18-1.7 .18 6.2 .18-9.2 .18 7.2 .18-3.3 .18-4.7 .18 2.1 .18-.4 .18-5.5 .18 4.4 .18 3.0 .18 2.1 .18 2.1 .18-9.4 .18 2.5 .18-1.4 .18 1.7 .18 4.3 .18-3.2 .18-1.2 .18 2.3 .18-1.4 .18 3.3 .18 5.4 .18-6.0 .18-.4 .18 1.6 .18-3.7 .18 3.2 .18-2.9 .18 4.1 .18-.2 .18-5.3 .18 5.7 .18-1.8 .18 .4 .18-2.7 .18 1.2 .18 1.7 .18-2.5 .18-.2 .18 3.2 .18-4.3 .18 2.3 .18 1.4 .18-4.7 .18 3.5 .18-6.2 .18 8.9 .18-6.5 .18 1.0 .18-1.2 .18 2.8 .18-2.5 .18 6.0 .18-3.4 .18 0 .18 5.8 .18-10.1 .18 7.0 .18 1.6 .18 .9 .18-1.9 .18-3.2 .18 6.6 .18-5.9 .18 5.3 .18-3.2 .18 2.7 .18-5.8 .18 .4 .18-6.0 .18 9.3 .18 3.2 .18-5.8 .18 5.4 .18-.7 .18-1.5 .18-2.0 .18 2.3 .18-.1 .18-.1 .18-3.5 .18 3.6 .18-1.3 .18-2.5 .18 1.7 .18-2.3 .18 1.7 .18 4.7 .18-3.2 .18 3.9 .18-10.0 .18 3.2 .18 3.7 .18-4.6 .18 .8 .18 5.5 .18 2.8 .18-2.6 .18 7.0 .18-14.3 .18 2.4 .18 11.2 .18-7.4 .18-.4 .18 3.0 .18-3.6 .18-.9 .18 1.0 .18 1.8 .18-1.5 .18-1.2 .18 2.5 .18 6.0 .18-5.5 .18-3.2 .18 6.5 .18-8.7 .18 4.7 .18 .3 .18 3.7 .18-1.3 .18-3.7 .18 1.6 .18 2.9 .18 .1 .18-3.1 .18-1.7 .18-1.6 .18-3.3 .18 0 .18-.3 .18 7.1 .18 1.4 .18-4.1 .18 3.6 .18-2.8 .18 6.8 .18-5.9 .18-1.1 .18-.3 .18 3.1 .18-4.0 .18 1.4 .18 1.1 .18-1.6 .18 3.1 .18 5.7 .18-8.2 .18-7.0 .18 12.8 .18-6.3 .18-1.0 .18-.4 .18 .1 .18-3.8 .18 11.5 .18-.7 .18-11.4 .18 3.6 .18-.8 .18 1.5 .18-.4 .18 1.7 .18 2.6 .18-2.2 .18 3.2 .18-6.2 .18-4.1 .18 8.2 .18-1.9 .18 1.6 .18-4.8 .18 1.0 .18 4.9 .18-6.3 .18 3.0 .18 8.1 .18-9.7 .18-1.4 .18-.7 .18 2.3 .18 1.8 .18-1.6 .18-1.4 .18 4.2 .18-2.5 .18-2.6 .18 5.9 .18-7.3 .18 1.7 .18 1.5 .18 6.7 .18-2.8 .18-.6 .18 0 .18-1.1 .18 1.7 .18-5.2 .18-4.2 .18 1.8 .18 3.3 .18-.1 .18 3.4 .18-4.4 .18-6.9 .18 14.0 .18-6.6 .18-5.6 .18 12.9 .18 2.1 .18-6.2 .18-8.2 .18 4.3 .18 .1 .18 .8 .18-6.3 .18 9.9 .18-2.6 .18-2.3 .18 .2 .18-2.6 .18 .5 .18 2.7 .18 1.9 .18 1.8 .18-4.8 .18 5.5 .18-10.8 .18-1.8 .18 5.6 .18 2.4 .18-3.3 .18 4.6 .18 .8 .18 1.2 .18-3.9 .18 4.1 .18-1.7 .18-2.4 .18 .6 .18-5.5 .18 10.5 .18-3.1 .18-5.1 .18 7.4 .18-5.9 .18 5.9 .18-3.3 .18-2.6 .18-2.5 .18 6.1 .18 .9 .18-4.9 .18 2.9 .18 4.5 .18-10.9 .18 8.1 .18-.1 .18-.5 .18 1.2 .18-4.5 .18 3.4 .18 5.5 .18-13.9 .18 12.1 .18-5.5 .18-2.9 .18 .6 .18 3.4 .18 4.2 .18-5.1 .18 .4 .18-3.7 .18-2.3 .18 7.3 .18-4.3 .18-7.7 .18 9.4 .18-2.7 .18-1.1 .18-.2 .18 6.8 .18 3.1 .18-5.0 .18-4.0 .18-2.4 .18 9.2 .18-4.0 .18 4.3 .18-2.0 .18-.8 .18 4.8 .18-7.6 .18 3.4 .18-2.7 .18 1.5 .18-5.7 .18 2.2 .18-5.5 .18 7.7 .18 .3 .18-3.8 .18 7.8 .18-3.6 .18-1.0 .18-4.8 .18 3.7 .18 3.7 .18-6.6 .18 0 .18 2.1 .18-8.2 .18 10.9 .18-1.4 .18-4.8 .18 6.5 .18-2.1 .18 1.4 .18-6.1 .18 2.7 .18 1.2 .18 1.6 .18-1.1 .18-5.3 .18 9.6 .18-6.1 .18 .7 .18 5.4 .18-5.2 .18-1.8 .18 4.2 .18-1.5 .18-5.6 .18 4.6 .18 5.2 .18 4.0 .18-11.9 .18 8.0 .18-2.0 .18-1.4 .18 2.5 .18 2.6 .18-7.6 .18-1.7 .18 4.7 .18 1.9 .18-4.7 .18 1.9 .18 2.4 .18-5.1 .18 .1 .18-8.3 .18 5.6 .18 4.5 .18-3.2 .18-1.0 .18 9.0 .18-2.3 .18-.1 .18 .7 .18-6.7 .18 6.3 .18-7.7 .18 8.0 .18-5.2 .18-3.1 .18-4.2 .18 13.1 .18-10.2 .18 9.0 .18-7.1 .18 4.3 .18 3.4 .18-4.1 .18-4.1 .18 2.4 .18 .6 .18-3.4 .18 2.9 .18-2.9 .18 3.0 .18 3.0 .18 2.0 .18-7.3 .18 2.6 .18 3.6 .18 1.5 .18-2.5 .18 3.3 .18-2.5 .18-7.7 .18 2.0 .18-3.4 .18 4.8 .18 1.7 .18-4.2 .18 4.0 .18-.2 .18-2.9 .18 11.3 .18-10.4 .18 7.5 .18-9.7 .18-.1 .18-2.7 .18 4.8 .18 1.3 .18-5.0 .18 .9 .18 12.1 .18-6.7 .18-1.0 .18-4.9 .18 7.3 .18-6.7 .18 .9 .18 11.9 .18-14.0 .18 2.6 .18 7.0 .18-5.0 .18 3.5 .18-7.5 .18 8.6 .18-2.8 .18-.8 .18-4.1 .18-4.1 .18 8.0 .18-3.3 .18-.4 .18 2.2 .18-2.4 .18 9.8 .18-6.9 .18-1.3 .18-6.3 .18 10.9 .18-6.8 .18 2.6 .18 0 .18 4.1 .18-3.9 .18-2.8 .18 4.9 .18-1.1 .18-.1 .18 2.0 .18-8.0 .18 4.2 .18-.7 .18 2.1 .18-.9 .18-2.9 .18 1.8 .18 .3 .18 4.3 .18-1.1 .18-2.1 .18 2.5 .18 .7 .18 .2 .18-2.3 .18-1.6 .18-4.4 .18 4.5 .18 5.5 .18-3.1 .18-2.2 .18-3.0 .18 3.3 .18-3.7 .18 4.7 .18-1.9 .18 8.4 .18-11.6 .18 .4 .18 7.8 .18-3.9 .18 2.8 .18-3.8 .18 .6 .18-2.6 .18-7.8 .18 9.8 .18-1.9 .18 5.6 .18-1.7 .18 1.1 .18 3.3 .18 2.3 .18-8.1 .18-.8 .18 .2 .18-1.6 .18-6.8 .18 6.3 .18 1.0 .18-.8 .18 5.9 .18-2.9 .18 .5 .18 1.3 .18-3.4 .18-1.0 .18-1.9 .18-1.0 .18 3.6 .18-6.1 .18 3.6 .18 4.2 .18 2.3 .18-11.9 .18 9.4 .18 1.6 .18-3.6 .18-1.1 .18 6.7 .18-9.0 .18 2.7 .18-2.6 .18 5.7 .18-1.5 .18-7.3 .18 3.3 .18-1.6 .18 9.1 .18-2.4 .18-4.1 .18 .3 .18-3.6 .18 3.1 .18 6.1 .18-9.1 .18 3.5 .18-2.3 .18 2.5 .18 6.6 .18-4.7 .18 4.0 .18-5.9 .18 8.5 .18-3.5 .18-1.0 .18 .5 .18-2.2 .18-.4 .18-6.6 .18 4.7 .18-.7 .18 7.5 .18-5.1 .18-3.6 .18 1.0 .18 7.2 .18-2.5 .18-3.0 .18 .1 .18 1.0 .18-.7 .18 1.4 .18-4.9 .18 4.2 .18-7.2 .18 4.4 .18 3.2 .18-3.7 .18 3.2 .18 .8 .18 5.5 .18-6.9 .18-2.9 .18 1.6 .18-.3 .18 4.7 .18 0 .18-8.1 .18-1.4 .18-.3 .18 13.3 .18-5.5 .18-3.3 .18 3.5 .18-2.4 .18-4.0 .18-4.2 .18 5.1 .18 6.4 .18-.5 .18-3.3 .18-3.3 .18 12.2 .18-8.0 .18 .7 .18-1.7 .18 5.5 .18 2.2 .18-9.7 .18 8.3 .18-5.3 .18-1.5 .18-1.5 .18 5.9 .18-3.4 .18-2.0 .18-3.7 .18 8.9 .18-5.2 .18 .5 .18 3.6 .18-2.8 .18 5.6 .18-2.5 .18-3.7 .18 1.3 .18 2.9 .18-1.2 .18-1.1 .18 .2 .18 3.8 .18-2.2 .18-.2 .18 .1 .18-4.1 .18-3.3 .18-.4 .18-3.9 .18 6.6 .18-4.6 .18 10.0 .18-5.1 .18-1.1 .18 .3 .18-.5 .18 1.9 .18-2.4 .18 2.7 .18-.6 .18 .5 .18-7.3 .18 4.1 .18 6.4 .18 1.9 .18-4.0 .18-5.2 .18 1.1 .18 11.0 .18-15.8 .18 8.1 .18 3.9 .18-11.0 .18 2.6 .18 4.4 .18-7.2 .18 2.7 .18 4.0 .18-4.4 .18 6.7 .18-5.2 .18-.3 .18-4.8 .18 6.6 .18 3.1 .18 6.6 .18-14.8 .18 5.3 .18-3.6 .18-.6 .18-1.8 .18 3.4 .18 4.2 .18 2.5 .18-5.0 .18 1.3 .18-2.2 .18 3.8 .18-6.6 .18 7.5 .18-7.7 .18 .5 .18 2.2 .18 5.6 .18-1.9 .18-7.4 .18-1.2 .18 .3 .18 5.4 .18-3.8 .18 7.8 .18-2.0 .18-3.7 .18 2.0 .18 3.4 .18 5.2 .18-15.9 .18 3.1 .18 .8 .18 11.7 .18-12.4 .18 .1 .18-.3 .18 .3 .18 9.5 .18-2.8 .18-11.4 .18 5.1 .18-9.2 .18 11.0 .18-2.4 .18-5.1 .18 2.7 .18 12.4 .18-2.3 .18-3.0 .18-2.5 .18 4.6 .18-6.7 .18 1.9 .18 2.7 .18-1.0 .18-3.1 .18-2.9 .18-3.9 .18 .1 .18 7.6 .18 9.0 .18-7.2 .18 6.8 .18-13.8 .18 3.8 .18-.1 .18 7.2 .18-8.8 .18 2.7 .18-5.9 .18 6.9 .18-4.9 .18 2.5 .18 2.0 .18 2.8 .18-6.3 .18 5.1 .18-8.2 .18 3.9 .18-4.3 .18 11.4 .18-9.1 .18-2.2 .18 5.0 .18 6.6 .18-9.1 .18 5.1 .18 .7 .18-8.5 .18-1.3 .18 2.2 .18 .6 .18-3.3 .18 4.0 .18-3.4 .18 1.2 .18 8.6 .18-4.6 .18 2.9 .18-9.6 .18-1.6 .18 6.3 .18-.8 .18-3.4 .18 5.3 .18-3.3 .18 1.8 .18 9.3 .18-10.0 .18 2.1 .18-8.8 .18 10.5 .18-7.1 .18 2.7 .18-2.5 .18-1.8 .18 .3 .18 9.0 .18 1.5 .18 .8 .18-10.4 .18-1.1 .18 6.1 .18-4.1 .18 6.4 .18-2.4 .18-.2 .18-4.1 .18 1.0 .18 5.8 .18-8.3 .18 2.8 .18-2.3 .18-1.5 .18 10.8 .18-9.7 .18 12.1 .18-6.5 .18 .3 .18-2.5 .18 4.1 .18-1.9 .18-3.4 .18-5.0 .18 10.7 .18-1.1 .18-.7 .18-1.3 .18 2.9 .18-6.7 .18 1.2 .18-5.3 .18 7.8 .18-2.9 .18-3.7 .18 10.7 .18-15.9 .18 4.8 .18-1.5 .18 7.2 .18-6.4 .18 0 .18 1.0 .18 6.6 .18 .3 .18-3.8 .18 1.7 .18 2.2 .18-1.5 .18 .3 .18 1.7 .18-2.4 .18-3.4 .18-4.2 .18 3.0 .18 6.3 .18-10.7 .18 9.5 .18-1.6 .18-5.3 .18 3.2 .18-1.6 .18-6.0 .18 10.8 .18-8.1 .18 6.6 .18 0 .18-2.6 .18-2.5 .18-1.4 .18-6.3 .18 7.8 .18 4.0 .18-1.5 .18-8.1 .18 7.4 .18 1.9 .18-1.3 .18-3.9 .18 1.1 .18 9.4 .18-4.6 .18-.1 .18 5.7 .18-12.9 .18 6.8 .18-.6 .18 .6 .18-9.4 .18 2.8 .18 2.8 .18 3.4 .18 1.4 .18 1.7 .18-4.5 .18 5.3 .18-7.4 .18 2.1 .18-.2 .18-8.1 .18 3.4 .18 4.4 .18-5.9 .18 2.6 .18 2.2 .18-1.2 .18 2.9 .18 .9 .18-1.6 .18-2.4 .18-8.6 .18 15.3 .18-9.7 .18 .6 .18 5.5 .18-1.4 .18-9.8 .18 5.7 .18 7.9 .18-.7 .18 3.5 .18-5.2 .18-8.0 .18-2.3 .18 2.5 .18 5.7 .18-3.3 .18-1.0 .18 .3 .18 7.5 .18-6.5 .18 11.1 .18-11.6 .18 2.1 .18-8.0 .18 .8 .18 12.5 .18-12.7 .18 5.7 .18 .6 .18 3.6 .18 1.1 .18-6.8 .18-5.7 .18 4.7 .18 8.7 .18-7.7 .18-3.5 .18 .1 .18 7.9 .18-.5 .18-4.5 .18 11.4 .18-6.4 .18-4.9 .18 4.9 .18-6.7 .18 3.4 .18-6.3 .18 9.8 .18-3.1 .18-1.6 .18-6.8 .18 8.3 .18-2.3 .18-1.3 .18-1.2 .18-4.7 .18 7.9 .18-8.3 .18 5.9 .18 .1 .18-3.8 .18 13.4 .18-18.5 .18 12.1 .18-4.4 .18-4.8 .18 4.8 .18-6.5 .18 11.1 .18-.9 .18-9.6 .18 5.4 .18-4.6 .18 16.3 .18-3.9 .18-4.4 .18-2.4 .18-6.0 .18 .4 .18-2.1 .18 4.0 .18 1.0 .18 5.0 .18-2.0 .18 6.6 .18-7.3 .18 1.1 .18 0 .18-1.4 .18-1.5 .18 4.9 .18 6.3 .18-13.6 .18 .3 .18 10.9 .18-5.9 .18-2.0 .18-2.0 .18-10.9 .18-.1 .18 9.9 .18 1.4 .18-4.0 .18-.5 .18-2.2 .18-.8 .18 8.4 .18 3.0 .18-8.6 .18 4.8 .18-6.9 .18 9.6 .18-8.0 .18 8.1 .18-1.2 .18-4.2 .18 3.7 .18-1.9 .18-.8 .18-5.3 .18 7.3 .18-3.0 .18 2.6 .18 1.9 .18-11.1 .18 6.6 .18-3.0 .18 4.5 .18-5.1 .18-2.3 .18 2.6 .18 6.8 .18-5.3 .18-3.3 .18-6.0 .18 8.7 .18 .8 .18 2.6 .18 4.2 .18-4.4 .18-3.7 .18-.2 .18-7.2 .18 5.0 .18 5.7 .18 5.2 .18-5.6 .18-6.4 .18 3.8 .18-6.1 .18 3.6 .18 .9 .18-1.9 .18 4.6 .18-8.7 .18 4.9 .18 3.3 .18-8.1 .18 17.2 .18-13.5 .18 .9 .18-.8 .18-4.1 .18 7.9 .18-6.9 .18 8.8 .18-5.0 .18-4.8 .18 10.0 .18 4.5 .18-9.6 .18-2.7 .18 7.1 .18-13.7 .18 4.6 .18 3.0 .18 9.6 .18-9.1 .18 8.8 .18-7.7 .18-5.5 .18-2.6 .18 8.2 .18 6.8 .18-10.8 .18 3.1 .18 2.8 .18 .5 .18-1.1 .18-3.4 .18 1.1 .18 9.2 .18-15.8 .18 3.2 .18-1.1 .18-8.4 .18 13.2 .18-3.2 .18-5.6 .18 10.8 .18-4.2 .18-1.7 .18 6.8 .18-3.3 .18 7.0 .18-8.1 .18 .7 .18 3.9 .18-9.7 .18 3.7 .18-5.5 .18 13.3 .18-6.3 .18-11.3 .18 9.3 .18 3.1 .18 1.8 .18-8.0 .18 9.7 .18-9.7 .18 7.6 .18-7.9 .18 2.0 .18 7.8 .18-7.2 .18-8.4 .18 4.5 .18 1.8 .18 3.9 .18 .9 .18 8.6 .18-22.5 .18 19.4 .18-11.8 .18 6.3 .18-2.4 .18-2.2 .18-5.3 .18 11.8 .18-9.1 .18-1.5 .18 3.2 .18-5.1 .18 7.0 .18 4.1 .18-8.6 .18 .8 .18 8.3 .18-9.3 .18 5.3 .18 7.9 .18-10.0 .18-2.8 .18 12.8 .18-6.3 .18-8.8 .18 2.9 .18 5.1 .18-6.2 .18-.4 .18 15.2 .18-6.9 .18-9.6 .18-.5 .18 2.1 .18 3.1 .18 .5 .18-4.0 .18-4.5 .18 4.6 .18 5.0 .18-2.4 .18-9.9 .18 4.1 .18 10.0 .18-1.5 .18-2.0 .18 5.7 .18-4.7 .18 .9 .18-1.2 .18-1.2 .18-3.5 .18 3.1 .18-.1 .18-4.1 .18-1.1 .18 1.5 .18 5.9 .18 2.3 .18-4.3 .18-.2 .18 1.9 .18-.7 .18-3.4 .18-2.4 .18 7.0 .18 .3 .18-5.8 .18 4.9 .18-4.2 .18 5.4 .18-4.1 .18 1.8 .18 3.4 .18-6.5 .18 1.8 .18-1.3 .18 4.1 .18-6.0 .18 .2 .18-7.1 .18 11.1 .18 2.8 .18-7.2 .18 8.9 .18-.4 .18-9.0 .18-5.2 .18 9.7 .18-7.9 .18 1.4 .18 8.5 .18-5.4 .18-7.5 .18 5.6 .18 13.9 .18-15.6 .18 1.8 .18 .5 .18 5.1 .18-6.1 .18-4.9 .18 6.9 .18-1.7 .18-6.7 .18 1.8 .18 3.5 .18 1.9 .18-2.9 .18 11.2 .18-1.5 .18-3.1 .18 8.8 .18-11.5 .18-1.5 .18 9.3 .18-11.9 .18-6.2 .18 7.0 .18-1.1 .18 6.6 .18-2.5 .18 .7 .18-.2 .18 4.5 .18-10.3 .18 3.6 .18-1.5 .18-1.9"/><path stroke="#1c6cf0" d="M26.80 370.0l.18 6.4 .18-.4 .18-7.6 .18 8.3 .18-3.9 .18-3.0 .18 2.1 .18 2.4 .18 .2 .18 5.8 .18-6.6 .18-1.9 .18 5.3 .18-2.3 .18-1.8 .18-.2 .18-4.4 .18 5.3 .18-4.8 .18 4.2 .18 0 .18-2.6 .18 1.8 .18-4.9 .18 3.8 .18-1.3 .18-1.5 .18 3.7 .18 4.0 .18-3.7 .18-1.3 .18-.9 .18-2.1 .18 5.6 .18-3.1 .18 0 .18 .3 .18-.5 .18-.7 .18 1.3 .18 .7 .18 .9 .18 4.0 .18-6.6 .18 6.3 .18-5.7 .18-6.5 .18 12.7 .18-3.4 .18-2.4 .18-.9 .18 .9 .18-4.0 .18 8.8 .18-6.2 .18 5.5 .18 5.0 .18-7.2 .18-2.4 .18-3.6 .18 4.9 .18-1.5 .18 3.4 .18-2.3 .18 7.3 .18-14.2 .18 4.8 .18 0 .18-1.9 .18 .5 .18 1.8 .18 5.3 .18 2.3 .18-13.5 .18 6.3 .18 4.6 .18-.6 .18-.2 .18 1.3 .18-4.5 .18 2.1 .18 5.1 .18-1.3 .18-6.6 .18 6.5 .18-1.5 .18-1.1 .18-3.7 .18 .2 .18-.5 .18-2.6 .18 9.7 .18-4.1 .18-1.4 .18-3.8 .18 .7 .18 7.2 .18-5.6 .18 3.2 .18-5.8 .18 6.7 .18 .7 .18-3.7 .18-2.2 .18 7.7 .18-1.2 .18-.6 .18-2.2 .18 .1 .18 2.5 .18-5.9 .18 2.6 .18-2.9 .18 2.4 .18-1.1 .18 4.1 .18 1.5 .18-6.4 .18 11.8 .18-7.8 .18 1.5 .18-5.0 .18 3.9 .18-2.5 .18 10.1 .18-10.5 .18 3.6 .18 2.8 .18-2.6 .18 1.8 .18-4.4 .18-2.0 .18 2.8 .18-3.4 .18 3.8 .18 1.9 .18 2.4 .18-4.1 .18-1.6 .18-4.9 .18 7.6 .18-3.3 .18 0 .18 4.9 .18-4.6 .18 5.3 .18 2.2 .18-4.6 .18 0 .18-1.5 .18-1.7 .18-2.2 .18 7.0 .18-6.8 .18 6.4 .18 2.0 .18-5.8 .18 4.6 .18-5.2 .18 2.6 .18 2.2 .18-1.2 .18-4.1 .18 4.0 .18 .7 .18-5.2 .18-1.3 .18 .5 .18-4.6 .18 8.4 .18-7.7 .18-.9 .18 2.7 .18 11.0 .18-4.3 .18-.8 .18 3.6 .18-7.5 .18 6.4 .18-5.2 .18 6.1 .18-3.0 .18-.3 .18-1.7 .18-.9 .18 4.1 .18-6.0 .18 7.3 .18-1.0 .18-.3 .18-5.8 .18 3.4 .18-1.3 .18 .6 .18-5.7 .18 5.2 .18 7.0 .18-8.3 .18-3.0 .18 8.1 .18 1.9 .18-6.5 .18-1.0 .18-1.0 .18 7.6 .18-2.3 .18-11.8 .18 12.7 .18-4.0 .18-2.4 .18 .9 .18 1.1 .18 2.5 .18-3.1 .18-2.7 .18 .1 .18 0 .18 1.3 .18-5.9 .18 8.0 .18-7.4 .18 8.0 .18-3.5 .18 .7 .18-5.3 .18 4.3 .18 1.5 .18-3.8 .18-.1 .18 8.2 .18-8.2 .18 4.1 .18-2.9 .18 4.3 .18-4.4 .18 .8 .18 .2 .18-7.1 .18 11.2 .18-10.0 .18 8.2 .18 .5 .18-7.7 .18 1.9 .18 .1 .18 1.0 .18 7.5 .18-5.2 .18-3.5 .18 .3 .18-3.0 .18 8.0 .18-5.2 .18 .1 .18-1.2 .18 2.2 .18-1.1 .18-1.6 .18 1.9 .18 4.9 .18-4.7 .18 .7 .18-2.7 .18 .8 .18 .9 .18-.7 .18 4.1 .18-7.4 .18 2.3 .18 3.2 .18-2.5 .18-1.5 .18 7.1 .18-9.3 .18 7.5 .18-5.4 .18 2.9 .18-1.8 .18-5.2 .18 5.6 .18-5.1 .18 1.3 .18 3.6 .18-3.7 .18 4.0 .18-.9 .18-1.7 .18-5.6 .18 8.9 .18 1.2 .18-9.1 .18 3.7 .18 8.5 .18-4.9 .18-1.0 .18 .5 .18-1.9 .18-2.1 .18 .3 .18-1.0 .18 1.3 .18 2.1 .18-.2 .18 3.4 .18-6.7 .18 4.5 .18 3.8 .18-5.2 .18 7.8 .18-4.1 .18-3.3 .18 4.4 .18 .7 .18-3.0 .18-3.4 .18 2.6 .18-2.6 .18-2.4 .18 6.2 .18-1.8 .18-10.3 .18 7.8 .18 2.1 .18-1.5 .18 3.2 .18-2.9 .18-1.7 .18-2.2 .18 6.6 .18-11.5 .18 18.2 .18-14.0 .18 5.5 .18-.5 .18 1.8 .18 3.2 .18-5.3 .18-.9 .18 6.0 .18-.8 .18-7.4 .18 3.8 .18 2.4 .18-3.0 .18 3.7 .18-3.7 .18 5.0 .18-7.8 .18-15.1 .18 19.8 .18 .5 .18-6.7 .18 5.2 .18-2.5 .18 3.7 .18-4.0 .18 5.5 .18-.4 .18 1.6 .18-5.3 .18 .2 .18-.2 .18 .6 .18 2.2 .18 1.7 .18-6.4 .18 3.5 .18 2.9 .18-4.3 .18 2.8 .18-2.4 .18-3.8 .18 6.9 .18-7.9 .18-3.0 .18 11.9 .18-7.2 .18 3.9 .18-2.2 .18 4.9 .18-3.8 .18-3.1 .18 6.1 .18-3.1 .18 .5 .18-2.8 .18 4.3 .18-.3 .18-3.8 .18 9.4 .18-6.0 .18-1.1 .18 2.2 .18-2.1 .18-1.9 .18 6.9 .18-2.8 .18-1.2 .18-6.6 .18 5.5 .18 6.5 .18-15.0 .18 10.2 .18-2.6 .18 3.8 .18-4.5 .18 10.7 .18-10.8 .18-.3 .18 5.1 .18-6.7 .18 5.0 .18 5.2 .18-12.0 .18 7.2 .18 2.4 .18-4.8 .18 .4 .18 3.1 .18 1.1 .18-4.6 .18 1.6 .18 1.9 .18-7.8 .18 5.8 .18-1.0 .18 1.9 .18-2.0 .18 3.3 .18-3.2 .18 10.1 .18-5.5 .18 1.5 .18-.4 .18-3.6 .18-1.1 .18-9.7 .18 8.7 .18 1.1 .18-4.1 .18 7.0 .18-8.8 .18 11.0 .18-3.4 .18-9.8 .18 1.8 .18 3.1 .18-4.0 .18 8.7 .18-.1 .18-3.9 .18 7.0 .18-3.3 .18-3.3 .18 2.8 .18 6.7 .18-12.5 .18-3.6 .18 7.4 .18-.6 .18 8.5 .18-3.2 .18 1.2 .18-.7 .18-2.8 .18 .7 .18-2.7 .18 .9 .18 7.3 .18-11.7 .18 7.6 .18-.4 .18 .7 .18 5.1 .18-6.8 .18-1.8 .18 1.3 .18 3.5 .18-9.5 .18 2.2 .18 6.2 .18-8.4 .18 5.5 .18-5.8 .18 3.2 .18-3.2 .18 6.4 .18 1.9 .18-2.0 .18-4.1 .18 6.8 .18-3.8 .18 2.5 .18-3.1 .18 2.5 .18-7.9 .18 2.6 .18-1.0 .18 .9 .18 .1 .18 4.4 .18-1.4 .18-1.1 .18-.2 .18 6.8 .18-3.6 .18 6.8 .18-6.9 .18-.6 .18-3.5 .18 1.7 .18 2.9 .18-2.1 .18-4.5 .18 4.3 .18 6.4 .18-5.2 .18-1.1 .18 .4 .18-1.8 .18-.7 .18-6.9 .18 11.9 .18-2.4 .18-6.9 .18 4.0 .18 8.7 .18-3.3 .18-10.6 .18 7.7 .18 5.1 .18-6.6 .18 5.1 .18-2.2 .18 5.7 .18-3.2 .18-2.0 .18 2.3 .18-1.9 .18-8.0 .18 2.9 .18 1.1 .18-1.2 .18 2.9 .18 .3 .18 .2 .18-3.0 .18 3.5 .18-.6 .18-8.6 .18 6.5 .18 4.4 .18 2.8 .18-12.9 .18 7.7 .18-2.5 .18-2.2 .18 7.9 .18 5.3 .18-11.6 .18 6.2 .18-5.1 .18-4.2 .18 6.4 .18-3.0 .18 4.6 .18-8.5 .18 7.8 .18-6.0 .18 1.6 .18 6.0 .18-11.9 .18 6.5 .18 9.1 .18-3.8 .18-4.4 .18-3.5 .18 6.2 .18-7.4 .18 2.0 .18 1.0 .18-2.5 .18 1.0 .18 .4 .18 .7 .18 3.2 .18 2.7 .18-5.7 .18 2.3 .18-4.6 .18 13.8 .18-11.0 .18 1.5 .18-6.5 .18 5.3 .18 3.5 .18-6.5 .18 5.7 .18-1.6 .18 2.9 .18-9.4 .18 5.2 .18 3.5 .18-11.6 .18 10.6 .18-1.3 .18 4.5 .18-7.9 .18 6.7 .18-2.7 .18-1.6 .18-2.5 .18 4.4 .18-1.4 .18 .6 .18 2.4 .18-13.0 .18 10.8 .18-11.0 .18 16.1 .18-4.0 .18-6.1 .18 1.2 .18 1.7 .18 1.6 .18-2.1 .18 .1 .18 .3 .18-4.1 .18 7.3 .18-4.6 .18 .5 .18 2.6 .18 1.0 .18-6.4 .18 2.1 .18 1.7 .18 4.9 .18-7.9 .18-2.1 .18 10.5 .18-12.8 .18 7.7 .18-3.2 .18 5.0 .18-11.3 .18 7.5 .18 5.2 .18-3.2 .18-5.4 .18 2.6 .18 1.5 .18-5.8 .18 .2 .18 4.4 .18 .2 .18 6.9 .18-7.1 .18-.8 .18 3.1 .18-1.1 .18 5.6 .18-9.4 .18 12.0 .18-5.4 .18 .1 .18 3.3 .18-15.0 .18 .4 .18 7.6 .18 6.1 .18-6.4 .18-.7 .18 .1 .18-2.0 .18-.4 .18 7.4 .18-8.0 .18-6.0 .18 6.5 .18 7.6 .18-6.3 .18 .2 .18 3.8 .18-5.1 .18 5.3 .18-4.6 .18 4.2 .18-6.9 .18-3.5 .18 5.7 .18 6.9 .18-11.5 .18 17.2 .18-11.5 .18-4.2 .18 3.8 .18 4.6 .18-7.4 .18 8.9 .18-5.4 .18 3.8 .18-8.8 .18 7.1 .18-1.6 .18-3.1 .18 .3 .18-2.8 .18-2.3 .18 10.5 .18-4.0 .18 5.5 .18-5.1 .18 3.9 .18 3.6 .18-6.4 .18-.7 .18-1.7 .18 .3 .18-8.2 .18 15.5 .18-14.4 .18 10.7 .18-2.4 .18-3.4 .18 3.8 .18 .7 .18-.7 .18 1.8 .18-6.8 .18 6.3 .18-7.7 .18 11.5 .18-1.1 .18-7.7 .18 3.4 .18-2.4 .18 9.5 .18-11.2 .18 .9 .18-1.8 .18-2.5 .18 5.2 .18-1.0 .18 3.1 .18-7.8 .18 9.5 .18-2.1 .18 .3 .18-6.6 .18-.3 .18-1.0 .18 4.8 .18 7.4 .18-6.8 .18 6.3 .18-1.6 .18-4.8 .18-1.2 .18-1.0 .18 1.3 .18-5.4 .18 14.6 .18-5.1 .18-.2 .18-6.6 .18 12.7 .18-8.8 .18-2.2 .18-1.9 .18 1.9 .18 7.7 .18-10.3 .18 10.3 .18-4.9 .18-4.8 .18 5.9 .18-9.0 .18 2.6 .18 4.2 .18-.4 .18-7.3 .18 6.7 .18-4.8 .18-.5 .18 4.8 .18-.6 .18-2.0 .18-2.2 .18-3.8 .18 6.4 .18 1.8 .18-2.9 .18 1.9 .18-5.9 .18 3.9 .18-.9 .18 5.0 .18 2.1 .18-6.8 .18 .9 .18 1.3 .18-.6 .18-5.2 .18 2.9 .18 2.7 .18-2.1 .18-4.8 .18 3.1 .18 2.3 .18 8.2 .18-11.3 .18 4.3 .18-.3 .18 6.8 .18-10.6 .18 7.8 .18-.4 .18-10.5 .18 9.2 .18-5.5 .18-1.5 .18-1.0 .18 8.2 .18-5.8 .18 9.6 .18-9.2 .18 7.5 .18-3.0 .18-4.2 .18 4.8 .18-1.6 .18-5.2 .18-3.2 .18 5.5 .18 2.5 .18 1.3 .18-8.7 .18 1.9 .18 1.9 .18 10.2 .18-.7 .18-6.9 .18-9.0 .18 9.1 .18-1.6 .18-.7 .18 4.9 .18-8.1 .18 4.7 .18-4.6 .18 3.3 .18-.1 .18 4.3 .18 1.2 .18-16.1 .18 9.5 .18 2.8 .18-.4 .18 2.2 .18 6.4 .18-11.6 .18-2.5 .18 8.8 .18-8.9 .18 1.0 .18 4.5 .18-2.7 .18-5.8 .18 2.7 .18 1.0 .18 11.4 .18-6.5 .18 2.2 .18-8.8 .18 .7 .18 3.5 .18-2.6 .18 5.1 .18-9.8 .18 10.7 .18-4.4 .18-4.6 .18 6.2 .18 .3 .18-3.2 .18 6.2 .18-1.5 .18-6.1 .18 1.5 .18-2.3 .18 4.0 .18-5.1 .18 1.9 .18 1.5 .18-7.0 .18 5.5 .18 .1 .18 11.6 .18-14.0 .18 5.5 .18-.5 .18-6.1 .18 2.6 .18 7.5 .18 4.8 .18-6.7 .18-.5 .18 3.8 .18-1.5 .18-3.7 .18-.7 .18 3.2 .18-7.3 .18-4.1 .18 9.7 .18-4.1 .18-3.7 .18 14.7 .18-2.5 .18-6.7 .18-3.6 .18-6.0 .18 6.8 .18-1.4 .18-1.2 .18-2.7 .18 4.5 .18 .1 .18-6.8 .18 10.3 .18-2.8 .18 .8 .18-.8 .18-11.6 .18 16.3 .18 3.0 .18-8.2 .18 .1 .18 6.0 .18-9.2 .18 2.7 .18 .6 .18 .2 .18-4.5 .18-1.8 .18 1.8 .18-5.4 .18 3.7 .18 1.9 .18 6.4 .18 5.1 .18-7.6 .18 4.2 .18-15.0 .18 6.3 .18 3.7 .18 4.5 .18-12.9 .18 1.2 .18 6.1 .18 4.1 .18-2.2 .18 0 .18-4.2 .18 5.8 .18-2.3 .18-7.1 .18-.2 .18 7.4 .18-7.1 .18 4.8 .18 3.3 .18-7.1 .18-3.1 .18 5.2 .18 5.9 .18-5.5 .18 5.0 .18 .9 .18-4.2 .18-5.0 .18 2.7 .18-1.0 .18-4.5 .18 6.1 .18 .6 .18 1.0 .18-9.0 .18 11.0 .18-6.6 .18-3.8 .18 5.0 .18 5.0 .18-.8 .18 3.6 .18-2.0 .18-6.7 .18-1.2 .18 2.4 .18-7.8 .18 4.7 .18-2.7 .18 4.0 .18 6.4 .18-10.0 .18 8.8 .18 3.7 .18-16.9 .18 7.5 .18 3.1 .18 4.6 .18-8.2 .18 8.8 .18-3.6 .18-6.2 .18 4.4 .18-10.9 .18 12.6 .18-15.6 .18 7.6 .18 3.9 .18-1.1 .18-10.8 .18 8.3 .18-1.8 .18 6.8 .18-9.7 .18 4.3 .18 7.3 .18-7.2 .18-1.3 .18-4.4 .18 8.4 .18-1.3 .18 10.9 .18-15.2 .18 4.6 .18 2.8 .18-6.4 .18 7.1 .18-3.5 .18-2.0 .18-4.7 .18 6.5 .18-.4 .18 10.7 .18-6.9 .18-3.6 .18-1.1 .18-5.2 .18 6.9 .18 2.3 .18-8.0 .18 3.6 .18 2.7 .18-10.9 .18 8.4 .18-2.9 .18-6.0 .18 4.8 .18 .6 .18-2.7 .18 3.4 .18 2.8 .18 9.5 .18-12.9 .18-1.9 .18 6.3 .18-2.6 .18 3.0 .18-3.1 .18-10.0 .18 10.3 .18 .5 .18 2.3 .18-3.0 .18-.1 .18 3.1 .18-9.4 .18 3.7 .18-2.2 .18 9.5 .18-2.0 .18-3.7 .18 .2 .18-4.3 .18 2.7 .18 5.7 .18-6.5 .18 .1 .18-.3 .18 .2 .18 1.7 .18-8.5 .18 5.3 .18 6.2 .18-10.0 .18 5.9 .18-.5 .18 2.5 .18 3.6 .18-16.3 .18 .9 .18 8.9 .18 5.5 .18-5.7 .18-8.8 .18 10.9 .18-1.9 .18 .9 .18-1.6 .18-2.3 .18-.5 .18 1.2 .18 .8 .18-.6 .18 3.4 .18-1.5 .18 2.2 .18-5.2 .18 7.9 .18-7.2 .18 2.3 .18 2.4 .18 .4 .18-3.2 .18 2.5 .18-3.2 .18 1.8 .18 1.6 .18 1.5 .18-2.1 .18-5.6 .18-8.0 .18 14.8 .18-6.6 .18-4.4 .18 11.5 .18-8.9 .18 .6 .18-7.2 .18 9.7 .18-1.0 .18 4.1 .18-2.7 .18-.2 .18 3.2 .18-7.8 .18 2.3 .18-6.7 .18 9.6 .18-6.9 .18 2.3 .18 3.2 .18 1.0 .18 3.7 .18 1.6 .18-11.3 .18 5.2 .18-3.0 .18 3.5 .18 1.1 .18-1.3 .18-3.5 .18 3.9 .18-9.2 .18 7.6 .18 0 .18 .1 .18 1.1 .18-2.5 .18 3.5 .18 1.4 .18-8.4 .18-2.5 .18 5.7 .18 3.1 .18-5.4 .18-2.4 .18 11.2 .18-6.1 .18-1.4 .18 10.3 .18-7.1 .18 .6 .18-10.5 .18 7.8 .18 6.0 .18-12.1 .18 7.5 .18 .9 .18-8.3 .18 6.3 .18 .2 .18-.2 .18 3.3 .18 2.2 .18-2.5 .18-.9 .18-8.0 .18-2.9 .18 6.1 .18 3.1 .18 .7 .18-1.0 .18-1.5 .18-.5 .18 7.1 .18-13.0 .18 8.3 .18 2.5 .18-1.6 .18-2.8 .18-1.4 .18-7.6 .18 10.0 .18 2.2 .18-.9 .18-4.7 .18-2.6 .18-4.3 .18 9.4 .18 5.6 .18-9.9 .18 4.5 .18-1.8 .18 .5 .18 6.7 .18-4.1 .18 .8 .18-6.3 .18 1.9 .18-1.4 .18-.5 .18 11.4 .18-5.2 .18-4.2 .18-.3 .18 1.1 .18-.8 .18 2.2 .18 2.1 .18 .5 .18 4.8 .18-4.8 .18-6.7 .18 9.3 .18-6.9 .18 12.4 .18-8.4 .18-.3 .18-4.5 .18-9.7 .18 4.0 .18 12.0 .18-11.8 .18 4.1 .18 1.9 .18-3.1 .18 9.1 .18-18.4 .18 15.5 .18-8.0 .18 17.1 .18-12.0 .18 .2 .18 3.9 .18 1.6 .18-7.5 .18-.4 .18 6.8 .18 .4 .18-3.8 .18 9.3 .18-3.6 .18-9.1 .18-4.8 .18 10.1 .18-7.9 .18 3.1 .18 4.2 .18-14.0 .18 10.8 .18-7.7 .18 13.5 .18-7.4 .18-1.8 .18-2.0 .18 7.9 .18 2.8 .18-7.5 .18 2.0 .18-6.0 .18 4.6 .18 3.7 .18-8.0 .18 3.2"/><path stroke="#20ad62" d="M26.80 352.8l.18-4.9 .18-2.1 .18 2.1 .18-6.6 .18 7.7 .18 1.3 .18 .4 .18 1.2 .18 4.6 .18-5.7 .18-2.5 .18 4.8 .18-6.7 .18 4.4 .18-.9 .18-2.9 .18 4.4 .18 2.0 .18-8.9 .18 1.4 .18-.7 .18 8.5 .18-3.2 .18 3.7 .18-8.3 .18 .5 .18-4.7 .18 6.4 .18-1.3 .18-.3 .18 .1 .18 1.5 .18 1.6 .18 .1 .18-3.3 .18 1.0 .18-.4 .18 1.9 .18 .5 .18-1.7 .18 1.9 .18 5.2 .18-11.3 .18 6.9 .18-6.7 .18 7.4 .18-1.2 .18-1.6 .18 7.8 .18-5.8 .18-5.8 .18-1.3 .18 12.3 .18-6.9 .18 1.3 .18 6.7 .18-4.6 .18-12.6 .18 6.2 .18 6.3 .18-9.8 .18 7.0 .18-3.0 .18-.3 .18 4.9 .18-2.9 .18-1.7 .18 4.1 .18 .1 .18-.2 .18-10.1 .18 11.3 .18-6.3 .18 5.3 .18-3.1 .18 3.8 .18-4.2 .18 .7 .18 2.8 .18 1.4 .18 .3 .18-5.1 .18 2.1 .18-6.9 .18 1.0 .18 8.8 .18-3.9 .18 4.5 .18-4.7 .18-5.8 .18 7.4 .18-4.2 .18 6.9 .18 .9 .18-8.5 .18 1.6 .18 7.3 .18-4.9 .18 .5 .18 5.8 .18-4.5 .18-1.5 .18-.6 .18-3.9 .18 2.4 .18 2.1 .18-.1 .18-1.3 .18-6.7 .18 15.1 .18-.3 .18-7.7 .18 2.0 .18-3.4 .18-1.3 .18 3.8 .18 6.7 .18-8.8 .18-2.1 .18 5.0 .18-5.6 .18 7.2 .18 4.3 .18-4.7 .18-1.1 .18 4.6 .18-3.7 .18 3.5 .18-.2 .18-1.1 .18 1.9 .18-3.2 .18-1.5 .18 3.6 .18-4.0 .18 2.7 .18-5.6 .18 4.5 .18 1.3 .18 8.6 .18-8.2 .18 4.9 .18-7.3 .18 1.1 .18 6.3 .18-4.2 .18 4.9 .18-3.4 .18-2.0 .18-.8 .18-4.4 .18 3.3 .18-1.5 .18 2.1 .18 2.6 .18 2.2 .18-3.2 .18 1.7 .18 2.9 .18-3.7 .18-1.7 .18 .4 .18 1.2 .18 4.7 .18 3.6 .18-9.6 .18 7.0 .18-15.2 .18 8.7 .18 1.0 .18-1.3 .18-7.2 .18 7.5 .18-6.1 .18 9.1 .18-4.5 .18 3.7 .18 1.0 .18-6.8 .18 11.9 .18-2.6 .18-5.2 .18 .3 .18 1.3 .18 1.2 .18-4.2 .18-4.0 .18 8.8 .18-14.6 .18 5.5 .18 4.2 .18-1.9 .18-1.2 .18 .9 .18 .3 .18 0 .18-.1 .18 1.0 .18 1.8 .18-9.8 .18 8.3 .18-1.6 .18 4.7 .18 .6 .18-4.0 .18-1.3 .18 1.5 .18-1.1 .18 1.0 .18 1.8 .18-4.2 .18-3.4 .18 7.8 .18-5.5 .18 5.6 .18-6.9 .18 .7 .18 4.3 .18-9.6 .18 1.8 .18 7.0 .18-2.0 .18-.5 .18-2.9 .18 3.0 .18-3.5 .18 4.1 .18-1.1 .18-1.2 .18 .7 .18 .3 .18 2.4 .18-2.6 .18-2.3 .18 1.2 .18-3.9 .18-3.1 .18 7.9 .18-4.4 .18 1.7 .18-1.0 .18-1.4 .18 1.1 .18 6.9 .18-14.6 .18 12.1 .18 1.0 .18-5.1 .18 5.6 .18-10.3 .18 1.3 .18 7.3 .18-6.6 .18 3.7 .18 1.6 .18-5.0 .18-1.7 .18-3.2 .18 .3 .18 7.3 .18 2.8 .18-5.9 .18 3.6 .18-3.0 .18 .3 .18 2.2 .18 .9 .18 4.5 .18-3.8 .18-9.4 .18 9.2 .18-4.6 .18-1.7 .18-5.5 .18 12.3 .18-3.4 .18-1.6 .18 2.4 .18-6.6 .18 5.2 .18-1.3 .18-2.3 .18 2.9 .18-7.4 .18 5.5 .18-.4 .18-3.2 .18 1.1 .18 10.0 .18-4.9 .18-5.8 .18 1.8 .18-3.1 .18 9.8 .18-2.3 .18-4.3 .18 9.2 .18-13.9 .18 8.0 .18-2.7 .18 .3 .18-6.4 .18 8.5 .18-3.2 .18-1.8 .18 6.3 .18-6.6 .18 3.1 .18-2.1 .18 4.6 .18-8.2 .18 2.7 .18 4.5 .18-5.0 .18-3.1 .18 12.7 .18-8.8 .18 2.5 .18-1.9 .18-1.4 .18-3.8 .18 5.6 .18 3.7 .18-4.8 .18-8.7 .18 11.4 .18 .2 .18-3.4 .18 1.1 .18 3.5 .18-4.1 .18 2.3 .18 2.7 .18 3.1 .18-17.0 .18 11.1 .18-2.3 .18-.1 .18-2.0 .18-1.6 .18 1.7 .18 .6 .18 3.3 .18 .5 .18-3.2 .18-1.2 .18 3.8 .18-21.5 .18 19.3 .18-.9 .18 0 .18 4.7 .18-3.8 .18 2.9 .18 2.3 .18-6.0 .18 .5 .18 2.4 .18-3.9 .18 .9 .18-.8 .18 2.1 .18 1.4 .18 .5 .18 2.2 .18-2.1 .18-.7 .18 3.9 .18-1.7 .18-6.9 .18 1.7 .18 5.9 .18-11.8 .18 6.9 .18 3.6 .18 1.7 .18 .3 .18-5.7 .18 5.3 .18-11.9 .18 7.9 .18-5.2 .18 7.6 .18-.3 .18-4.9 .18-.9 .18 8.2 .18-5.6 .18-2.3 .18-5.8 .18-.1 .18 11.1 .18-3.4 .18-1.8 .18-.7 .18 .5 .18 .2 .18-.4 .18 2.3 .18 5.1 .18-7.9 .18 5.8 .18-7.6 .18 5.9 .18-3.6 .18-2.5 .18 4.3 .18-.8 .18 9.1 .18-5.8 .18-4.8 .18 5.7 .18-7.1 .18 4.8 .18 1.0 .18-.4 .18-11.3 .18 .3 .18 10.9 .18 5.5 .18-12.8 .18 7.7 .18-.5 .18-2.5 .18 4.5 .18-2.8 .18-.4 .18 6.4 .18-11.6 .18-.5 .18 9.4 .18-5.6 .18 2.8 .18 1.7 .18 2.6 .18-.5 .18-6.2 .18-.7 .18 6.4 .18-5.2 .18-1.8 .18 3.6 .18-3.7 .18 3.5 .18 4.1 .18-4.0 .18-6.2 .18 2.4 .18 1.1 .18 4.0 .18-2.3 .18-.6 .18-1.6 .18-8.2 .18 1.8 .18 5.5 .18-5.7 .18 7.7 .18 6.5 .18-9.2 .18-2.1 .18 3.4 .18 .1 .18 3.7 .18-3.0 .18 3.4 .18 .8 .18-6.2 .18-3.0 .18 4.3 .18-6.1 .18 6.7 .18-.7 .18 6.2 .18-6.5 .18 4.3 .18-4.9 .18-5.3 .18 17.3 .18-9.8 .18 3.3 .18-2.5 .18 6.9 .18-4.9 .18 1.1 .18 2.9 .18-1.5 .18-7.8 .18 6.8 .18-13.1 .18 14.3 .18-9.5 .18 3.6 .18-1.8 .18-.4 .18-1.1 .18 4.0 .18-1.1 .18 .1 .18 4.7 .18-1.5 .18 1.0 .18 1.0 .18-6.2 .18 6.9 .18-5.8 .18 5.3 .18-14.8 .18 13.5 .18-2.0 .18-1.1 .18 5.7 .18-15.2 .18 10.4 .18-6.2 .18-2.8 .18 7.9 .18-2.7 .18 .1 .18-2.1 .18 1.5 .18 4.9 .18-8.7 .18 3.3 .18 5.9 .18-2.0 .18-.3 .18-5.3 .18 4.6 .18 1.1 .18-1.9 .18-2.3 .18 2.7 .18 .7 .18-.4 .18 4.0 .18-5.1 .18 .2 .18-5.2 .18 16.0 .18-6.6 .18-2.0 .18-4.8 .18-3.4 .18-1.4 .18 7.3 .18 3.9 .18-1.7 .18-4.5 .18-1.3 .18 1.9 .18 9.6 .18-9.4 .18 7.9 .18-4.2 .18-6.4 .18 3.1 .18-2.4 .18 .7 .18-.8 .18 3.5 .18 8.5 .18-16.3 .18 6.3 .18-4.8 .18 7.0 .18 .3 .18 3.8 .18 1.1 .18-7.2 .18 0 .18 2.9 .18-7.1 .18 .6 .18-6.2 .18 11.0 .18-2.1 .18 9.9 .18-5.0 .18-1.7 .18-.1 .18-4.4 .18-4.1 .18 9.3 .18-1.4 .18 4.5 .18-10.1 .18 3.4 .18 2.9 .18-5.4 .18 3.0 .18-5.5 .18 3.0 .18 11.2 .18-16.6 .18 11.8 .18-.8 .18 7.6 .18-3.6 .18-10.1 .18 7.0 .18-2.8 .18 4.7 .18-6.7 .18 9.1 .18-4.3 .18 1.0 .18 3.9 .18-8.1 .18 7.7 .18-6.0 .18-2.1 .18 7.6 .18-1.2 .18-1.1 .18-4.1 .18 8.1 .18-1.8 .18 .9 .18 .1 .18 1.1 .18-3.7 .18-.6 .18-5.9 .18 6.7 .18-2.8 .18-2.1 .18-1.2 .18 11.3 .18-3.6 .18 3.9 .18-4.6 .18 3.2 .18-11.7 .18 6.5 .18-8.1 .18 4.8 .18-3.9 .18 10.8 .18-.5 .18 1.0 .18-3.1 .18-3.9 .18 8.3 .18-14.6 .18 12.6 .18-8.6 .18-4.0 .18 7.3 .18-10.1 .18 12.2 .18-9.5 .18 2.0 .18 7.2 .18-11.4 .18 1.9 .18 1.2 .18 8.4 .18-3.8 .18-.6 .18 6.1 .18 .4 .18-7.0 .18 3.0 .18-1.8 .18-5.9 .18 5.5 .18-7.8 .18 5.0 .18-1.0 .18-3.5 .18 9.6 .18 1.9 .18-7.1 .18-1.6 .18 5.1 .18-8.6 .18 12.1 .18-4.9 .18 1.4 .18-4.1 .18-6.0 .18 1.9 .18-1.2 .18 3.1 .18 3.2 .18-8.9 .18 13.3 .18-7.7 .18 3.5 .18-7.5 .18 2.6 .18 2.4 .18-4.8 .18 3.1 .18 .4 .18-6.2 .18 10.2 .18-12.5 .18 3.8 .18 .4 .18 4.2 .18-3.0 .18 2.0 .18 6.4 .18-4.5 .18 .3 .18-4.8 .18 12.0 .18-5.9 .18 2.6 .18-6.2 .18 8.9 .18-8.8 .18-1.9 .18-.9 .18 2.7 .18-3.3 .18 3.9 .18-1.2 .18-3.2 .18 7.2 .18-2.0 .18-2.2 .18-2.4 .18 3.3 .18 3.5 .18 2.8 .18-9.5 .18-2.3 .18 10.3 .18-3.9 .18-4.7 .18 8.5 .18 1.6 .18-14.3 .18 8.3 .18-2.9 .18 1.2 .18-11.0 .18 14.7 .18-10.9 .18 8.8 .18-2.8 .18 5.5 .18-10.5 .18 6.2 .18 3.3 .18 .3 .18-2.1 .18-5.1 .18 2.0 .18 4.5 .18-5.0 .18-.7 .18 2.1 .18-3.9 .18-1.0 .18 6.9 .18 3.1 .18-.2 .18-5.2 .18 2.1 .18-11.3 .18 14.9 .18-5.4 .18 2.1 .18-3.8 .18-3.5 .18 6.6 .18-7.1 .18 .9 .18 11.1 .18-14.7 .18 1.2 .18 3.8 .18-6.2 .18 .6 .18 3.3 .18 5.9 .18-6.1 .18 5.4 .18 .2 .18-10.5 .18 14.7 .18 4.8 .18-12.9 .18 5.7 .18-1.4 .18 4.8 .18-11.6 .18 1.6 .18 4.8 .18-7.0 .18 7.9 .18-4.7 .18-1.5 .18-1.8 .18 6.0 .18-2.7 .18-2.9 .18 5.6 .18-8.2 .18-3.4 .18 7.5 .18-4.5 .18 5.5 .18-.2 .18-4.3 .18 7.6 .18 5.7 .18-6.7 .18-6.1 .18 2.5 .18-6.0 .18-1.3 .18 2.6 .18 9.2 .18-12.5 .18 7.9 .18 2.3 .18 2.1 .18 5.3 .18-2.4 .18-.7 .18-8.0 .18-5.4 .18 3.9 .18 3.5 .18-1.2 .18 6.3 .18-5.7 .18-.7 .18-.9 .18 2.5 .18-.4 .18-10.8 .18 18.6 .18-9.5 .18 3.3 .18-5.9 .18 7.6 .18-14.5 .18 8.9 .18-1.3 .18 3.2 .18-3.7 .18 2.2 .18 1.7 .18-5.8 .18-2.4 .18 3.6 .18 7.1 .18-12.1 .18 13.1 .18-6.5 .18-7.3 .18 8.9 .18-1.5 .18 5.5 .18-5.1 .18-12.2 .18 10.4 .18 4.8 .18-15.9 .18 12.3 .18-3.2 .18-5.1 .18 11.7 .18-6.0 .18 1.5 .18 3.3 .18-.1 .18 .1 .18-6.1 .18 .8 .18-5.2 .18 3.4 .18-.1 .18 4.3 .18 2.0 .18-4.2 .18-5.4 .18 4.6 .18 4.7 .18-15.5 .18 9.8 .18 3.8 .18-7.2 .18 7.7 .18-5.8 .18-.7 .18 7.1 .18-2.0 .18-1.5 .18-2.7 .18 3.3 .18-3.0 .18 4.8 .18-5.7 .18-.5 .18 9.7 .18-7.7 .18-5.3 .18 6.0 .18 .1 .18-2.6 .18-3.3 .18-1.7 .18 13.1 .18 0 .18 0 .18-5.8 .18 2.5 .18-6.6 .18 7.7 .18-13.9 .18 12.2 .18-4.6 .18-1.9 .18 6.9 .18-12.4 .18-.2 .18 11.3 .18-1.7 .18 0 .18-9.6 .18 10.3 .18-6.0 .18-.6 .18 11.0 .18-6.4 .18-3.8 .18 9.6 .18-9.2 .18-1.7 .18 6.5 .18 6.3 .18-11.9 .18 .3 .18 .2 .18 3.1 .18 2.9 .18-2.5 .18-2.3 .18 3.8 .18-4.5 .18 .7 .18-9.8 .18 8.4 .18 2.5 .18-4.9 .18-3.8 .18 7.5 .18 2.2 .18-8.6 .18 2.1 .18-.2 .18 1.0 .18 3.4 .18-5.4 .18 4.1 .18 7.2 .18-7.7 .18 1.3 .18-3.1 .18-3.1 .18 2.0 .18 4.1 .18-8.3 .18 12.1 .18-3.2 .18 2.9 .18-.5 .18-4.7 .18 5.6 .18 2.3 .18-14.1 .18 14.0 .18-5.8 .18-7.0 .18 3.6 .18 4.4 .18 5.7 .18-15.3 .18-3.2 .18 15.9 .18-4.9 .18 2.5 .18 1.8 .18-5.9 .18-6.2 .18 .7 .18-.4 .18 .4 .18 2.2 .18 4.7 .18-9.1 .18-3.2 .18-1.6 .18 16.3 .18-1.9 .18-3.9 .18 .8 .18-7.4 .18 2.4 .18-.8 .18 3.9 .18-2.0 .18 7.1 .18-2.4 .18-9.9 .18 7.0 .18-10.6 .18 14.9 .18-11.1 .18 5.8 .18-5.2 .18 11.2 .18-6.2 .18 4.2 .18-8.9 .18 3.8 .18 2.5 .18-6.5 .18 11.5 .18-1.6 .18-8.0 .18 2.0 .18-2.1 .18-1.2 .18 7.0 .18-4.2 .18-12.8 .18 13.6 .18 2.4 .18-7.7 .18 4.6 .18-2.8 .18-4.8 .18 7.9 .18-5.5 .18-4.5 .18 4.1 .18 9.3 .18-12.8 .18 4.2 .18 9.2 .18 4.7 .18-12.6 .18-2.8 .18-4.1 .18 6.8 .18-.7 .18 2.0 .18-4.3 .18 6.0 .18-8.3 .18 3.3 .18 3.4 .18-2.3 .18 .8 .18-2.1 .18-.5 .18-1.0 .18-1.7 .18 5.4 .18-4.4 .18 4.6 .18-10.3 .18 5.8 .18 4.0 .18 7.7 .18-18.2 .18 13.9 .18 7.2 .18-17.3 .18 7.1 .18 2.0 .18-3.2 .18 .9 .18 .2 .18-5.1 .18 2.2 .18-.8 .18-1.9 .18-6.1 .18 3.4 .18 4.7 .18-.4 .18 4.0 .18-1.8 .18-6.4 .18-1.3 .18 2.4 .18 6.5 .18-8.1 .18-.8 .18 8.6 .18 .1 .18-7.8 .18 4.0 .18 7.2 .18-8.0 .18 3.7 .18 2.4 .18-4.7 .18-.3 .18-1.3 .18-.8 .18-3.7 .18 3.6 .18 5.4 .18 .5 .18 6.8 .18-9.8 .18-2.1 .18-1.9 .18 2.3 .18-1.4 .18 2.7 .18-4.0 .18-5.7 .18 6.7 .18 .8 .18-1.5 .18 3.1 .18-1.5 .18 9.7 .18-15.9 .18 2.1 .18 6.1 .18-5.1 .18-.5 .18-2.8 .18 9.0 .18-9.6 .18-4.6 .18 11.3 .18-4.7 .18-7.0 .18-3.0 .18 11.2 .18-10.9 .18 9.6 .18 2.9 .18 2.1 .18 .6 .18-6.8 .18 1.2 .18-2.7 .18 15.6 .18-7.3 .18-6.2 .18 2.5 .18 0 .18 9.4 .18-16.8 .18 17.2 .18-14.4 .18 6.6 .18-3.2 .18 1.1 .18-7.9 .18 3.3 .18 1.4 .18 2.5 .18-2.5 .18 4.4 .18-1.2 .18-3.4 .18 5.8 .18-10.0 .18 9.1 .18-1.9 .18-.4 .18-.7 .18-2.6 .18-2.1 .18 7.7 .18-2.4 .18-3.5 .18-11.3 .18 18.7 .18-11.2 .18 2.1 .18-5.7 .18 21.1 .18 0 .18-17.4 .18 7.7 .18-8.9 .18 1.1 .18 8.0 .18-4.1 .18-3.1 .18 3.8 .18-6.0 .18 8.2 .18 3.3 .18 1.4 .18-20.8 .18 .5 .18 12.7 .18-.8 .18-6.1 .18 .8 .18-1.3 .18-1.6 .18 8.5 .18-.9 .18 3.8 .18 5.0 .18-5.1 .18-8.1 .18 15.4 .18-.7 .18-15.6 .18-6.2 .18 12.3 .18 6.6 .18-5.0 .18-.7 .18 3.8 .18-1.0 .18-8.2 .18 0 .18 14.0 .18-9.4 .18 4.8 .18 5.7 .18-14.8 .18-7.1 .18 6.0 .18 3.3 .18-4.6 .18 7.6 .18-1.9 .18-3.2 .18 7.0 .18-17.1 .18 14.1 .18 .1 .18 0 .18-10.5 .18 15.5 .18-8.8 .18 4.3 .18-8.7 .18-1.3 .18 8.4 .18-4.8 .18 3.8 .18-2.2 .18 2.8 .18-7.9 .18 3.8 .18-1.6 .18 .4 .18-1.2 .18 2.0 .18 6.7 .18-5.2 .18 3.3 .18-3.9 .18-1.0 .18-2.4 .18 1.8 .18 4.7 .18 2.7 .18-6.4 .18 7.1 .18-7.9 .18-5.1 .18-1.7 .18 3.1 .18 2.0 .18 7.2 .18-10.8 .18 7.2 .18 4.8 .18-8.8 .18-2.1 .18 2.4 .18 3.0 .18 .6 .18 4.1 .18-5.5 .18-6.8 .18 14.7 .18-9.9 .18-11.1 .18 7.0 .18 .9 .18 .7 .18 2.1 .18-11.0 .18 8.4"/></g></g>
<rect x="26.8" y="239.6" width="233.7" height="187.70000000000002" fill="none" stroke="#5a5a5a" stroke-width="1.5"/>
<path d="M26.80 427.30V431.00M50.17 427.30V429.30M73.54 427.30V431.00M96.91 427.30V429.30M120.28 427.30V431.00M143.65 427.30V429.30M167.02 427.30V431.00M190.39 427.30V429.30M213.76 427.30V431.00M237.13 427.30V429.30M260.50 427.30V431.00" stroke="#404040" stroke-width="1.1" fill="none"/>
<text x="26.80" y="441.50" class="tk">500</text>
<text x="73.54" y="441.50" class="tk">1000</text>
<text x="120.28" y="441.50" class="tk">1500</text>
<text x="167.02" y="441.50" class="tk">2000</text>
<text x="213.76" y="441.50" class="tk">2500</text>
<text x="260.50" y="441.50" class="tk">3000</text>
<text x="137.20" y="459.30" class="xl">Raman Shift (cm<tspan dy="-4" font-size="7">-1</tspan><tspan dy="4">)</tspan></text>
<text transform="translate(15.30 323.40) rotate(-90)" class="yl">Intensity (a.u.)</text>
<text x="29.30" y="252.90" class="pl">(c) GSF</text>
<clipPath id="cpd"><rect x="298.2" y="240.6" width="233.8" height="188.20000000000002"/></clipPath>
<g class="cv"><g clip-path="url(#cpd)" fill="none" stroke-width="1.0" stroke-linejoin="bevel"><path stroke="#474747" d="M298.20 414.8l.18 3.0 .18 1.1 .18-.1 .18-.9 .18-3.2 .18 6.1 .18-4.5 .18-.3 .18 .6 .18 2.1 .18-.5 .18 1.3 .18-2.2 .18-.6 .18 .6 .18-.7 .18 2.8 .18 0 .18 0 .18-2.4 .18 .2 .18-.7 .18-3.2 .18 9.8 .18-3.7 .18 0 .18-1.2 .18 5.8 .18-6.4 .18-2.4 .18 3.7 .18 2.0 .18 3.1 .18-5.6 .18-3.1 .18 1.7 .18-.7 .18 2.4 .18 5.2 .18-5.8 .18 2.1 .18-3.6 .18-2.5 .18 2.9 .18 .4 .18 .4 .18-1.9 .18 4.6 .18-2.0 .18-2.8 .18 .7 .18 .3 .18 2.7 .18-1.4 .18 0 .18-2.6 .18 3.6 .18 2.6 .18-3.2 .18-2.7 .18-2.0 .18 3.8 .18 5.5 .18-6.5 .18 2.1 .18-4.5 .18 3.3 .18-1.2 .18 2.7 .18-2.6 .18-.4 .18 .4 .18-.1 .18 .6 .18-3.6 .18-1.3 .18 6.8 .18-3.1 .18 2.4 .18-.9 .18-2.5 .18-.3 .18 3.9 .18-7.7 .18-1.1 .18 7.7 .18-.5 .18-2.7 .18 2.0 .18-.1 .18 .5 .18-.7 .18 2.4 .18-5.1 .18 6.5 .18-4.4 .18 7.2 .18-3.1 .18 0 .18-2.4 .18 2.7 .18 1.7 .18-5.9 .18 1.6 .18-.2 .18 2.1 .18-.4 .18 1.5 .18-2.4 .18 5.8 .18-7.3 .18 2.3 .18-1.4 .18-.5 .18 7.5 .18-3.5 .18-3.9 .18 1.9 .18 2.5 .18-2.4 .18 2.1 .18-.5 .18 .1 .18 .3 .18 .1 .18 .2 .18 4.1 .18-1.1 .18-2.0 .18-.6 .18 1.0 .18 .9 .18-1.2 .18 2.3 .18-2.8 .18-2.1 .18-.3 .18 4.0 .18 2.3 .18-4.4 .18 3.3 .18 .5 .18-3.1 .18 .9 .18-3.3 .18-2.4 .18 6.5 .18-8.4 .18 6.9 .18-.6 .18-1.9 .18 4.2 .18-2.3 .18 3.9 .18-6.0 .18 4.6 .18-2.9 .18-1.1 .18-.2 .18 2.9 .18-.8 .18-1.3 .18 5.9 .18 1.1 .18-2.7 .18-1.5 .18 1.4 .18-.9 .18-1.2 .18-2.8 .18 3.1 .18-1.6 .18 1.7 .18-2.0 .18-.5 .18 3.7 .18-2.1 .18-1.1 .18 7.4 .18-7.4 .18 6.8 .18 .4 .18-10.0 .18 2.6 .18 3.8 .18-6.5 .18 .5 .18 3.6 .18-.2 .18-1.4 .18 3.4 .18-2.0 .18-2.2 .18-3.4 .18 5.8 .18-.5 .18-3.9 .18 5.6 .18-2.4 .18-.2 .18-.5 .18 2.2 .18-4.4 .18 3.9 .18-.1 .18-5.6 .18 5.7 .18 .2 .18 1.0 .18-1.1 .18 .7 .18-.7 .18-.9 .18-.3 .18 7.1 .18-3.7 .18 0 .18-.4 .18-2.5 .18-3.5 .18 4.5 .18-3.2 .18 3.3 .18-6.7 .18 10.5 .18-7.1 .18 3.0 .18-5.2 .18 .4 .18 1.3 .18 4.2 .18-1.5 .18-4.4 .18 2.1 .18 5.1 .18-7.3 .18 1.8 .18 4.9 .18-5.1 .18 .8 .18-3.1 .18 3.5 .18-.7 .18 3.6 .18 .2 .18-1.8 .18 6.2 .18-6.4 .18-.2 .18 1.6 .18-2.7 .18 .2 .18-1.3 .18 2.3 .18-.8 .18-2.2 .18 1.5 .18-2.4 .18 5.2 .18 1.3 .18-6.8 .18 4.1 .18-.2 .18-.5 .18-4.1 .18 .5 .18 2.7 .18-1.4 .18-2.7 .18 9.8 .18-1.0 .18-7.3 .18 2.4 .18-.2 .18 .1 .18-1.6 .18 3.0 .18-.9 .18-.8 .18-2.7 .18 3.7 .18-.4 .18-4.3 .18 7.1 .18-4.0 .18-2.7 .18 3.9 .18 2.1 .18-1.8 .18 3.9 .18-.8 .18-.5 .18-6.0 .18 2.1 .18 .3 .18-5.2 .18 8.5 .18-5.4 .18 0 .18 4.7 .18-1.0 .18-3.8 .18 .6 .18 4.9 .18-6.0 .18 8.2 .18-4.9 .18 6.1 .18-5.7 .18-8.5 .18 4.2 .18 6.0 .18-5.4 .18 .3 .18 2.2 .18 0 .18-.7 .18-2.7 .18 1.5 .18 2.9 .18-6.2 .18 2.6 .18 1.6 .18-4.6 .18 11.8 .18-2.1 .18-2.0 .18-2.5 .18-2.3 .18-.8 .18 8.3 .18-10.0 .18 .8 .18 3.3 .18 .3 .18 .7 .18-2.7 .18 7.8 .18-12.2 .18 2.1 .18 2.9 .18 3.1 .18-5.4 .18-.1 .18 6.1 .18-4.3 .18-1.5 .18 1.4 .18 .2 .18 .5 .18-1.1 .18 5.5 .18 .7 .18-1.8 .18-2.9 .18 1.1 .18-2.4 .18-.1 .18 7.6 .18-3.8 .18-3.3 .18-.7 .18-3.6 .18 4.5 .18-6.1 .18 6.0 .18-1.9 .18-4.2 .18 7.1 .18-1.2 .18 .2 .18-2.6 .18 5.4 .18-3.7 .18 1.7 .18 2.1 .18-1.1 .18 1.5 .18-3.2 .18 3.5 .18-3.5 .18 .8 .18 3.8 .18-2.3 .18-3.4 .18-.3 .18 1.9 .18-.8 .18-2.1 .18-3.6 .18 3.0 .18 1.1 .18 1.2 .18 .4 .18-8.3 .18 8.8 .18-4.2 .18 4.0 .18-2.5 .18-2.3 .18-.3 .18-5.9 .18 6.2 .18 7.9 .18-5.4 .18 .6 .18 1.7 .18 1.2 .18-8.9 .18 4.4 .18-1.9 .18-.9 .18-14.2 .18 14.4 .18 1.5 .18-3.3 .18 3.2 .18-7.4 .18 6.0 .18-1.4 .18 .9 .18 4.6 .18 .4 .18-2.4 .18 .9 .18-2.0 .18-.7 .18 .5 .18 .5 .18-1.9 .18 .1 .18 2.5 .18-.2 .18-7.4 .18 5.2 .18 3.1 .18-2.4 .18-2.6 .18 .3 .18 4.4 .18-1.1 .18-5.2 .18-2.0 .18-.1 .18 2.2 .18 1.2 .18 5.1 .18 1.8 .18-4.9 .18 3.3 .18-4.7 .18 6.2 .18-6.5 .18-5.0 .18 6.0 .18-3.8 .18 6.3 .18-4.5 .18 9.2 .18-8.6 .18 5.0 .18-4.9 .18 2.5 .18-1.6 .18 4.1 .18-9.0 .18 6.6 .18-9.9 .18 1.8 .18 5.7 .18 1.8 .18-5.9 .18 1.2 .18-1.2 .18 6.3 .18-7.4 .18 1.3 .18 7.4 .18 2.3 .18-7.4 .18 2.2 .18-3.0 .18 5.9 .18-5.6 .18-6.1 .18 10.0 .18-1.0 .18-3.9 .18 5.0 .18-2.0 .18 1.2 .18-2.0 .18-2.6 .18 3.5 .18-.6 .18-.5 .18-6.3 .18 6.4 .18 7.1 .18-4.4 .18 .9 .18-4.2 .18-2.6 .18 3.2 .18-.4 .18-2.9 .18 3.0 .18-4.3 .18-.8 .18 10.8 .18-2.2 .18 1.6 .18-2.7 .18 1.7 .18-4.8 .18-.1 .18 .4 .18-1.4 .18-5.5 .18 8.3 .18 0 .18 2.3 .18-6.6 .18 3.4 .18-2.8 .18 4.0 .18-1.2 .18-2.5 .18 2.4 .18-2.0 .18 6.5 .18-7.0 .18 2.4 .18-2.8 .18 .8 .18-4.5 .18 8.0 .18-.3 .18-5.6 .18 1.7 .18-.7 .18 3.3 .18 3.2 .18-13.1 .18 5.2 .18 3.2 .18-.2 .18-2.7 .18 5.2 .18 .6 .18-3.3 .18 4.0 .18-5.0 .18-1.9 .18 5.4 .18-6.7 .18 .3 .18 .4 .18 1.4 .18-6.5 .18 6.2 .18 .3 .18-.1 .18 9.5 .18-6.7 .18-.1 .18-8.9 .18 8.2 .18-.8 .18 2.7 .18 5.3 .18-7.6 .18-.5 .18-1.0 .18 2.6 .18 1.9 .18-4.8 .18 2.4 .18 .1 .18 2.1 .18-3.5 .18 5.0 .18-6.4 .18-1.7 .18 5.3 .18-2.6 .18-2.3 .18-.6 .18 1.6 .18 0 .18 1.5 .18 3.4 .18-3.0 .18 1.4 .18-2.7 .18 5.5 .18 .2 .18-3.8 .18 2.3 .18-7.3 .18 12.3 .18-9.9 .18-1.8 .18 1.9 .18 8.1 .18-6.8 .18-3.9 .18 7.2 .18-2.9 .18 .9 .18 1.9 .18-3.6 .18 4.6 .18-3.1 .18-.2 .18 2.7 .18-6.1 .18 2.3 .18 5.5 .18-3.9 .18 .2 .18 4.2 .18-7.6 .18 3.7 .18 1.8 .18-3.2 .18 7.0 .18-10.3 .18 3.5 .18 2.7 .18 7.5 .18-5.1 .18 2.4 .18-8.7 .18 9.4 .18-6.3 .18-1.8 .18 5.6 .18-8.2 .18 6.6 .18 4.6 .18-3.4 .18 .8 .18-3.3 .18-2.0 .18 3.4 .18 .8 .18-7.4 .18 2.0 .18-1.5 .18 7.5 .18 2.1 .18-4.1 .18-3.8 .18 1.4 .18-1.0 .18 3.0 .18-9.8 .18 5.9 .18-1.3 .18 1.9 .18 4.2 .18-9.6 .18-.8 .18 6.4 .18-5.4 .18 6.4 .18 5.5 .18-9.8 .18 1.2 .18 6.7 .18-2.5 .18-1.2 .18 7.6 .18-3.6 .18-11.4 .18 4.7 .18 3.4 .18-.5 .18-.9 .18 4.0 .18-3.4 .18 3.0 .18-12.5 .18 12.4 .18-3.4 .18-.4 .18-2.2 .18-.5 .18-2.3 .18 2.0 .18 9.0 .18-2.5 .18-1.2 .18-8.5 .18 7.2 .18-.8 .18 3.0 .18-6.6 .18 4.7 .18-.1 .18-6.0 .18 2.8 .18 3.0 .18-2.2 .18-5.5 .18 8.9 .18 1.2 .18-9.9 .18 7.3 .18 4.9 .18-6.1 .18-1.3 .18-8.2 .18 13.3 .18-6.3 .18-.7 .18 5.5 .18-4.0 .18 1.8 .18-4.6 .18-5.4 .18 3.3 .18 8.5 .18-7.8 .18 10.1 .18-2.9 .18-1.1 .18-3.5 .18 3.6 .18-3.8 .18 .5 .18-2.8 .18-1.0 .18 5.3 .18-2.7 .18 6.6 .18-13.1 .18 1.2 .18 7.8 .18-3.6 .18 1.8 .18 1.0 .18-.2 .18-1.5 .18-1.6 .18 .8 .18 3.6 .18 3.4 .18-4.8 .18-.6 .18-8.6 .18 9.4 .18-3.4 .18 4.9 .18-5.3 .18 6.8 .18-10.0 .18 2.4 .18-5.0 .18 6.5 .18-3.0 .18 2.9 .18-2.0 .18 3.8 .18-4.4 .18 1.8 .18 2.3 .18-2.0 .18-4.3 .18 8.7 .18-2.8 .18-4.1 .18 8.1 .18 3.5 .18-10.8 .18-.2 .18 2.0 .18 1.0 .18-6.5 .18 11.3 .18-8.0 .18 4.2 .18 .6 .18-2.9 .18 2.5 .18-6.0 .18-1.1 .18 1.8 .18 5.8 .18-2.2 .18-4.3 .18 3.4 .18 4.2 .18-8.1 .18 1.3 .18-6.8 .18 6.2 .18 4.2 .18 3.9 .18-8.4 .18-1.5 .18 4.8 .18 2.8 .18 2.0 .18-1.6 .18-2.9 .18-2.3 .18 4.5 .18-6.1 .18-1.0 .18 8.2 .18-6.7 .18 2.0 .18-4.9 .18 9.3 .18-4.7 .18-.9 .18-2.7 .18 1.0 .18 6.0 .18 1.0 .18 1.2 .18-12.8 .18 3.9 .18-.6 .18 8.4 .18-7.3 .18 .1 .18-4.0 .18 7.9 .18-3.5 .18 .8 .18-7.1 .18 5.8 .18-.3 .18-.5 .18 2.0 .18-1.4 .18 8.8 .18-4.9 .18-3.8 .18 2.5 .18-2.0 .18 7.5 .18 0 .18 .1 .18-16.2 .18 14.1 .18-2.1 .18-6.8 .18 .7 .18 2.4 .18 2.1 .18-1.6 .18 1.7 .18-5.7 .18 6.1 .18 6.6 .18-2.7 .18-6.2 .18 8.1 .18-3.7 .18-1.8 .18-4.4 .18-.6 .18 .5 .18 .1 .18 2.3 .18-1.8 .18 7.9 .18-14.2 .18 8.2 .18-4.4 .18 3.5 .18-5.3 .18 1.7 .18 5.2 .18-5.9 .18 3.6 .18 5.3 .18-7.9 .18-6.6 .18 7.1 .18-1.7 .18 2.5 .18 3.5 .18-4.7 .18-2.1 .18 1.2 .18 9.2 .18-11.8 .18 2.8 .18-2.8 .18 6.0 .18-8.4 .18 10.6 .18-3.7 .18-3.2 .18 7.3 .18-6.5 .18 1.6 .18-2.3 .18 2.4 .18 3.4 .18-4.6 .18-3.2 .18 5.0 .18-.3 .18 1.6 .18 .1 .18-7.7 .18 .1 .18 2.4 .18 4.2 .18-6.9 .18 1.5 .18 5.9 .18-7.0 .18-7.1 .18 4.6 .18 5.7 .18-3.1 .18 1.5 .18 4.2 .18-4.4 .18 2.6 .18-1.7 .18-1.3 .18 3.5 .18-8.2 .18 7.2 .18-.2 .18-7.2 .18 3.2 .18-1.8 .18 5.7 .18-3.1 .18-1.5 .18 5.1 .18-1.8 .18 1.9 .18-7.9 .18 2.4 .18 2.6 .18 3.6 .18-8.9 .18 5.2 .18-3.1 .18 7.3 .18-8.0 .18 4.6 .18-1.0 .18-4.3 .18-2.4 .18 3.8 .18-.4 .18 .1 .18 5.2 .18-5.2 .18-.6 .18-4.5 .18 .7 .18 4.6 .18 .1 .18-4.1 .18 8.4 .18-2.1 .18-5.3 .18-4.7 .18 8.0 .18-6.4 .18 5.3 .18 4.4 .18-1.4 .18-4.1 .18 2.6 .18-3.5 .18 3.5 .18-8.6 .18 .7 .18 5.2 .18 .2 .18 .8 .18-4.0 .18 6.4 .18 1.6 .18-1.9 .18-1.5 .18-.8 .18 .4 .18-2.7 .18 2.8 .18-2.9 .18-3.5 .18 8.0 .18 .1 .18-8.4 .18 3.5 .18 4.4 .18-1.8 .18 .5 .18-7.8 .18 3.1 .18 3.3 .18-.1 .18-2.5 .18 .9 .18-.9 .18 .8 .18 4.9 .18-7.1 .18-4.3 .18 9.5 .18-6.7 .18 3.8 .18-3.9 .18 4.4 .18-2.7 .18-2.0 .18 11.0 .18-5.2 .18 .5 .18-3.9 .18 2.9 .18-2.5 .18-7.0 .18 5.5 .18 4.3 .18-1.0 .18-.8 .18-.1 .18 2.2 .18-9.0 .18 10.9 .18-2.1 .18-2.5 .18 .9 .18 .3 .18-9.2 .18 5.9 .18 9.8 .18-6.8 .18-1.0 .18-2.9 .18 4.4 .18-1.5 .18-11.3 .18 14.3 .18-2.8 .18-2.1 .18 .9 .18 1.0 .18 2.9 .18-4.9 .18-.6 .18-.4 .18 3.0 .18-.4 .18-1.0 .18-.3 .18 .8 .18-1.5 .18-.2 .18-3.7 .18 2.6 .18 .5 .18 2.6 .18-3.2 .18 3.1 .18 .5 .18 4.5 .18-4.5 .18 .6 .18-2.2 .18-3.3 .18-5.7 .18 10.7 .18 2.6 .18-9.8 .18 4.7 .18-.5 .18-2.6 .18 5.5 .18-3.0 .18 2.7 .18-2.0 .18-4.4 .18 2.9 .18-6.2 .18 9.1 .18 0 .18-6.2 .18 5.0 .18-6.6 .18 .2 .18 8.1 .18-8.8 .18 2.5 .18-.6 .18 .9 .18-4.2 .18-2.2 .18 12.5 .18-8.7 .18 6.9 .18-8.2 .18 6.8 .18-2.9 .18 2.2 .18-5.0 .18 8.0 .18-4.6 .18 4.8 .18-1.7 .18-9.0 .18 7.4 .18-2.7 .18 2.9 .18-2.3 .18 4.7 .18-3.5 .18-3.4 .18 1.1 .18-4.2 .18-4.7 .18 13.8 .18-9.1 .18 5.0 .18 .6 .18-3.5 .18 2.3 .18 2.1 .18-3.9 .18 3.9 .18 3.4 .18-3.9 .18-4.4 .18 5.0 .18-8.1 .18 7.8 .18-7.1 .18 7.5 .18-3.6 .18-2.3 .18-3.1 .18 3.7 .18-4.5 .18 8.2 .18-1.1 .18 1.1 .18 .5 .18-3.8 .18-2.2 .18 2.6 .18-.7 .18 4.2 .18-1.8 .18-3.4 .18 1.8 .18 0 .18 1.6 .18-1.5 .18 .2 .18-2.5 .18-.2 .18 5.0 .18-1.7 .18-7.1 .18 5.5 .18-.1 .18 6.3 .18-11.7 .18 14.5 .18-7.1 .18-4.1 .18 2.7 .18-.5 .18 4.7 .18-7.9 .18 7.1 .18 1.5 .18-6.3 .18-5.5 .18 6.6 .18 .3 .18 5.4 .18-7.3 .18 3.2 .18-5.3 .18 1.0 .18 2.0 .18-4.8 .18 5.5 .18 .1 .18 .5 .18-1.5 .18-4.8 .18 3.1 .18-.9 .18 7.2 .18 3.6 .18-9.3 .18-3.2 .18 .8 .18 .3 .18 1.2 .18-.2 .18 .4 .18-1.2 .18-3.8 .18 3.7 .18 4.7 .18 2.6 .18 .6 .18-4.9 .18 .1 .18 2.6 .18-4.5 .18 3.9 .18-1.1 .18-1.9 .18 4.9 .18-6.9 .18 9.3 .18-6.5 .18-2.0 .18 2.8 .18-5.3 .18-6.7 .18 4.7 .18-2.6 .18 4.6 .18 0 .18 6.9 .18-9.6 .18 5.5 .18 3.2 .18-4.2 .18-5.7 .18 4.6 .18 3.9 .18-3.4 .18 .7 .18 1.0 .18 6.0 .18-2.0 .18-6.7 .18-2.7 .18 3.3 .18 1.0 .18 1.0 .18 .8 .18-1.7 .18-1.8 .18-3.1 .18-.8 .18 9.6 .18-1.6 .18-1.5 .18 1.7 .18 3.7 .18-5.3 .18-3.3 .18-7.6 .18 12.2 .18-5.2 .18 2.9 .18-1.4 .18 1.9 .18 4.7 .18-3.4 .18-5.5 .18-3.0 .18-3.0 .18 10.4 .18-5.7 .18 1.8 .18 2.7 .18 1.3 .18-8.7 .18 13.4 .18-12.2 .18 5.2 .18-.6 .18-6.4 .18 6.5 .18 .3 .18 5.5 .18-5.9 .18-4.9 .18 4.4 .18-3.6 .18 1.4 .18 2.4 .18 2.3 .18-1.4 .18 .8"/><path stroke="#f5323c" d="M298.20 388.2l.18-.8 .18 2.0 .18 1.8 .18-1.4 .18 .6 .18 .5 .18-1.5 .18 .8 .18-3.3 .18 .6 .18 1.2 .18 .2 .18-2.5 .18 .9 .18 3.3 .18-2.6 .18-1.3 .18 2.9 .18 1.1 .18-1.9 .18 .6 .18 2.9 .18-1.9 .18-3.1 .18 2.3 .18 2.9 .18-1.7 .18 1.0 .18-3.3 .18 .6 .18 3.0 .18-1.7 .18-2.1 .18-.5 .18 3.7 .18 1.0 .18-3.6 .18-.3 .18-2.6 .18 1.4 .18 5.0 .18-6.2 .18 3.8 .18-.1 .18-1.1 .18 0 .18-.3 .18-1.2 .18 3.9 .18 1.6 .18-2.1 .18-2.1 .18-1.3 .18 1.7 .18 .3 .18 1.0 .18-2.5 .18 1.5 .18-4.4 .18 6.7 .18-3.9 .18 5.7 .18-1.0 .18-4.4 .18 2.9 .18 1.7 .18 0 .18-4.6 .18 3.1 .18 3.8 .18-1.5 .18-4.7 .18 6.7 .18-1.3 .18-9.2 .18 4.2 .18 1.1 .18-3.0 .18 8.0 .18-6.2 .18-.7 .18-.5 .18 2.1 .18-2.8 .18 .9 .18 .2 .18-1.1 .18-1.8 .18 1.7 .18 3.9 .18-1.4 .18 1.9 .18 .9 .18-3.3 .18-1.0 .18 4.0 .18-1.6 .18 .2 .18 1.1 .18-1.7 .18 .9 .18-.9 .18 3.2 .18-1.7 .18-2.7 .18 1.6 .18-.6 .18-.2 .18 .8 .18-1.5 .18 1.1 .18-2.2 .18 2.4 .18-5.9 .18 2.6 .18 3.8 .18 1.8 .18-4.3 .18 .1 .18 1.1 .18 .6 .18 1.4 .18-1.5 .18 1.6 .18-3.3 .18 .8 .18 5.9 .18-5.3 .18-.5 .18-2.0 .18 1.2 .18-2.4 .18 .5 .18 1.5 .18 .2 .18 1.3 .18 2.5 .18-3.3 .18 4.5 .18-2.5 .18 5.5 .18-10.7 .18 4.0 .18 1.8 .18 0 .18-3.1 .18 2.1 .18 2.8 .18-3.4 .18 1.6 .18 .3 .18-2.7 .18 7.7 .18-4.6 .18-6.1 .18 2.4 .18 2.1 .18 3.8 .18-5.8 .18 .5 .18 4.1 .18-1.7 .18-6.1 .18 2.8 .18 .2 .18 2.3 .18-1.8 .18 5.0 .18-2.9 .18 .9 .18-3.5 .18 6.4 .18-5.6 .18 2.2 .18-2.6 .18 .1 .18 .4 .18 2.7 .18 .7 .18 1.4 .18-6.0 .18 3.6 .18-2.1 .18-.5 .18-1.3 .18 .3 .18 1.3 .18 5.4 .18-.4 .18-7.5 .18 7.3 .18-5.4 .18 1.4 .18 .1 .18 4.1 .18-3.8 .18-6.0 .18 1.3 .18 5.0 .18-2.7 .18-1.0 .18 5.3 .18-3.3 .18 .8 .18-2.2 .18 4.1 .18 1.0 .18-3.3 .18 0 .18 2.4 .18-3.4 .18 .2 .18-.9 .18 6.6 .18-2.2 .18-1.5 .18-1.4 .18 2.8 .18-3.8 .18-2.5 .18 2.0 .18-1.1 .18-2.0 .18 4.3 .18 1.0 .18 3.6 .18 2.7 .18-7.4 .18 1.7 .18-3.8 .18 1.9 .18 1.2 .18 1.6 .18-3.5 .18 1.7 .18-3.9 .18 1.0 .18 0 .18 2.9 .18-4.4 .18 3.7 .18-2.2 .18 .1 .18 0 .18-2.7 .18 3.8 .18-.1 .18-2.8 .18 1.0 .18 2.5 .18 1.2 .18 1.8 .18-4.1 .18 3.8 .18 4.4 .18-4.7 .18-3.0 .18-3.5 .18 7.8 .18-2.2 .18-3.2 .18-.9 .18 2.9 .18-3.7 .18 4.9 .18-4.2 .18 1.2 .18 .4 .18-2.9 .18 1.6 .18 3.0 .18-1.6 .18-1.3 .18-3.7 .18 9.0 .18-3.2 .18 .2 .18 4.2 .18-5.3 .18-.1 .18-.9 .18 1.7 .18-5.6 .18 6.8 .18-1.5 .18 .2 .18-.9 .18-.4 .18 .4 .18 3.5 .18-5.1 .18 2.0 .18 6.0 .18-7.2 .18-.8 .18 6.8 .18-5.7 .18-2.4 .18 7.1 .18-.3 .18-1.1 .18 2.0 .18-8.0 .18 4.0 .18 .6 .18-.1 .18 1.3 .18-5.2 .18-2.7 .18 2.8 .18-4.5 .18 8.5 .18 1.0 .18 .8 .18-3.1 .18-.8 .18-.5 .18-.9 .18-.8 .18 6.0 .18-8.8 .18 3.7 .18 0 .18 1.5 .18 3.7 .18-5.9 .18-.7 .18 4.8 .18 2.4 .18-7.7 .18 2.4 .18 4.8 .18-.8 .18-.2 .18-1.8 .18-.3 .18 2.4 .18-7.5 .18 4.9 .18-.8 .18 .4 .18-4.9 .18 .8 .18 6.1 .18-1.5 .18 2.9 .18-6.1 .18 7.1 .18-3.2 .18-3.6 .18 5.0 .18-4.8 .18 1.6 .18 2.0 .18-.2 .18 2.0 .18-7.1 .18 5.8 .18-5.7 .18-1.5 .18 4.7 .18 .5 .18-.9 .18-2.3 .18 .2 .18 4.4 .18-6.0 .18 8.7 .18-8.0 .18 3.3 .18-1.1 .18 .1 .18-1.0 .18 .8 .18 3.2 .18-7.8 .18 7.8 .18 .1 .18-5.7 .18-1.8 .18 6.2 .18-4.0 .18-4.7 .18 2.5 .18 3.4 .18 .5 .18 3.0 .18-4.1 .18 1.7 .18-.6 .18-1.1 .18 3.8 .18 2.1 .18-4.8 .18 3.2 .18-5.0 .18 6.2 .18-3.9 .18-.1 .18 3.3 .18-5.9 .18 2.2 .18-1.3 .18-1.4 .18 3.3 .18-3.0 .18 2.3 .18 2.4 .18-3.4 .18 7.6 .18-6.8 .18-2.2 .18 .6 .18 3.7 .18-1.5 .18 .6 .18-3.2 .18-.5 .18-1.3 .18 4.0 .18 1.4 .18-5.4 .18-.4 .18 2.7 .18 4.6 .18-.2 .18-5.5 .18 2.7 .18-2.7 .18 1.7 .18-3.9 .18 3.2 .18 1.4 .18-2.7 .18 2.3 .18 2.9 .18-5.5 .18 2.0 .18-.8 .18 2.0 .18-1.7 .18-1.1 .18 4.0 .18-6.9 .18 5.9 .18-3.4 .18 3.0 .18-2.1 .18 4.1 .18-7.0 .18 6.3 .18-10.2 .18 4.1 .18 1.1 .18 2.8 .18-4.5 .18 1.3 .18 5.8 .18-6.3 .18 4.3 .18 .9 .18 .2 .18-1.3 .18-3.4 .18 3.6 .18-4.6 .18 .5 .18-1.6 .18-1.9 .18 4.3 .18 .6 .18 6.6 .18-4.2 .18-5.4 .18 7.6 .18-1.7 .18-1.5 .18-3.9 .18 5.4 .18-.5 .18-2.5 .18-.2 .18 .5 .18 2.3 .18-5.0 .18 3.9 .18 0 .18-3.0 .18 2.7 .18 1.5 .18-6.6 .18 4.6 .18-2.1 .18 7.3 .18-6.2 .18 5.9 .18-3.1 .18-.8 .18 2.0 .18-4.1 .18-2.5 .18 .1 .18-3.4 .18 7.7 .18 0 .18 3.9 .18-7.9 .18 3.6 .18 3.2 .18-2.2 .18-8.6 .18 4.5 .18 0 .18 .7 .18 1.5 .18-1.9 .18 3.1 .18-.3 .18 4.2 .18-3.2 .18-2.5 .18-.2 .18 2.6 .18-3.3 .18 2.4 .18-2.3 .18-7.3 .18 6.5 .18 6.4 .18-5.5 .18 4.0 .18-4.1 .18 6.8 .18-8.4 .18 4.8 .18-.6 .18-4.2 .18-.5 .18 3.2 .18 2.4 .18-3.5 .18-.6 .18 5.2 .18-1.9 .18-3.7 .18-2.6 .18-2.0 .18 7.2 .18 1.4 .18-6.4 .18 2.9 .18 1.6 .18 .7 .18-4.9 .18 4.6 .18-1.3 .18 1.6 .18-3.3 .18 7.5 .18-13.5 .18 6.3 .18 4.7 .18-7.0 .18 2.4 .18-2.1 .18 2.0 .18 1.2 .18 1.3 .18-1.1 .18-3.0 .18 1.7 .18 2.2 .18 2.6 .18-10.4 .18 2.6 .18 2.1 .18-5.0 .18 4.7 .18 5.6 .18-2.1 .18-5.5 .18 .1 .18 1.6 .18 4.8 .18-5.1 .18 .4 .18 4.0 .18-2.0 .18 1.7 .18-6.5 .18 7.8 .18-3.6 .18-2.6 .18 1.2 .18 2.3 .18 2.8 .18-7.6 .18 1.8 .18-1.0 .18-.5 .18 6.4 .18-4.9 .18 8.5 .18-8.7 .18 4.2 .18-2.0 .18-1.4 .18-2.5 .18-.1 .18 4.0 .18-.2 .18 1.1 .18 3.5 .18 4.1 .18-14.0 .18 4.5 .18 4.3 .18-8.2 .18 1.1 .18 4.6 .18-1.0 .18-.2 .18-4.9 .18 8.2 .18-.4 .18-.2 .18-5.4 .18 4.8 .18-1.0 .18 6.4 .18-10.3 .18 3.2 .18-1.4 .18-1.5 .18-1.8 .18 2.2 .18 .5 .18-3.0 .18 6.2 .18-4.0 .18 1.0 .18 1.3 .18-7.9 .18 13.4 .18-8.0 .18 5.2 .18 2.6 .18-8.5 .18 6.7 .18-4.8 .18 4.0 .18 4.8 .18-9.6 .18 4.4 .18-.8 .18 4.7 .18-6.0 .18-1.8 .18 3.5 .18-6.2 .18-1.4 .18 5.9 .18-6.7 .18 2.8 .18 6.6 .18-2.5 .18-.7 .18-5.2 .18 5.3 .18-1.3 .18 4.8 .18-5.5 .18 8.7 .18-7.2 .18 1.5 .18-8.0 .18-.4 .18 2.4 .18 .7 .18 4.8 .18-.4 .18 7.6 .18-10.4 .18 3.6 .18-.6 .18-3.8 .18 3.2 .18 2.2 .18-6.6 .18-3.2 .18 10.5 .18-5.2 .18 4.0 .18-.7 .18-.3 .18 .2 .18-5.5 .18 2.3 .18 1.4 .18 4.5 .18-9.1 .18 .3 .18 3.4 .18-2.9 .18 .8 .18 .7 .18-3.1 .18 7.0 .18 2.6 .18-7.2 .18 1.0 .18 1.3 .18 6.2 .18-2.3 .18 1.8 .18-1.8 .18 1.3 .18 3.2 .18-6.9 .18 .7 .18-2.8 .18 4.7 .18-8.5 .18 11.8 .18-3.6 .18-3.2 .18-.4 .18-2.3 .18 1.9 .18-1.5 .18 3.3 .18-5.7 .18 4.4 .18 4.0 .18-4.5 .18-.6 .18 .3 .18-.5 .18-2.2 .18 3.7 .18 .1 .18-3.4 .18 1.8 .18 .6 .18-3.8 .18 4.3 .18-9.8 .18 7.8 .18-2.8 .18 6.0 .18-4.5 .18 1.1 .18 4.4 .18-9.6 .18 7.4 .18-.9 .18 3.2 .18 2.5 .18-5.9 .18-2.6 .18 4.2 .18-8.1 .18 .3 .18 8.0 .18-8.7 .18 3.2 .18 1.0 .18-3.3 .18 7.6 .18 1.6 .18 1.3 .18-5.9 .18-4.7 .18 1.6 .18 5.1 .18-6.3 .18 2.7 .18-.8 .18 1.5 .18 3.0 .18-6.6 .18 2.8 .18 1.7 .18 1.0 .18-2.3 .18 3.5 .18-3.6 .18 6.2 .18-10.8 .18 9.8 .18-6.5 .18 3.6 .18-4.0 .18-2.1 .18 .9 .18 2.7 .18-1.3 .18-2.1 .18 4.1 .18 5.4 .18-5.7 .18 3.3 .18-8.8 .18 .7 .18 3.2 .18 3.3 .18-6.9 .18-.7 .18 9.5 .18-11.5 .18 2.6 .18 5.8 .18 .2 .18 1.3 .18-.3 .18 .1 .18 .6 .18-6.4 .18-.2 .18 .6 .18 2.0 .18 .9 .18-5.4 .18 1.0 .18 6.4 .18-4.9 .18-1.5 .18 4.8 .18-3.9 .18 1.3 .18 1.4 .18 .6 .18 2.0 .18-7.6 .18 .9 .18 .8 .18-3.6 .18 10.5 .18-8.8 .18 1.5 .18 9.0 .18-10.5 .18-1.0 .18 2.0 .18 3.3 .18 1.0 .18-3.3 .18-5.1 .18 8.0 .18-1.2 .18-3.1 .18-1.3 .18-2.9 .18 4.2 .18 4.0 .18-4.5 .18 4.3 .18 1.6 .18-1.5 .18-6.8 .18 2.3 .18 9.5 .18-10.2 .18 3.0 .18 6.5 .18-3.2 .18 0 .18-2.4 .18-1.0 .18-8.1 .18 3.8 .18 12.2 .18-9.0 .18 6.5 .18-9.0 .18 2.6 .18-3.5 .18 4.0 .18-1.1 .18 .2 .18 2.7 .18-9.2 .18-.6 .18 11.9 .18-6.9 .18-1.3 .18 6.2 .18 2.6 .18-3.7 .18-1.5 .18-1.0 .18-3.1 .18-2.8 .18-1.7 .18 3.0 .18 12.4 .18-9.6 .18 8.3 .18-8.8 .18-2.3 .18 2.2 .18 1.1 .18-2.3 .18-2.9 .18 8.3 .18-2.4 .18-3.4 .18 4.9 .18-8.6 .18 1.3 .18 1.9 .18 2.5 .18 2.4 .18-4.1 .18 2.9 .18 0 .18 1.6 .18-6.6 .18 5.7 .18-11.4 .18 6.3 .18 1.7 .18 .1 .18 1.7 .18-9.3 .18 7.2 .18 2.8 .18 1.1 .18-.8 .18-.3 .18-6.3 .18-1.5 .18 4.4 .18-3.6 .18 3.8 .18 6.3 .18-2.3 .18-5.1 .18-1.1 .18-.6 .18-1.5 .18 3.4 .18 .3 .18 8.6 .18-9.0 .18-6.9 .18 12.3 .18-9.0 .18 7.2 .18-12.7 .18 8.6 .18 .9 .18-4.9 .18 3.6 .18-5.3 .18 5.6 .18-4.0 .18 4.5 .18-2.8 .18 3.6 .18-.2 .18 .7 .18-1.2 .18-2.6 .18 1.4 .18 2.6 .18-2.6 .18 2.4 .18-11.8 .18 6.7 .18 2.6 .18 3.7 .18-6.1 .18-.6 .18 3.1 .18 3.0 .18-5.3 .18 .3 .18 1.2 .18-4.5 .18 .9 .18 3.1 .18-2.1 .18 9.0 .18-1.6 .18-5.1 .18 .9 .18-2.4 .18-.7 .18-2.2 .18-1.7 .18 8.0 .18-3.7 .18 2.7 .18-4.2 .18 3.4 .18 7.7 .18-6.6 .18-.6 .18-4.7 .18 5.2 .18-1.6 .18-4.6 .18 3.8 .18-4.3 .18 2.3 .18-.7 .18-4.0 .18 6.5 .18-3.6 .18 .4 .18-1.3 .18-.6 .18 2.4 .18 3.1 .18-3.9 .18 .5 .18-4.2 .18 9.4 .18-5.6 .18 1.2 .18-7.2 .18 2.3 .18 .7 .18 5.6 .18-3.0 .18-7.2 .18 8.3 .18-1.2 .18 3.8 .18-3.4 .18 .2 .18 6.0 .18-11.2 .18 5.1 .18 1.1 .18 7.7 .18-10.0 .18-.2 .18-5.0 .18 3.6 .18 1.4 .18-1.4 .18 10.8 .18-9.7 .18 2.3 .18 4.3 .18 .6 .18-4.5 .18 .6 .18-3.7 .18 6.2 .18-4.4 .18-1.4 .18 3.4 .18-2.8 .18-.3 .18 5.2 .18 .4 .18-9.9 .18 7.2 .18-4.2 .18 6.1 .18-4.6 .18-.2 .18 .6 .18 1.1 .18 2.2 .18-2.9 .18-.4 .18-1.0 .18 2.8 .18-5.3 .18 1.5 .18 9.2 .18-7.8 .18 3.2 .18-4.6 .18 4.4 .18-.2 .18-1.5 .18-.9 .18-.2 .18 .3 .18 .8 .18 5.0 .18-6.4 .18 6.1 .18-7.5 .18 5.0 .18-6.7 .18 1.5 .18 .5 .18-3.1 .18 7.6 .18 1.6 .18-.7 .18-10.2 .18 1.3 .18 6.2 .18-8.9 .18 12.2 .18 .9 .18 1.1 .18-7.9 .18 8.5 .18-8.3 .18-4.1 .18 3.9 .18-1.7 .18-1.3 .18 5.2 .18-2.7 .18 1.8 .18 1.1 .18-1.4 .18 3.2 .18-1.1 .18-2.5 .18-.1 .18 .4 .18 2.3 .18-4.2 .18 1.2 .18-1.7 .18 1.5 .18-3.7 .18-2.7 .18-1.9 .18 8.2 .18 .8 .18-2.1 .18 6.0 .18-6.7 .18 2.1 .18 3.0 .18-1.9 .18 5.2 .18-4.7 .18-4.6 .18 1.7 .18 3.9 .18 2.9 .18-5.5 .18-4.9 .18 2.1 .18 4.6 .18-.6 .18-8.1 .18 4.6 .18 1.1 .18-4.1 .18 8.0 .18-2.8 .18-1.1 .18-5.9 .18 7.4 .18 1.8 .18 .4 .18-5.5 .18 1.7 .18-4.7 .18 8.2 .18-6.6 .18-.6 .18 12.0 .18-4.4 .18-4.3 .18 4.7 .18-4.6 .18-3.2 .18-5.3 .18 3.3 .18 3.0 .18 3.8 .18-3.3 .18-3.7 .18 6.9 .18 6.6 .18-2.6 .18-9.9 .18 9.4 .18-8.9 .18-1.0 .18 .8 .18 5.7 .18-5.9 .18 6.0 .18 2.2 .18-7.6 .18 3.3 .18 7.6 .18-7.3 .18-1.3 .18-.1 .18-1.7 .18 .3 .18-5.0 .18 5.4 .18-.9 .18 5.1 .18 1.4 .18-3.3 .18 6.6 .18-3.0 .18-15.9 .18 7.4 .18 4.1 .18-.1 .18 3.9 .18-1.6 .18 1.0 .18-9.2 .18 1.0 .18 .6 .18 2.2 .18-1.6 .18-2.9 .18 14.4 .18-4.8 .18-9.3 .18-1.8 .18 8.7 .18-2.1 .18 6.3 .18-6.4 .18-2.4 .18 3.8 .18 3.2 .18-3.7 .18 .6 .18-2.3 .18 5.8 .18-4.4 .18 0 .18-.3 .18 3.2 .18-1.2 .18-.2 .18-.1 .18-1.4 .18-5.3 .18-3.8 .18 7.2 .18-1.0 .18 3.0 .18-2.7 .18 3.5 .18-2.7 .18-.1 .18-10.0 .18 6.9 .18-1.9 .18 1.6 .18 8.8 .18-11.5 .18 10.8 .18-2.2 .18-.7 .18-2.7 .18 6.1 .18-5.2 .18-3.7 .18-4.5 .18 6.1 .18 5.6 .18 6.0 .18-6.5 .18-5.5 .18 1.9 .18-1.1 .18-6.9 .18 10.1 .18 2.1 .18-11.2 .18-.6 .18 13.8 .18-12.1 .18 5.9 .18-8.7 .18 10.3 .18-12.4 .18 8.3 .18 7.0 .18-3.8 .18-4.8 .18 .9 .18 1.0 .18-.3 .18 4.8 .18-5.6 .18-2.9 .18 6.5 .18-5.9 .18-5.7 .18 11.8 .18 4.5 .18-6.3"/><path stroke="#1c6cf0" d="M298.20 374.4l.18-1.3 .18-1.9 .18 1.8 .18 .3 .18 .5 .18-2.1 .18-2.2 .18 5.1 .18 3.8 .18-4.4 .18-2.0 .18 4.6 .18-3.0 .18-.9 .18 1.7 .18-.4 .18-4.9 .18 3.0 .18 6.2 .18-7.3 .18 4.8 .18-5.2 .18 .4 .18 1.8 .18-3.2 .18 2.2 .18 6.1 .18-5.3 .18 2.6 .18-2.3 .18-1.0 .18 1.9 .18-1.1 .18 1.2 .18-1.7 .18 .1 .18-2.0 .18 3.3 .18-2.0 .18 0 .18 1.1 .18 2.1 .18 .1 .18-4.7 .18 1.3 .18 4.9 .18-5.6 .18 3.1 .18-3.4 .18 .7 .18-2.6 .18 5.0 .18-3.1 .18-3.7 .18 2.6 .18 7.0 .18-2.3 .18-3.9 .18-1.4 .18-3.2 .18 6.5 .18-1.1 .18 1.2 .18-.4 .18-.2 .18-.9 .18 1.7 .18 .4 .18-3.7 .18 6.7 .18-6.7 .18-5.1 .18 2.7 .18 1.6 .18 1.7 .18 .5 .18-1.7 .18 2.1 .18 2.2 .18-6.2 .18 5.0 .18-1.7 .18-7.1 .18 8.0 .18-1.5 .18-2.1 .18 6.2 .18-8.7 .18 5.3 .18-3.0 .18 1.6 .18 2.6 .18-2.1 .18 3.5 .18-4.3 .18-4.1 .18 5.6 .18 3.0 .18-2.3 .18-2.4 .18 5.8 .18 .6 .18-1.5 .18-1.5 .18 2.3 .18-1.0 .18-1.3 .18-1.8 .18 1.2 .18 3.7 .18-.2 .18 3.8 .18-3.4 .18 1.7 .18-1.4 .18 .6 .18-2.1 .18 0 .18 2.9 .18 2.0 .18-7.1 .18 1.8 .18 3.3 .18 2.0 .18-5.0 .18 4.2 .18-.9 .18-.6 .18-1.1 .18 .9 .18-3.9 .18 2.9 .18 3.9 .18-2.4 .18-.4 .18-2.1 .18 .3 .18 1.8 .18 2.5 .18-2.1 .18 .8 .18 1.0 .18-2.8 .18 0 .18-.8 .18 3.2 .18-4.1 .18 2.1 .18-.2 .18 .8 .18-1.2 .18 4.3 .18-5.0 .18 4.0 .18-2.7 .18 4.7 .18-7.3 .18 2.6 .18-3.9 .18 3.8 .18 1.7 .18 .6 .18-3.4 .18 3.3 .18-1.8 .18 .3 .18 .6 .18 4.8 .18-4.8 .18 2.5 .18-2.7 .18-2.6 .18 3.9 .18-2.2 .18-1.4 .18-1.4 .18 4.3 .18 1.1 .18-3.6 .18-2.0 .18 5.2 .18-4.1 .18 4.2 .18-4.5 .18 .2 .18-.9 .18 4.5 .18-8.0 .18 7.5 .18 1.2 .18-4.2 .18 5.3 .18-1.3 .18 1.6 .18-3.2 .18 .1 .18-4.1 .18 3.1 .18 4.0 .18-5.0 .18-1.4 .18 1.3 .18 .8 .18 4.4 .18-3.7 .18-3.1 .18 3.1 .18 1.9 .18-3.6 .18 3.1 .18-5.8 .18 6.2 .18-4.6 .18 3.5 .18-1.6 .18 4.9 .18-6.1 .18 .7 .18 .1 .18-1.1 .18-.3 .18 4.7 .18-3.7 .18 3.1 .18-6.1 .18 6.2 .18-2.5 .18-.2 .18-.8 .18-1.1 .18 1.3 .18-.3 .18 3.0 .18-1.6 .18-6.2 .18 5.3 .18-1.5 .18 1.9 .18-4.7 .18 8.6 .18-3.3 .18-3.2 .18 4.2 .18-3.3 .18 3.6 .18-.5 .18-3.2 .18 2.5 .18-1.4 .18 1.0 .18-5.1 .18 5.1 .18-3.8 .18 2.8 .18 6.9 .18-7.1 .18-5.2 .18 3.9 .18 1.8 .18 1.9 .18-2.7 .18 3.5 .18-2.0 .18-1.4 .18-2.3 .18 1.0 .18 4.3 .18-1.8 .18-1.7 .18 1.6 .18 3.7 .18-11.9 .18 9.3 .18-3.5 .18-.2 .18-.7 .18 2.3 .18 2.5 .18-2.1 .18-1.1 .18 4.0 .18-3.6 .18 .3 .18 5.5 .18-8.7 .18 .7 .18-1.2 .18 .6 .18 7.6 .18-6.9 .18 5.1 .18-5.4 .18-.4 .18-.7 .18 .7 .18 .5 .18 3.7 .18-2.5 .18-.3 .18 5.5 .18-6.7 .18 2.2 .18-2.6 .18 2.8 .18-2.7 .18 2.0 .18 .9 .18-2.3 .18-7.6 .18 9.3 .18-7.1 .18 2.0 .18-1.3 .18 .9 .18 8.5 .18-10.7 .18 3.0 .18 5.8 .18-3.7 .18-3.9 .18 4.9 .18 4.7 .18-7.0 .18-.1 .18 4.5 .18-3.0 .18 .3 .18 6.6 .18-6.6 .18 5.4 .18-3.6 .18 .3 .18-5.7 .18 .2 .18 1.3 .18-5.5 .18 7.0 .18-4.5 .18 5.3 .18-3.1 .18-4.4 .18 7.2 .18-7.0 .18 5.3 .18 .6 .18-2.6 .18 3.8 .18-3.0 .18 2.6 .18 .2 .18-3.6 .18 2.7 .18 .9 .18-.5 .18-1.7 .18-5.0 .18 6.6 .18 0 .18-6.9 .18-1.5 .18 7.7 .18-.5 .18-1.1 .18 1.5 .18-.4 .18 .2 .18-5.0 .18 4.8 .18-7.8 .18 8.1 .18-2.0 .18-3.4 .18 7.4 .18 1.2 .18-6.0 .18-.9 .18 6.3 .18-5.9 .18 4.3 .18-6.1 .18 8.5 .18-.9 .18-9.0 .18 3.7 .18 1.8 .18 3.2 .18-7.0 .18 2.0 .18-1.9 .18 2.4 .18 4.7 .18-5.0 .18 .3 .18-1.3 .18 4.2 .18-.3 .18-2.2 .18 4.0 .18-6.9 .18 4.4 .18-1.9 .18-1.9 .18 .4 .18-.9 .18 .7 .18 4.1 .18-10.7 .18 7.6 .18 1.9 .18 .5 .18-2.2 .18 2.5 .18-4.8 .18-.6 .18 3.7 .18 3.1 .18-8.5 .18 4.5 .18 1.6 .18-2.5 .18 1.7 .18 .5 .18 1.1 .18-2.7 .18 .2 .18 1.2 .18-2.2 .18 1.2 .18-8.2 .18 1.0 .18 8.2 .18-4.3 .18 5.7 .18-2.3 .18 3.2 .18-4.6 .18 .3 .18-.6 .18 1.4 .18 .9 .18-1.3 .18-.6 .18-2.1 .18 1.4 .18 4.5 .18-9.0 .18 6.1 .18-3.4 .18 2.6 .18-4.8 .18 1.2 .18 .6 .18 2.7 .18-3.3 .18-5.6 .18 9.8 .18-6.1 .18 2.8 .18-5.3 .18 7.3 .18-5.6 .18 2.2 .18 1.6 .18 5.9 .18-7.2 .18-1.7 .18 3.4 .18-.3 .18-2.6 .18-.2 .18 .5 .18-5.0 .18 7.1 .18-2.3 .18-3.9 .18 5.6 .18 2.7 .18 3.6 .18-8.3 .18 4.7 .18-1.6 .18-1.3 .18 0 .18-2.2 .18 .3 .18-.5 .18 9.3 .18-.2 .18-6.5 .18-.4 .18-3.6 .18-2.1 .18 6.4 .18-1.7 .18-7.6 .18 4.5 .18 3.1 .18 2.1 .18-9.8 .18 7.6 .18-2.4 .18 3.9 .18-1.1 .18-1.7 .18 2.0 .18-8.7 .18 8.2 .18-4.3 .18 2.1 .18 3.7 .18 1.7 .18-10.0 .18 9.9 .18-1.0 .18 2.6 .18-3.7 .18-3.9 .18-4.3 .18 9.1 .18-5.1 .18-2.3 .18 3.1 .18-1.8 .18 5.3 .18-5.5 .18-.4 .18 4.4 .18-4.8 .18 .1 .18 .1 .18 5.7 .18 3.6 .18-3.6 .18-9.6 .18 5.5 .18-4.7 .18 3.8 .18 1.7 .18 0 .18-2.5 .18-.9 .18 2.9 .18-.8 .18 1.2 .18-7.3 .18 .9 .18 1.8 .18 .7 .18 2.7 .18 2.3 .18-3.1 .18 .7 .18-4.9 .18 7.6 .18 4.0 .18-9.4 .18 3.0 .18 .1 .18-2.9 .18-.1 .18 2.3 .18-.7 .18-2.7 .18 .9 .18 1.3 .18 .3 .18-3.0 .18 1.4 .18 7.0 .18-7.0 .18 .8 .18-2.1 .18 4.4 .18-3.7 .18 1.0 .18-3.2 .18 4.5 .18 1.8 .18 .1 .18-.9 .18 2.4 .18-1.7 .18-1.5 .18-.1 .18 3.8 .18-2.5 .18-.8 .18-3.1 .18 1.1 .18 8.7 .18-3.1 .18-5.0 .18 1.5 .18-3.2 .18 3.7 .18 2.6 .18 4.3 .18-11.6 .18 8.9 .18 3.3 .18-7.0 .18 3.8 .18-3.0 .18-.5 .18 2.3 .18 4.1 .18-7.3 .18 4.1 .18 1.3 .18-2.9 .18 2.8 .18-2.3 .18 .6 .18-2.6 .18 7.9 .18-4.1 .18-1.5 .18 1.1 .18 1.0 .18-4.7 .18 5.3 .18 1.0 .18-4.1 .18 .5 .18 0 .18-2.3 .18-2.4 .18 5.5 .18-5.5 .18-.1 .18 1.5 .18-1.1 .18 4.1 .18 2.3 .18 4.4 .18-2.4 .18-.4 .18-5.5 .18-3.8 .18 2.5 .18 3.0 .18 4.8 .18-6.1 .18 5.4 .18-5.3 .18 2.1 .18 2.4 .18-7.3 .18 3.7 .18 4.6 .18-2.8 .18-2.8 .18 1.4 .18-5.9 .18 5.7 .18-.9 .18 4.3 .18-6.9 .18 3.4 .18-3.5 .18 5.0 .18-.2 .18-1.2 .18 .7 .18-.3 .18-2.2 .18-5.9 .18 7.8 .18-6.2 .18-2.3 .18 3.1 .18 .1 .18 3.9 .18-2.2 .18-4.6 .18 4.4 .18 6.1 .18-6.1 .18-3.5 .18-2.1 .18 8.4 .18-9.6 .18 3.9 .18 2.5 .18-3.8 .18 3.1 .18 .8 .18 3.7 .18-2.9 .18-.5 .18-3.3 .18 6.0 .18-2.3 .18-.1 .18-1.7 .18-7.7 .18 6.6 .18-7.6 .18 12.3 .18-11.3 .18 10.6 .18-4.6 .18 1.3 .18 .8 .18-3.5 .18 9.1 .18-2.5 .18 1.2 .18-5.0 .18 .6 .18 3.8 .18-4.9 .18 3.7 .18-7.1 .18 1.9 .18 10.1 .18-9.5 .18-2.0 .18-.3 .18 6.0 .18-.1 .18-6.1 .18 3.2 .18-4.1 .18-.1 .18 7.3 .18-5.1 .18 .4 .18 1.3 .18-2.6 .18-2.8 .18 1.4 .18 2.9 .18 5.4 .18-1.6 .18-1.8 .18 .2 .18-.9 .18-2.5 .18 3.7 .18-9.2 .18 9.2 .18 2.8 .18-4.8 .18-2.3 .18-.3 .18-4.5 .18 2.3 .18-.8 .18 3.8 .18 5.5 .18-1.5 .18 .7 .18-.2 .18 1.1 .18-6.3 .18-2.1 .18-.3 .18-2.1 .18 4.4 .18 1.0 .18-1.5 .18 3.0 .18 3.3 .18-13.1 .18 7.9 .18 1.6 .18-3.9 .18-1.0 .18 1.2 .18 4.3 .18-12.2 .18 7.3 .18 2.1 .18-1.6 .18-.5 .18-1.6 .18-5.3 .18 3.6 .18-3.1 .18 11.5 .18-9.1 .18-.7 .18 3.8 .18-1.4 .18-4.4 .18-.8 .18 10.1 .18-1.7 .18-2.5 .18-2.9 .18 3.8 .18 2.5 .18 .5 .18-1.1 .18 5.3 .18-4.8 .18 4.4 .18-.8 .18-3.8 .18-3.1 .18-1.8 .18-3.5 .18 4.6 .18-6.3 .18 10.0 .18 1.4 .18-3.0 .18-4.8 .18 6.1 .18 5.5 .18-8.5 .18 7.1 .18-9.6 .18 5.5 .18-4.0 .18 3.7 .18 0 .18 .9 .18-10.4 .18 1.8 .18 5.6 .18-1.0 .18-.3 .18 4.1 .18 1.1 .18 3.9 .18-11.6 .18 2.2 .18-4.5 .18 10.3 .18-9.3 .18-1.8 .18-1.4 .18 .9 .18 4.4 .18-.2 .18-.4 .18-1.7 .18 2.5 .18-.5 .18 2.7 .18-.7 .18-4.1 .18 11.9 .18-13.9 .18 1.6 .18 3.6 .18-.2 .18-3.5 .18 3.7 .18 2.5 .18-5.9 .18-2.6 .18 5.2 .18-3.5 .18 4.9 .18-12.0 .18 13.1 .18-3.4 .18 3.9 .18-.2 .18-.6 .18 5.8 .18-10.8 .18 6.6 .18-8.9 .18 .1 .18 6.8 .18-3.3 .18-3.3 .18 6.5 .18-2.7 .18 4.4 .18-8.1 .18 6.0 .18-3.2 .18 3.9 .18 3.0 .18 .7 .18-5.4 .18-3.2 .18-6.3 .18 4.9 .18-.4 .18-7.6 .18 18.1 .18-2.5 .18-8.4 .18-.7 .18 1.7 .18-1.0 .18-8.5 .18 12.6 .18-6.7 .18 3.2 .18 2.5 .18-7.1 .18 8.4 .18 4.6 .18-9.2 .18 5.0 .18-9.4 .18 9.7 .18-7.3 .18-3.0 .18 3.2 .18 6.1 .18-4.6 .18 1.9 .18 .7 .18 1.6 .18 5.6 .18-10.5 .18 5.0 .18-5.6 .18 8.2 .18-7.7 .18 0 .18-1.8 .18-.4 .18 8.1 .18-11.8 .18 .8 .18 3.9 .18 4.6 .18-2.5 .18 .1 .18-.6 .18-1.0 .18 4.9 .18-11.6 .18 8.5 .18-1.2 .18-1.2 .18 1.3 .18-2.7 .18 6.1 .18-9.6 .18 9.2 .18-4.0 .18-2.4 .18-2.0 .18 6.9 .18 .4 .18-9.9 .18 2.3 .18-3.1 .18 10.0 .18-2.9 .18-.8 .18 7.2 .18-4.3 .18-.2 .18-3.7 .18-6.4 .18 3.0 .18 5.0 .18-4.3 .18 4.9 .18-4.5 .18-1.9 .18 7.1 .18-8.2 .18 .9 .18 2.5 .18 1.6 .18-2.2 .18-4.5 .18 4.7 .18 2.8 .18-3.3 .18-5.1 .18 11.1 .18-9.3 .18 13.6 .18-7.5 .18-.4 .18-4.1 .18 3.5 .18 3.4 .18 5.2 .18-9.1 .18-6.4 .18 9.7 .18-5.8 .18 .8 .18 10.3 .18-9.9 .18 3.5 .18-1.1 .18-4.5 .18 1.6 .18-1.2 .18 2.7 .18-8.3 .18 8.9 .18 5.5 .18-6.3 .18-.7 .18-9.4 .18 17.6 .18-1.7 .18-11.6 .18 10.4 .18-5.1 .18 1.7 .18 5.5 .18-1.7 .18-9.1 .18-2.5 .18 10.5 .18-5.4 .18-2.7 .18 7.0 .18-5.1 .18 .7 .18-3.1 .18 6.8 .18-2.5 .18-4.5 .18 2.2 .18 3.8 .18 1.4 .18-6.2 .18-1.7 .18 3.0 .18-5.7 .18 4.8 .18 1.9 .18-.8 .18 2.5 .18-3.9 .18 3.0 .18 1.8 .18-.3 .18-3.7 .18-3.4 .18 10.0 .18-1.2 .18-5.0 .18-2.5 .18 .9 .18-4.2 .18 5.0 .18 2.9 .18-2.6 .18 .9 .18-3.9 .18-1.7 .18 1.9 .18-2.8 .18 10.6 .18-7.3 .18 4.0 .18-1.5 .18 6.2 .18-13.4 .18 7.5 .18 .6 .18-6.1 .18 6.9 .18-.2 .18-1.4 .18-4.4 .18 3.9 .18 2.8 .18-4.6 .18-5.9 .18 7.8 .18-7.3 .18 1.4 .18 3.2 .18 .5 .18-1.2 .18-4.3 .18 0 .18 2.9 .18 1.3 .18 2.6 .18-1.6 .18-1.8 .18 8.5 .18-6.3 .18 2.6 .18-3.3 .18-5.2 .18 6.5 .18-.9 .18 1.6 .18-1.2 .18-2.3 .18 5.2 .18-2.0 .18-8.8 .18 12.8 .18-6.9 .18-3.0 .18 1.6 .18 2.6 .18 .2 .18-5.0 .18 4.4 .18-2.8 .18 2.3 .18-7.7 .18 12.7 .18-1.4 .18 1.3 .18-1.5 .18 .4 .18-3.9 .18-3.2 .18 .9 .18-1.1 .18 8.1 .18-1.1 .18-5.4 .18-10.4 .18 .9 .18 5.2 .18 10.2 .18-8.6 .18 1.5 .18 10.6 .18-7.0 .18-8.1 .18 2.8 .18-1.3 .18-3.6 .18 12.9 .18-4.2 .18-2.6 .18 1.2 .18 3.7 .18-10.4 .18 2.8 .18 9.3 .18-5.1 .18-4.1 .18 5.0 .18-.1 .18-4.0 .18 11.6 .18-7.9 .18-5.2 .18 5.1 .18 7.1 .18-4.7 .18 .5 .18-9.9 .18 3.6 .18 3.3 .18-2.4 .18 0 .18-2.3 .18-2.3 .18 10.6 .18-2.3 .18 7.2 .18-13.8 .18-.7 .18 12.3 .18-14.6 .18 11.6 .18 0 .18-9.7 .18 3.0 .18 4.6 .18-2.2 .18-1.9 .18 .6 .18-3.2 .18 1.9 .18 .2 .18-.9 .18 2.9 .18-5.8 .18 5.5 .18-1.1 .18 4.9 .18-10.3 .18 10.1 .18-6.4 .18-4.5 .18 4.3 .18 1.3 .18 10.6 .18-15.4 .18 1.0 .18 10.7 .18-11.0 .18 1.0 .18-2.2 .18 10.1 .18-13.0 .18 4.2 .18-3.8 .18 9.3 .18-.7 .18-3.8 .18 10.0 .18-7.0 .18-2.3 .18 .5 .18-1.6 .18 4.8 .18-2.0 .18-6.2 .18 6.2 .18-3.9 .18-3.2 .18 6.1 .18 3.0 .18-5.9 .18 4.1 .18 7.6 .18-6.0 .18 3.3 .18-9.5 .18 2.5 .18 4.6 .18-1.7 .18 4.0 .18-4.1 .18-4.5 .18 7.0 .18-.2 .18 2.0 .18-9.3 .18 7.5 .18-9.2 .18 .6 .18 3.6 .18 3.1 .18-.2 .18-2.6 .18 3.2 .18-6.4 .18 3.5 .18-.1 .18 5.6 .18-6.1 .18-2.9 .18 2.8 .18-.3 .18-8.1 .18 6.0 .18 4.0 .18-1.3 .18-2.5 .18 11.6 .18-9.6 .18 .9 .18-3.9 .18 2.7 .18 1.4 .18-11.5 .18 5.5 .18 4.4 .18 2.7 .18 0 .18-7.2 .18 11.8 .18-5.9 .18-4.5 .18 7.5 .18-1.4 .18-2.9 .18-.6 .18-2.9 .18-.8 .18-6.3 .18 11.7 .18-.9 .18-.1 .18-3.4 .18-2.1 .18 7.0 .18-1.1 .18-7.1 .18 7.3 .18 4.9 .18-8.9 .18 2.2 .18-1.2 .18-1.3 .18-3.7 .18 11.3 .18-1.3 .18-7.2 .18 13.6 .18-11.5 .18 1.2 .18-4.6 .18-2.9 .18 5.6 .18 3.0"/><path stroke="#20ad62" d="M298.20 357.2l.18-11.5 .18 9.1 .18-2.1 .18 .6 .18-1.2 .18-.2 .18-2.5 .18 5.5 .18-6.0 .18 3.4 .18-2.0 .18 3.2 .18-.5 .18-3.0 .18 3.1 .18-5.0 .18 4.7 .18-3.9 .18 3.9 .18-5.0 .18 1.8 .18 6.7 .18-1.8 .18-4.1 .18-5.6 .18 7.0 .18 1.8 .18-2.4 .18-2.0 .18-2.0 .18 1.7 .18 6.1 .18-8.3 .18 4.5 .18-.5 .18 .8 .18-1.6 .18-.9 .18 .3 .18 2.1 .18-1.0 .18-.5 .18-1.5 .18 .7 .18 .5 .18-3.5 .18 7.3 .18-1.0 .18-2.7 .18 .1 .18 6.4 .18-5.6 .18-.9 .18 2.2 .18 .1 .18-3.9 .18-.5 .18 1.0 .18 .9 .18 6.9 .18-1.6 .18-8.3 .18 5.3 .18-.6 .18 1.7 .18-2.1 .18-2.5 .18 3.7 .18-3.2 .18-2.4 .18 2.0 .18 3.4 .18-5.9 .18-2.3 .18 3.8 .18-.3 .18-1.0 .18-1.4 .18 2.8 .18 1.4 .18-1.1 .18-3.1 .18-2.7 .18 5.1 .18-1.2 .18-3.1 .18 2.8 .18 1.9 .18 4.2 .18-7.1 .18 3.0 .18-4.1 .18 1.7 .18 .8 .18 2.2 .18-2.2 .18 4.1 .18-3.3 .18 1.9 .18 7.2 .18-6.8 .18 .8 .18 1.0 .18 .1 .18-.4 .18 3.9 .18 .6 .18-4.0 .18 3.3 .18-3.2 .18 5.8 .18-3.7 .18-.3 .18 0 .18 2.9 .18-.7 .18 3.6 .18 .4 .18-4.3 .18 .1 .18 .3 .18 1.3 .18 .1 .18 3.7 .18-1.1 .18-7.0 .18 6.5 .18-1.8 .18 4.4 .18-3.4 .18 .9 .18-1.4 .18 2.2 .18-1.7 .18 6.6 .18-10.0 .18 2.3 .18-4.8 .18 5.5 .18 .7 .18 .5 .18 3.0 .18 1.5 .18-8.9 .18 1.4 .18 2.4 .18 .2 .18 1.0 .18-5.1 .18 .3 .18-2.6 .18 6.9 .18-4.6 .18 2.2 .18 2.4 .18-1.5 .18-1.8 .18 5.1 .18-2.1 .18-3.2 .18 5.4 .18-6.5 .18 1.1 .18 5.7 .18-3.2 .18 4.5 .18-8.7 .18 6.5 .18-3.1 .18-.4 .18-.6 .18 6.9 .18-1.3 .18-6.2 .18 5.4 .18-3.5 .18-1.6 .18 6.2 .18-4.0 .18 1.5 .18-1.6 .18 2.6 .18-1.1 .18-.8 .18-1.3 .18 .5 .18-1.8 .18 2.9 .18-1.1 .18 3.1 .18 2.2 .18-2.3 .18-7.8 .18 8.0 .18-5.7 .18 5.0 .18-.6 .18-5.0 .18 1.5 .18 2.9 .18-2.9 .18 2.5 .18 .9 .18-2.8 .18-4.2 .18 .6 .18 4.9 .18-2.6 .18 1.3 .18 2.4 .18-3.4 .18 7.7 .18-6.8 .18 2.4 .18-3.1 .18-2.2 .18 1.2 .18 3.1 .18 3.0 .18-7.5 .18 3.4 .18-1.5 .18-2.1 .18 2.6 .18-7.1 .18-1.1 .18 11.5 .18-1.8 .18-1.6 .18 .5 .18-1.9 .18 2.9 .18-.5 .18-5.1 .18 2.5 .18 6.6 .18-4.3 .18 0 .18-3.3 .18-3.0 .18 3.3 .18-2.9 .18 2.0 .18 1.2 .18-7.2 .18 6.5 .18-1.6 .18 2.1 .18-1.6 .18 .2 .18-3.2 .18 4.7 .18-3.2 .18 .7 .18 2.1 .18 5.2 .18-9.9 .18 1.9 .18 4.7 .18-.9 .18-1.8 .18 5.6 .18-9.9 .18 8.3 .18-9.9 .18 7.2 .18 4.4 .18-9.5 .18-1.8 .18 1.9 .18 6.2 .18-6.0 .18-4.5 .18-.5 .18 6.9 .18-2.4 .18-.7 .18 3.3 .18-1.5 .18 1.5 .18 3.3 .18-9.2 .18 7.3 .18 .3 .18-2.0 .18 2.0 .18-3.4 .18-.7 .18 3.6 .18-1.5 .18 1.6 .18-2.4 .18 .8 .18-2.2 .18-4.2 .18 8.0 .18 1.0 .18-.5 .18-5.2 .18-1.3 .18 10.8 .18-8.8 .18 3.6 .18-3.3 .18 6.6 .18-1.4 .18-1.6 .18-6.7 .18 6.0 .18 1.2 .18-.3 .18 2.1 .18-8.8 .18 8.5 .18-5.4 .18 .8 .18 4.7 .18-8.1 .18 4.5 .18-.4 .18-.3 .18-2.6 .18 8.6 .18-8.3 .18-4.2 .18 3.6 .18 2.5 .18-2.7 .18-.6 .18-.5 .18-1.1 .18 1.6 .18-3.4 .18-.8 .18-1.7 .18 7.7 .18-1.4 .18-2.6 .18 0 .18 2.4 .18 5.2 .18-5.2 .18-7.4 .18 4.2 .18 6.3 .18-2.7 .18-1.2 .18-4.8 .18 6.5 .18-.8 .18 .3 .18 .2 .18-.8 .18-5.9 .18 8.9 .18-4.9 .18 .5 .18 2.3 .18-1.1 .18-.4 .18 .9 .18-3.9 .18 9.4 .18-9.2 .18-.9 .18 2.0 .18-4.0 .18-2.3 .18 1.1 .18 1.3 .18 7.0 .18-6.5 .18-.3 .18 0 .18-.6 .18 1.5 .18 3.0 .18-5.1 .18-2.8 .18 9.2 .18-2.7 .18 1.9 .18-2.6 .18-1.0 .18-2.7 .18 .5 .18 3.4 .18-4.2 .18 1.2 .18-3.8 .18 4.1 .18 2.3 .18-7.1 .18 1.7 .18-1.0 .18-.1 .18 .4 .18-2.3 .18 7.1 .18-7.4 .18 5.4 .18-3.4 .18-2.9 .18 3.7 .18 3.8 .18-2.1 .18-5.4 .18 .8 .18 .2 .18-1.2 .18 3.7 .18 3.7 .18-7.1 .18-7.6 .18 11.6 .18-1.2 .18-1.4 .18-7.9 .18 7.5 .18-3.4 .18 .2 .18 1.9 .18-4.1 .18 3.4 .18-3.5 .18 2.0 .18 2.3 .18-3.3 .18 5.3 .18-.9 .18-1.7 .18-1.3 .18-4.8 .18 4.6 .18-1.3 .18-6.8 .18-3.6 .18 9.6 .18-1.8 .18-4.1 .18 7.9 .18-.1 .18-2.8 .18-4.7 .18 4.4 .18-.8 .18-4.4 .18-1.0 .18-4.6 .18 9.4 .18-1.7 .18-.4 .18 7.3 .18-7.4 .18 2.3 .18-2.6 .18-2.7 .18 6.6 .18-.6 .18 2.6 .18-7.1 .18-7.5 .18 11.6 .18 .4 .18-5.7 .18 9.8 .18-10.9 .18 6.2 .18-.7 .18-1.4 .18-2.1 .18 8.5 .18-10.7 .18 3.3 .18 .5 .18 3.8 .18 1.4 .18-10.3 .18 4.0 .18-1.4 .18 .3 .18 5.3 .18-5.1 .18 4.1 .18-1.7 .18-3.4 .18-.1 .18 6.3 .18-7.1 .18 4.4 .18-4.1 .18 7.1 .18 .5 .18-6.4 .18 .7 .18 2.7 .18-6.2 .18-1.5 .18 .8 .18 .5 .18 1.4 .18-.1 .18 1.6 .18 2.0 .18-5.9 .18-2.6 .18 9.4 .18-10.0 .18 4.5 .18-.9 .18-.2 .18 8.2 .18-7.6 .18 6.0 .18-7.5 .18 2.0 .18-3.3 .18 8.5 .18-1.4 .18-6.1 .18 4.0 .18 5.9 .18-.1 .18-3.7 .18-6.0 .18 2.2 .18-1.9 .18 3.6 .18-1.6 .18 .4 .18 1.3 .18-1.4 .18-.2 .18-2.8 .18-2.4 .18 .9 .18 3.1 .18-1.3 .18 3.2 .18-3.4 .18-2.5 .18-.4 .18 1.5 .18 9.1 .18-9.1 .18 1.2 .18 6.1 .18 2.7 .18-11.6 .18-.1 .18 4.8 .18-3.3 .18-.9 .18 2.5 .18-1.5 .18-1.8 .18 2.8 .18 .4 .18 1.7 .18-7.7 .18 0 .18 5.8 .18-5.7 .18 3.9 .18 3.6 .18 2.4 .18-1.9 .18-4.8 .18 1.4 .18 .6 .18 0 .18 5.8 .18-5.0 .18 1.2 .18-1.1 .18 4.8 .18-4.1 .18 5.6 .18-4.8 .18 6.6 .18-1.4 .18 1.1 .18-.2 .18-6.1 .18 2.9 .18 4.2 .18-4.8 .18 6.8 .18-2.9 .18-4.9 .18 5.7 .18 1.7 .18-.3 .18-2.7 .18 .6 .18 4.9 .18-9.5 .18 6.1 .18 2.1 .18 1.2 .18 .4 .18-8.4 .18 6.4 .18-.9 .18 3.9 .18 7.4 .18 2.8 .18-10.2 .18-4.4 .18 8.1 .18-.5 .18 6.0 .18-4.7 .18 2.1 .18-.5 .18-1.2 .18-2.6 .18 6.2 .18-7.2 .18 5.4 .18-1.3 .18 3.2 .18-1.5 .18-7.3 .18 3.9 .18 1.8 .18-2.1 .18-1.2 .18 3.2 .18 4.8 .18-4.7 .18-2.2 .18 4.7 .18-3.5 .18 4.4 .18-.6 .18 1.3 .18-7.4 .18 12.3 .18-1.8 .18 .3 .18-6.5 .18-1.8 .18 11.8 .18-5.1 .18-4.7 .18 2.4 .18-3.1 .18 6.7 .18-6.9 .18 2.5 .18-1.8 .18-4.0 .18 4.7 .18-.2 .18 .2 .18 2.4 .18-1.2 .18-5.1 .18 5.2 .18-1.1 .18 .5 .18-2.4 .18 3.0 .18-.1 .18-.8 .18-4.1 .18 2.1 .18-.4 .18 8.8 .18-12.9 .18 3.1 .18 0 .18-3.1 .18 6.0 .18-4.1 .18 7.4 .18-3.8 .18-.4 .18-5.8 .18 13.7 .18-16.7 .18-.7 .18 6.6 .18 1.3 .18-3.8 .18 9.1 .18-8.6 .18 10.3 .18-4.9 .18-8.3 .18 5.0 .18-6.0 .18 11.2 .18-7.1 .18 7.0 .18-3.0 .18-4.0 .18 7.4 .18-1.9 .18 2.8 .18 0 .18-3.8 .18-.3 .18-5.1 .18 2.2 .18 6.3 .18-5.8 .18-1.4 .18 .8 .18 6.2 .18-9.0 .18 4.0 .18 2.6 .18 1.9 .18-2.6 .18 .2 .18-10.6 .18 7.6 .18 1.1 .18-1.3 .18-1.9 .18 2.1 .18-2.9 .18-3.0 .18 6.3 .18 2.8 .18-2.9 .18 1.3 .18-8.1 .18 4.3 .18 9.6 .18-6.9 .18-3.1 .18-3.3 .18 2.8 .18-2.3 .18 5.2 .18-11.5 .18 7.0 .18 .9 .18 3.9 .18-2.0 .18-.9 .18-.4 .18 .4 .18-1.4 .18 .5 .18 3.7 .18-3.4 .18-.8 .18 .3 .18-1.1 .18 4.2 .18-10.4 .18 2.9 .18-.5 .18-.9 .18 9.2 .18-6.3 .18-2.2 .18 6.4 .18-3.8 .18 2.2 .18-3.5 .18 1.1 .18 .2 .18-1.7 .18 10.5 .18-11.1 .18 .9 .18 5.3 .18 3.2 .18-4.7 .18 .1 .18-2.3 .18 3.3 .18-2.2 .18 1.4 .18-5.7 .18 8.5 .18-6.9 .18-2.4 .18 3.5 .18 .4 .18-2.1 .18 4.3 .18-3.5 .18 5.1 .18-4.5 .18 2.5 .18-.7 .18-6.6 .18 10.4 .18-7.3 .18 .6 .18 1.7 .18-3.0 .18 4.6 .18-8.9 .18 5.9 .18-.8 .18-2.6 .18 8.7 .18-4.3 .18-11.4 .18 13.9 .18-4.0 .18-6.1 .18 9.6 .18-1.7 .18-.8 .18-.2 .18 5.8 .18-5.0 .18-.4 .18-12.2 .18 15.9 .18-7.5 .18-4.6 .18 5.6 .18 4.7 .18-10.6 .18 2.6 .18 7.9 .18-8.0 .18 3.6 .18-6.0 .18 3.9 .18 4.0 .18-2.8 .18 .1 .18-5.6 .18 10.3 .18-7.2 .18 4.2 .18-6.1 .18 6.4 .18-6.3 .18 .2 .18 4.2 .18-.8 .18 1.5 .18-2.6 .18-2.3 .18-5.6 .18 9.1 .18-4.8 .18-1.6 .18 .8 .18 5.0 .18-3.5 .18 1.0 .18 5.4 .18-2.7 .18-2.1 .18-2.0 .18 1.9 .18-3.3 .18-4.6 .18 10.9 .18-1.4 .18-.4 .18-3.5 .18 2.7 .18 2.5 .18-9.2 .18 .9 .18 5.0 .18-3.6 .18 11.8 .18-6.2 .18-9.2 .18 9.2 .18-4.5 .18-5.9 .18 2.9 .18 6.1 .18-4.5 .18 7.1 .18-10.1 .18 6.7 .18-6.1 .18 3.1 .18 1.0 .18-2.2 .18-6.8 .18 10.6 .18-5.3 .18 4.1 .18 1.9 .18 1.1 .18-4.4 .18-11.4 .18 13.7 .18-7.3 .18 4.8 .18-5.5 .18 5.8 .18-2.2 .18-4.5 .18 .4 .18 3.4 .18 1.1 .18 1.2 .18-.9 .18-3.1 .18-2.8 .18 4.3 .18-5.1 .18-.7 .18-.2 .18 10.8 .18-11.1 .18 1.1 .18 3.1 .18-2.7 .18 1.3 .18-2.7 .18 11.4 .18-6.5 .18-5.9 .18-1.1 .18 1.3 .18 5.3 .18 1.5 .18 6.0 .18-17.8 .18 15.8 .18-12.5 .18 13.5 .18-4.9 .18-7.6 .18 2.0 .18 0 .18 1.7 .18 1.0 .18-2.5 .18-1.2 .18 7.8 .18 .9 .18-2.8 .18-4.8 .18 .4 .18-8.0 .18 10.0 .18-1.3 .18 1.7 .18-4.1 .18 .3 .18 3.0 .18-8.5 .18 9.8 .18-6.6 .18-.6 .18-4.1 .18 4.4 .18 2.2 .18-2.1 .18 3.9 .18 .1 .18 3.6 .18 .3 .18-3.8 .18-8.5 .18 2.6 .18-2.3 .18 6.7 .18-4.7 .18-2.7 .18 7.1 .18-2.5 .18 .8 .18-3.6 .18 3.7 .18-1.1 .18-7.1 .18 6.2 .18-2.1 .18-2.8 .18-1.2 .18 4.1 .18-1.0 .18 1.5 .18 8.2 .18-8.9 .18-5.8 .18 11.1 .18-.6 .18 .5 .18-2.9 .18 3.7 .18-1.5 .18-7.1 .18-3.4 .18 12.3 .18-.9 .18-4.0 .18 6.4 .18-7.8 .18 1.0 .18-.5 .18-2.1 .18 4.6 .18-5.2 .18 12.2 .18-10.5 .18-7.4 .18-.9 .18 5.0 .18-7.8 .18 7.7 .18 5.2 .18-9.2 .18 11.9 .18-6.3 .18-7.4 .18 10.5 .18-.4 .18-4.4 .18-3.3 .18 4.0 .18-6.8 .18 7.9 .18 1.3 .18-1.1 .18 5.9 .18-7.1 .18-3.0 .18 13.6 .18-4.4 .18-3.5 .18-1.0 .18 .1 .18-.8 .18-4.6 .18 4.5 .18 7.1 .18 .3 .18-6.5 .18-.9 .18-.2 .18 4.9 .18-11.2 .18 4.2 .18-2.2 .18-5.8 .18 3.4 .18 6.3 .18 4.0 .18-7.8 .18-3.3 .18-2.3 .18 12.0 .18-5.2 .18-3.5 .18-4.4 .18 8.2 .18-1.5 .18 3.1 .18-2.0 .18-1.0 .18 7.8 .18-.1 .18-4.4 .18-6.0 .18 6.1 .18 2.5 .18-10.2 .18-.4 .18 5.1 .18-3.4 .18 8.4 .18-4.6 .18-4.0 .18-2.5 .18 2.9 .18-4.8 .18 5.0 .18 .9 .18 .2 .18-6.9 .18 14.7 .18-13.6 .18-4.2 .18 4.6 .18 6.8 .18-9.2 .18 8.7 .18-3.9 .18 1.9 .18-6.2 .18 4.5 .18-3.4 .18 .2 .18 3.0 .18 4.0 .18-6.5 .18 2.5 .18-.3 .18 2.8 .18-4.4 .18 2.9 .18-10.5 .18 5.2 .18 3.3 .18 4.0 .18 5.8 .18-5.6 .18-2.7 .18-2.5 .18 1.7 .18 3.5 .18-6.0 .18-.9 .18 1.7 .18-5.3 .18 8.7 .18-3.4 .18-3.2 .18 2.9 .18 4.7 .18-3.9 .18-.6 .18 .7 .18 .7 .18-7.8 .18 3.9 .18 2.5 .18-1.9 .18-.4 .18 12.7 .18-1.9 .18-10.8 .18 10.8 .18-7.7 .18-3.2 .18 1.8 .18-2.5 .18 4.9 .18-.8 .18-1.1 .18 .2 .18-3.9 .18-2.8 .18 3.4 .18 5.4 .18 .1 .18-5.4 .18 3.4 .18 .6 .18-6.4 .18 5.3 .18-6.5 .18 12.6 .18-16.2 .18 3.6 .18 12.2 .18-12.2 .18-2.2 .18 4.5 .18-8.3 .18 8.9 .18-7.7 .18 1.6 .18 9.3 .18-3.7 .18 3.4 .18-10.1 .18 7.7 .18-1.4 .18 2.2 .18-2.5 .18-2.6 .18 13.4 .18-16.0 .18 3.5 .18-1.5 .18 2.3 .18 .8 .18-7.0 .18 9.3 .18-7.7 .18 13.9 .18-8.3 .18-2.4 .18 2.9 .18 .2 .18 2.5 .18-5.1 .18 1.4 .18-.6 .18-.4 .18-1.3 .18 4.3 .18-3.9 .18 .4 .18-2.4 .18-2.0 .18 3.2 .18-.3 .18 2.7 .18-9.6 .18 5.1 .18 3.3 .18 10.2 .18-7.1 .18-9.6 .18-3.5 .18 6.4 .18 3.8 .18 7.2 .18-11.8 .18 1.0 .18 2.4 .18-1.9 .18-2.9 .18 9.7 .18-6.1 .18 2.3 .18 .9 .18-8.6 .18 7.9 .18 3.2 .18-12.1 .18 3.8 .18-.8 .18 .7 .18 3.7 .18-5.3 .18 11.2 .18 1.8 .18-18.0 .18 7.5 .18 3.9 .18-4.1 .18 5.8 .18-7.0 .18-4.6 .18 6.8 .18 4.2 .18-8.6 .18 5.1 .18 1.4 .18 1.7 .18-2.8 .18 3.4 .18 2.4 .18-8.8 .18-6.2 .18 17.3 .18-3.5 .18-10.0 .18 5.5 .18-7.6 .18-4.3 .18-1.5 .18 16.2 .18-2.8 .18-3.2 .18-1.4 .18-6.5 .18 10.7 .18 2.1 .18-12.6 .18 1.1 .18 2.9 .18-5.8 .18 5.6 .18 6.3 .18-7.9 .18-.7 .18 8.4 .18 .3 .18-7.6 .18 1.8 .18 0 .18 5.8 .18-9.2 .18 1.4 .18 12.8 .18-11.5 .18-2.1 .18-2.2 .18 11.3 .18-6.7 .18-10.4 .18 8.9 .18 .7 .18-3.4 .18 6.3 .18-5.5 .18 3.0 .18-1.9 .18 .4 .18 .3 .18-7.9 .18 9.3"/></g></g>
<rect x="298.2" y="240.6" width="233.8" height="188.20000000000002" fill="none" stroke="#5a5a5a" stroke-width="1.5"/>
<path d="M298.20 428.80V432.50M321.58 428.80V430.80M344.96 428.80V432.50M368.34 428.80V430.80M391.72 428.80V432.50M415.10 428.80V430.80M438.48 428.80V432.50M461.86 428.80V430.80M485.24 428.80V432.50M508.62 428.80V430.80M532.00 428.80V432.50" stroke="#404040" stroke-width="1.1" fill="none"/>
<text x="298.20" y="443.00" class="tk">500</text>
<text x="344.96" y="443.00" class="tk">1000</text>
<text x="391.72" y="443.00" class="tk">1500</text>
<text x="438.48" y="443.00" class="tk">2000</text>
<text x="485.24" y="443.00" class="tk">2500</text>
<text x="532.00" y="443.00" class="tk">3000</text>
<text x="410.60" y="459.70" class="xl">Raman Shift (cm<tspan dy="-4" font-size="7">-1</tspan><tspan dy="4">)</tspan></text>
<text transform="translate(286.70 323.00) rotate(-90)" class="yl">Intensity (a.u.)</text>
<text x="300.70" y="253.90" class="pl">(d) GNH</text>
<text transform="translate(32.1 104.3) scale(0.95 1)" class="fe">Fe<tspan dy="4.2" font-size="8.8">3</tspan><tspan dy="-4.2">O</tspan><tspan dy="4.2" font-size="8.8">4</tspan></text>
<text transform="translate(306.6 103.8) scale(0.95 1)" class="fe">Fe<tspan dy="4.2" font-size="8.8">3</tspan><tspan dy="-4.2">O</tspan><tspan dy="4.2" font-size="8.8">4</tspan></text>
<text transform="translate(30.1 332.3) scale(0.95 1)" class="fe">Fe<tspan dy="4.2" font-size="8.8">3</tspan><tspan dy="-4.2">O</tspan><tspan dy="4.2" font-size="8.8">4</tspan></text>
<text transform="translate(302.1 334.4) scale(0.95 1)" class="fe">Fe<tspan dy="4.2" font-size="8.8">3</tspan><tspan dy="-4.2">O</tspan><tspan dy="4.2" font-size="8.8">4</tspan></text>
<text x="375.0" y="70.4" class="dg">D</text><text x="395.3" y="53.5" class="dg">G</text>
<text x="111.8" y="321.2" class="dg">D</text><text x="129.2" y="313.3" class="dg">G</text>
<text x="377.6" y="311.6" class="dg">D</text><text x="395.0" y="303.4" class="dg">G</text>
</svg>
</body></html>
